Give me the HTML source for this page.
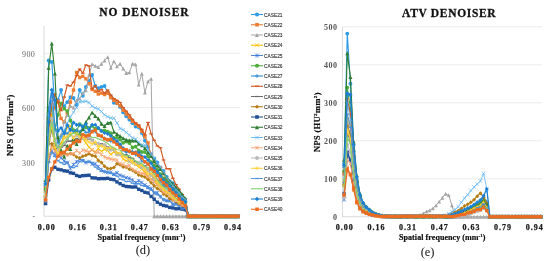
<!DOCTYPE html>
<html><head><meta charset="utf-8"><title>NPS charts</title>
<style>html,body{margin:0;padding:0;background:#fff}body{width:550px;height:261px;position:relative;overflow:hidden}</style>
</head><body>
<svg width="550" height="261" viewBox="0 0 550 261" style="position:absolute;left:0;top:0">
<line x1="44" x2="240" y1="161.92" y2="161.92" stroke="#E6E6E6" stroke-width="0.8"/>
<line x1="44" x2="240" y1="107.59" y2="107.59" stroke="#E6E6E6" stroke-width="0.8"/>
<line x1="44" x2="240" y1="53.27" y2="53.27" stroke="#E6E6E6" stroke-width="0.8"/>
<line x1="44" x2="240" y1="216.25" y2="216.25" stroke="#D0D0D0" stroke-width="0.8"/>
<line x1="44" x2="44" y1="26" y2="216.5" stroke="#D0D0D0" stroke-width="0.8"/>
<line x1="342.5" x2="542" y1="178.75" y2="178.75" stroke="#E6E6E6" stroke-width="0.8"/>
<line x1="342.5" x2="542" y1="140.75" y2="140.75" stroke="#E6E6E6" stroke-width="0.8"/>
<line x1="342.5" x2="542" y1="102.75" y2="102.75" stroke="#E6E6E6" stroke-width="0.8"/>
<line x1="342.5" x2="542" y1="64.75" y2="64.75" stroke="#E6E6E6" stroke-width="0.8"/>
<line x1="342.5" x2="542" y1="26.75" y2="26.75" stroke="#E6E6E6" stroke-width="0.8"/>
<line x1="342.5" x2="542" y1="216.75" y2="216.75" stroke="#D0D0D0" stroke-width="0.8"/>
<line x1="342.5" x2="342.5" y1="27" y2="217" stroke="#D0D0D0" stroke-width="0.8"/>
<g id="LCASE21"><polyline points="45.5,185.5 48.7,60.5 51.8,62.0 54.9,107.6 58.0,100.0 61.1,90.0 64.2,106.5 67.3,102.2 70.4,97.1 73.5,98.0 76.6,104.9 79.7,90.0 82.8,95.8 85.9,87.0 89.0,80.9 92.1,75.0 95.2,86.0 98.3,88.1 101.4,86.9 104.5,86.0 107.7,92.5 110.8,96.8 113.9,102.8 117.0,103.2 120.1,106.9 123.2,112.4 126.3,116.3 129.4,119.6 132.5,123.2 135.6,126.6 138.7,127.2 141.8,133.0 144.9,140.7 148.0,146.8 151.1,154.1 154.2,158.5 157.3,162.4 160.4,167.6 163.5,170.9 166.6,176.9 169.8,181.4 172.9,183.3 176.0,189.0 179.1,194.2 182.2,197.1 185.3,201.3 188.4,216.2 191.5,216.2 194.6,216.2 197.7,216.2 200.8,216.2 203.9,216.2 207.0,216.2 210.1,216.2 213.2,216.2 216.3,216.2 219.4,216.2 222.5,216.2 225.6,216.2 228.7,216.2 231.9,216.2 235.0,216.2 238.1,216.2" fill="none" stroke="#2E9BE6" stroke-width="1.14" stroke-linejoin="round"/>
<g><circle cx="45.55" cy="185.46" r="1.92" fill="#2E9BE6"/><circle cx="48.65" cy="60.51" r="1.92" fill="#2E9BE6"/><circle cx="51.76" cy="61.96" r="1.92" fill="#2E9BE6"/><circle cx="54.86" cy="107.59" r="1.92" fill="#2E9BE6"/><circle cx="57.97" cy="99.99" r="1.92" fill="#2E9BE6"/><circle cx="61.07" cy="90.03" r="1.92" fill="#2E9BE6"/><circle cx="64.18" cy="106.51" r="1.92" fill="#2E9BE6"/><circle cx="67.28" cy="102.16" r="1.92" fill="#2E9BE6"/><circle cx="70.39" cy="97.09" r="1.92" fill="#2E9BE6"/><circle cx="73.5" cy="98" r="1.92" fill="#2E9BE6"/><circle cx="76.6" cy="104.88" r="1.92" fill="#2E9BE6"/><circle cx="79.7" cy="90.03" r="1.92" fill="#2E9BE6"/><circle cx="82.81" cy="95.76" r="1.92" fill="#2E9BE6"/><circle cx="85.91" cy="87.02" r="1.92" fill="#2E9BE6"/><circle cx="89.02" cy="80.89" r="1.92" fill="#2E9BE6"/><circle cx="92.12" cy="75" r="1.92" fill="#2E9BE6"/><circle cx="95.23" cy="86.04" r="1.92" fill="#2E9BE6"/><circle cx="98.33" cy="88.06" r="1.92" fill="#2E9BE6"/><circle cx="101.44" cy="86.95" r="1.92" fill="#2E9BE6"/><circle cx="104.54" cy="85.97" r="1.92" fill="#2E9BE6"/><circle cx="107.65" cy="92.45" r="1.92" fill="#2E9BE6"/><circle cx="110.75" cy="96.76" r="1.92" fill="#2E9BE6"/><circle cx="113.86" cy="102.81" r="1.92" fill="#2E9BE6"/><circle cx="116.97" cy="103.25" r="1.92" fill="#2E9BE6"/><circle cx="120.07" cy="106.9" r="1.92" fill="#2E9BE6"/><circle cx="123.17" cy="112.42" r="1.92" fill="#2E9BE6"/><circle cx="126.28" cy="116.28" r="1.92" fill="#2E9BE6"/><circle cx="129.38" cy="119.63" r="1.92" fill="#2E9BE6"/><circle cx="132.49" cy="123.2" r="1.92" fill="#2E9BE6"/><circle cx="135.59" cy="126.61" r="1.92" fill="#2E9BE6"/><circle cx="138.7" cy="127.23" r="1.92" fill="#2E9BE6"/><circle cx="141.81" cy="132.97" r="1.92" fill="#2E9BE6"/><circle cx="144.91" cy="140.65" r="1.92" fill="#2E9BE6"/><circle cx="148.01" cy="146.76" r="1.92" fill="#2E9BE6"/><circle cx="151.12" cy="154.07" r="1.92" fill="#2E9BE6"/><circle cx="154.22" cy="158.55" r="1.92" fill="#2E9BE6"/><circle cx="157.33" cy="162.38" r="1.92" fill="#2E9BE6"/><circle cx="160.44" cy="167.58" r="1.92" fill="#2E9BE6"/><circle cx="163.54" cy="170.93" r="1.92" fill="#2E9BE6"/><circle cx="166.64" cy="176.94" r="1.92" fill="#2E9BE6"/><circle cx="169.75" cy="181.41" r="1.92" fill="#2E9BE6"/><circle cx="172.85" cy="183.25" r="1.92" fill="#2E9BE6"/><circle cx="175.96" cy="189" r="1.92" fill="#2E9BE6"/><circle cx="179.06" cy="194.18" r="1.92" fill="#2E9BE6"/><circle cx="182.17" cy="197.11" r="1.92" fill="#2E9BE6"/><circle cx="185.27" cy="201.32" r="1.92" fill="#2E9BE6"/><circle cx="188.38" cy="216.25" r="1.92" fill="#2E9BE6"/><circle cx="191.49" cy="216.25" r="1.92" fill="#2E9BE6"/><circle cx="194.59" cy="216.25" r="1.92" fill="#2E9BE6"/><circle cx="197.69" cy="216.25" r="1.92" fill="#2E9BE6"/><circle cx="200.8" cy="216.25" r="1.92" fill="#2E9BE6"/><circle cx="203.9" cy="216.25" r="1.92" fill="#2E9BE6"/><circle cx="207.01" cy="216.25" r="1.92" fill="#2E9BE6"/><circle cx="210.12" cy="216.25" r="1.92" fill="#2E9BE6"/><circle cx="213.22" cy="216.25" r="1.92" fill="#2E9BE6"/><circle cx="216.32" cy="216.25" r="1.92" fill="#2E9BE6"/><circle cx="219.43" cy="216.25" r="1.92" fill="#2E9BE6"/><circle cx="222.53" cy="216.25" r="1.92" fill="#2E9BE6"/><circle cx="225.64" cy="216.25" r="1.92" fill="#2E9BE6"/><circle cx="228.75" cy="216.25" r="1.92" fill="#2E9BE6"/><circle cx="231.85" cy="216.25" r="1.92" fill="#2E9BE6"/><circle cx="234.95" cy="216.25" r="1.92" fill="#2E9BE6"/><circle cx="238.06" cy="216.25" r="1.92" fill="#2E9BE6"/></g></g>
<g id="LCASE22"><polyline points="45.5,190.9 48.7,140.2 51.8,114.8 54.9,107.6 58.0,101.4 61.1,118.5 64.2,122.1 67.3,113.6 70.4,102.2 73.5,90.0 76.6,72.5 79.7,77.5 82.8,76.3 85.9,78.8 89.0,83.7 92.1,89.5 95.2,91.3 98.3,94.0 101.4,93.1 104.5,94.6 107.7,93.1 110.8,97.6 113.9,100.3 117.0,103.1 120.1,105.8 123.2,110.3 126.3,113.9 129.4,117.6 132.5,121.2 135.6,123.9 138.7,126.1 141.8,131.1 144.9,136.6 148.0,142.9 151.1,155.9 154.2,161.9 157.3,165.5 160.4,168.3 163.5,173.7 166.6,179.1 169.8,183.7 172.9,187.3 176.0,191.8 179.1,196.3 182.2,199.0 185.3,201.8 188.4,216.2 191.5,216.2 194.6,216.2 197.7,216.2 200.8,216.2 203.9,216.2 207.0,216.2 210.1,216.2 213.2,216.2 216.3,216.2 219.4,216.2 222.5,216.2 225.6,216.2 228.7,216.2 231.9,216.2 235.0,216.2 238.1,216.2" fill="none" stroke="#ED7D31" stroke-width="1.14" stroke-linejoin="round"/>
<g><rect x="43.85" y="189.2" width="3.4" height="3.4" fill="#ED7D31"/><rect x="46.95" y="138.49" width="3.4" height="3.4" fill="#ED7D31"/><rect x="50.06" y="113.14" width="3.4" height="3.4" fill="#ED7D31"/><rect x="53.16" y="105.89" width="3.4" height="3.4" fill="#ED7D31"/><rect x="56.27" y="99.74" width="3.4" height="3.4" fill="#ED7D31"/><rect x="59.37" y="116.76" width="3.4" height="3.4" fill="#ED7D31"/><rect x="62.48" y="120.38" width="3.4" height="3.4" fill="#ED7D31"/><rect x="65.58" y="111.87" width="3.4" height="3.4" fill="#ED7D31"/><rect x="68.69" y="100.46" width="3.4" height="3.4" fill="#ED7D31"/><rect x="71.8" y="88.33" width="3.4" height="3.4" fill="#ED7D31"/><rect x="74.9" y="70.76" width="3.4" height="3.4" fill="#ED7D31"/><rect x="78" y="75.83" width="3.4" height="3.4" fill="#ED7D31"/><rect x="81.11" y="74.56" width="3.4" height="3.4" fill="#ED7D31"/><rect x="84.21" y="77.1" width="3.4" height="3.4" fill="#ED7D31"/><rect x="87.32" y="81.99" width="3.4" height="3.4" fill="#ED7D31"/><rect x="90.42" y="87.78" width="3.4" height="3.4" fill="#ED7D31"/><rect x="93.53" y="89.6" width="3.4" height="3.4" fill="#ED7D31"/><rect x="96.63" y="92.31" width="3.4" height="3.4" fill="#ED7D31"/><rect x="99.74" y="91.41" width="3.4" height="3.4" fill="#ED7D31"/><rect x="102.84" y="92.85" width="3.4" height="3.4" fill="#ED7D31"/><rect x="105.95" y="91.41" width="3.4" height="3.4" fill="#ED7D31"/><rect x="109.05" y="95.93" width="3.4" height="3.4" fill="#ED7D31"/><rect x="112.16" y="98.65" width="3.4" height="3.4" fill="#ED7D31"/><rect x="115.27" y="101.37" width="3.4" height="3.4" fill="#ED7D31"/><rect x="118.37" y="104.08" width="3.4" height="3.4" fill="#ED7D31"/><rect x="121.47" y="108.61" width="3.4" height="3.4" fill="#ED7D31"/><rect x="124.58" y="112.23" width="3.4" height="3.4" fill="#ED7D31"/><rect x="127.68" y="115.85" width="3.4" height="3.4" fill="#ED7D31"/><rect x="130.79" y="119.48" width="3.4" height="3.4" fill="#ED7D31"/><rect x="133.9" y="122.19" width="3.4" height="3.4" fill="#ED7D31"/><rect x="137" y="124.37" width="3.4" height="3.4" fill="#ED7D31"/><rect x="140.11" y="129.44" width="3.4" height="3.4" fill="#ED7D31"/><rect x="143.21" y="134.87" width="3.4" height="3.4" fill="#ED7D31"/><rect x="146.31" y="141.21" width="3.4" height="3.4" fill="#ED7D31"/><rect x="149.42" y="154.25" width="3.4" height="3.4" fill="#ED7D31"/><rect x="152.53" y="160.22" width="3.4" height="3.4" fill="#ED7D31"/><rect x="155.63" y="163.84" width="3.4" height="3.4" fill="#ED7D31"/><rect x="158.74" y="166.56" width="3.4" height="3.4" fill="#ED7D31"/><rect x="161.84" y="171.99" width="3.4" height="3.4" fill="#ED7D31"/><rect x="164.94" y="177.43" width="3.4" height="3.4" fill="#ED7D31"/><rect x="168.05" y="181.95" width="3.4" height="3.4" fill="#ED7D31"/><rect x="171.16" y="185.57" width="3.4" height="3.4" fill="#ED7D31"/><rect x="174.26" y="190.1" width="3.4" height="3.4" fill="#ED7D31"/><rect x="177.37" y="194.63" width="3.4" height="3.4" fill="#ED7D31"/><rect x="180.47" y="197.35" width="3.4" height="3.4" fill="#ED7D31"/><rect x="183.57" y="200.06" width="3.4" height="3.4" fill="#ED7D31"/><rect x="186.68" y="214.55" width="3.4" height="3.4" fill="#ED7D31"/><rect x="189.79" y="214.55" width="3.4" height="3.4" fill="#ED7D31"/><rect x="192.89" y="214.55" width="3.4" height="3.4" fill="#ED7D31"/><rect x="196" y="214.55" width="3.4" height="3.4" fill="#ED7D31"/><rect x="199.1" y="214.55" width="3.4" height="3.4" fill="#ED7D31"/><rect x="202.2" y="214.55" width="3.4" height="3.4" fill="#ED7D31"/><rect x="205.31" y="214.55" width="3.4" height="3.4" fill="#ED7D31"/><rect x="208.42" y="214.55" width="3.4" height="3.4" fill="#ED7D31"/><rect x="211.52" y="214.55" width="3.4" height="3.4" fill="#ED7D31"/><rect x="214.62" y="214.55" width="3.4" height="3.4" fill="#ED7D31"/><rect x="217.73" y="214.55" width="3.4" height="3.4" fill="#ED7D31"/><rect x="220.83" y="214.55" width="3.4" height="3.4" fill="#ED7D31"/><rect x="223.94" y="214.55" width="3.4" height="3.4" fill="#ED7D31"/><rect x="227.05" y="214.55" width="3.4" height="3.4" fill="#ED7D31"/><rect x="230.15" y="214.55" width="3.4" height="3.4" fill="#ED7D31"/><rect x="233.25" y="214.55" width="3.4" height="3.4" fill="#ED7D31"/><rect x="236.36" y="214.55" width="3.4" height="3.4" fill="#ED7D31"/></g></g>
<g id="LCASE23"><polyline points="45.5,198.1 48.7,143.8 51.8,122.1 54.9,151.1 58.0,147.4 61.1,134.8 64.2,122.1 67.3,114.8 70.4,105.8 73.5,107.6 76.6,100.3 79.7,98.5 82.8,93.1 85.9,90.4 89.0,75.0 92.1,64.1 95.2,65.9 98.3,67.0 101.4,63.8 104.5,60.5 107.7,57.1 110.8,67.9 113.9,61.2 117.0,66.3 120.1,63.8 123.2,68.7 126.3,73.0 129.4,72.5 132.5,63.8 135.6,64.3 138.7,84.6 141.8,73.7 144.9,92.6 148.0,81.3 151.1,78.8 154.2,216.2 157.3,216.2 160.4,216.2 163.5,216.2 166.6,216.2 169.8,216.2 172.9,216.2 176.0,216.2 179.1,216.2 182.2,216.2 185.3,216.2 188.4,216.2 191.5,216.2 194.6,216.2 197.7,216.2 200.8,216.2 203.9,216.2 207.0,216.2 210.1,216.2 213.2,216.2 216.3,216.2 219.4,216.2 222.5,216.2 225.6,216.2 228.7,216.2 231.9,216.2 235.0,216.2 238.1,216.2" fill="none" stroke="#A5A5A5" stroke-width="1.0" stroke-linejoin="round"/>
<g><path d="M45.55 196.24L47.45 200.04L43.65 200.04Z" fill="#A5A5A5"/><path d="M48.65 141.91L50.55 145.71L46.75 145.71Z" fill="#A5A5A5"/><path d="M51.76 120.18L53.66 123.98L49.86 123.98Z" fill="#A5A5A5"/><path d="M54.86 149.16L56.76 152.96L52.96 152.96Z" fill="#A5A5A5"/><path d="M57.97 145.53L59.87 149.33L56.07 149.33Z" fill="#A5A5A5"/><path d="M61.07 132.86L62.97 136.66L59.17 136.66Z" fill="#A5A5A5"/><path d="M64.18 120.18L66.08 123.98L62.28 123.98Z" fill="#A5A5A5"/><path d="M67.28 112.94L69.19 116.74L65.38 116.74Z" fill="#A5A5A5"/><path d="M70.39 103.88L72.29 107.68L68.49 107.68Z" fill="#A5A5A5"/><path d="M73.5 105.69L75.4 109.49L71.59 109.49Z" fill="#A5A5A5"/><path d="M76.6 98.45L78.5 102.25L74.7 102.25Z" fill="#A5A5A5"/><path d="M79.7 96.64L81.61 100.44L77.8 100.44Z" fill="#A5A5A5"/><path d="M82.81 91.21L84.71 95.01L80.91 95.01Z" fill="#A5A5A5"/><path d="M85.91 88.49L87.81 92.29L84.01 92.29Z" fill="#A5A5A5"/><path d="M89.02 73.1L90.92 76.9L87.12 76.9Z" fill="#A5A5A5"/><path d="M92.12 62.23L94.03 66.03L90.22 66.03Z" fill="#A5A5A5"/><path d="M95.23 64.04L97.13 67.84L93.33 67.84Z" fill="#A5A5A5"/><path d="M98.33 65.13L100.23 68.93L96.43 68.93Z" fill="#A5A5A5"/><path d="M101.44 61.87L103.34 65.67L99.54 65.67Z" fill="#A5A5A5"/><path d="M104.54 58.61L106.44 62.41L102.64 62.41Z" fill="#A5A5A5"/><path d="M107.65 55.17L109.55 58.97L105.75 58.97Z" fill="#A5A5A5"/><path d="M110.75 66.03L112.66 69.83L108.85 69.83Z" fill="#A5A5A5"/><path d="M113.86 59.33L115.76 63.13L111.96 63.13Z" fill="#A5A5A5"/><path d="M116.97 64.4L118.87 68.2L115.06 68.2Z" fill="#A5A5A5"/><path d="M120.07 61.87L121.97 65.67L118.17 65.67Z" fill="#A5A5A5"/><path d="M123.17 66.76L125.08 70.56L121.27 70.56Z" fill="#A5A5A5"/><path d="M126.28 71.1L128.18 74.9L124.38 74.9Z" fill="#A5A5A5"/><path d="M129.38 70.56L131.28 74.36L127.48 74.36Z" fill="#A5A5A5"/><path d="M132.49 61.87L134.39 65.67L130.59 65.67Z" fill="#A5A5A5"/><path d="M135.59 62.41L137.5 66.21L133.69 66.21Z" fill="#A5A5A5"/><path d="M138.7 82.69L140.6 86.49L136.8 86.49Z" fill="#A5A5A5"/><path d="M141.81 71.83L143.71 75.63L139.91 75.63Z" fill="#A5A5A5"/><path d="M144.91 90.66L146.81 94.46L143.01 94.46Z" fill="#A5A5A5"/><path d="M148.01 79.44L149.91 83.24L146.11 83.24Z" fill="#A5A5A5"/><path d="M151.12 76.9L153.02 80.7L149.22 80.7Z" fill="#A5A5A5"/><path d="M154.22 214.35L156.12 218.15L152.32 218.15Z" fill="#A5A5A5"/><path d="M157.33 214.35L159.23 218.15L155.43 218.15Z" fill="#A5A5A5"/><path d="M160.44 214.35L162.34 218.15L158.53 218.15Z" fill="#A5A5A5"/><path d="M163.54 214.35L165.44 218.15L161.64 218.15Z" fill="#A5A5A5"/><path d="M166.64 214.35L168.54 218.15L164.74 218.15Z" fill="#A5A5A5"/><path d="M169.75 214.35L171.65 218.15L167.85 218.15Z" fill="#A5A5A5"/><path d="M172.85 214.35L174.75 218.15L170.95 218.15Z" fill="#A5A5A5"/><path d="M175.96 214.35L177.86 218.15L174.06 218.15Z" fill="#A5A5A5"/><path d="M179.06 214.35L180.97 218.15L177.16 218.15Z" fill="#A5A5A5"/><path d="M182.17 214.35L184.07 218.15L180.27 218.15Z" fill="#A5A5A5"/><path d="M185.27 214.35L187.17 218.15L183.37 218.15Z" fill="#A5A5A5"/><path d="M188.38 214.35L190.28 218.15L186.48 218.15Z" fill="#A5A5A5"/><path d="M191.49 214.35L193.39 218.15L189.59 218.15Z" fill="#A5A5A5"/><path d="M194.59 214.35L196.49 218.15L192.69 218.15Z" fill="#A5A5A5"/><path d="M197.69 214.35L199.59 218.15L195.79 218.15Z" fill="#A5A5A5"/><path d="M200.8 214.35L202.7 218.15L198.9 218.15Z" fill="#A5A5A5"/><path d="M203.9 214.35L205.8 218.15L202 218.15Z" fill="#A5A5A5"/><path d="M207.01 214.35L208.91 218.15L205.11 218.15Z" fill="#A5A5A5"/><path d="M210.12 214.35L212.02 218.15L208.22 218.15Z" fill="#A5A5A5"/><path d="M213.22 214.35L215.12 218.15L211.32 218.15Z" fill="#A5A5A5"/><path d="M216.32 214.35L218.22 218.15L214.42 218.15Z" fill="#A5A5A5"/><path d="M219.43 214.35L221.33 218.15L217.53 218.15Z" fill="#A5A5A5"/><path d="M222.53 214.35L224.43 218.15L220.63 218.15Z" fill="#A5A5A5"/><path d="M225.64 214.35L227.54 218.15L223.74 218.15Z" fill="#A5A5A5"/><path d="M228.75 214.35L230.65 218.15L226.84 218.15Z" fill="#A5A5A5"/><path d="M231.85 214.35L233.75 218.15L229.95 218.15Z" fill="#A5A5A5"/><path d="M234.95 214.35L236.85 218.15L233.05 218.15Z" fill="#A5A5A5"/><path d="M238.06 214.35L239.96 218.15L236.16 218.15Z" fill="#A5A5A5"/></g></g>
<g id="LCASE24"><polyline points="45.5,194.5 48.7,129.3 51.8,114.8 54.9,138.4 58.0,151.2 61.1,142.9 64.2,135.9 67.3,127.6 70.4,125.8 73.5,131.4 76.6,133.3 79.7,134.8 82.8,138.6 85.9,142.9 89.0,147.2 92.1,149.9 95.2,151.9 98.3,148.7 101.4,151.4 104.5,149.5 107.7,150.5 110.8,154.5 113.9,151.9 117.0,154.2 120.1,154.7 123.2,159.2 126.3,160.7 129.4,161.9 132.5,160.7 135.6,164.3 138.7,167.1 141.8,169.0 144.9,172.0 148.0,176.1 151.1,179.0 154.2,179.0 157.3,184.6 160.4,184.5 163.5,190.2 166.6,192.8 169.8,194.5 172.9,198.4 176.0,200.1 179.1,199.8 182.2,202.3 185.3,204.4 188.4,216.2 191.5,216.2 194.6,216.2 197.7,216.2 200.8,216.2 203.9,216.2 207.0,216.2 210.1,216.2 213.2,216.2 216.3,216.2 219.4,216.2 222.5,216.2 225.6,216.2 228.7,216.2 231.9,216.2 235.0,216.2 238.1,216.2" fill="none" stroke="#FFC000" stroke-width="1.14" stroke-linejoin="round"/>
<g><path d="M43.63 192.6L47.47 196.44M43.63 196.44L47.47 192.6" stroke="#FFC000" stroke-width="0.7" fill="none"/><path d="M46.73 127.4L50.57 131.24M46.73 131.24L50.57 127.4" stroke="#FFC000" stroke-width="0.7" fill="none"/><path d="M49.84 112.92L53.68 116.76M49.84 116.76L53.68 112.92" stroke="#FFC000" stroke-width="0.7" fill="none"/><path d="M52.94 136.46L56.78 140.3M52.94 140.3L56.78 136.46" stroke="#FFC000" stroke-width="0.7" fill="none"/><path d="M56.05 149.27L59.89 153.11M56.05 153.11L59.89 149.27" stroke="#FFC000" stroke-width="0.7" fill="none"/><path d="M59.15 141.01L62.99 144.85M59.15 144.85L62.99 141.01" stroke="#FFC000" stroke-width="0.7" fill="none"/><path d="M62.26 134.01L66.1 137.85M62.26 137.85L66.1 134.01" stroke="#FFC000" stroke-width="0.7" fill="none"/><path d="M65.36 125.68L69.2 129.52M65.36 129.52L69.2 125.68" stroke="#FFC000" stroke-width="0.7" fill="none"/><path d="M68.47 123.84L72.31 127.68M68.47 127.68L72.31 123.84" stroke="#FFC000" stroke-width="0.7" fill="none"/><path d="M71.58 129.47L75.42 133.31M71.58 133.31L75.42 129.47" stroke="#FFC000" stroke-width="0.7" fill="none"/><path d="M74.68 131.37L78.52 135.21M74.68 135.21L78.52 131.37" stroke="#FFC000" stroke-width="0.7" fill="none"/><path d="M77.78 132.87L81.62 136.71M77.78 136.71L81.62 132.87" stroke="#FFC000" stroke-width="0.7" fill="none"/><path d="M80.89 136.67L84.73 140.51M80.89 140.51L84.73 136.67" stroke="#FFC000" stroke-width="0.7" fill="none"/><path d="M83.99 140.94L87.83 144.78M83.99 144.78L87.83 140.94" stroke="#FFC000" stroke-width="0.7" fill="none"/><path d="M87.1 145.26L90.94 149.1M87.1 149.1L90.94 145.26" stroke="#FFC000" stroke-width="0.7" fill="none"/><path d="M90.2 148L94.05 151.84M90.2 151.84L94.05 148" stroke="#FFC000" stroke-width="0.7" fill="none"/><path d="M93.31 149.94L97.15 153.78M93.31 153.78L97.15 149.94" stroke="#FFC000" stroke-width="0.7" fill="none"/><path d="M96.41 146.75L100.25 150.59M96.41 150.59L100.25 146.75" stroke="#FFC000" stroke-width="0.7" fill="none"/><path d="M99.52 149.49L103.36 153.33M99.52 153.33L103.36 149.49" stroke="#FFC000" stroke-width="0.7" fill="none"/><path d="M102.62 147.59L106.46 151.43M102.62 151.43L106.46 147.59" stroke="#FFC000" stroke-width="0.7" fill="none"/><path d="M105.73 148.57L109.57 152.41M105.73 152.41L109.57 148.57" stroke="#FFC000" stroke-width="0.7" fill="none"/><path d="M108.83 152.6L112.67 156.44M108.83 156.44L112.67 152.6" stroke="#FFC000" stroke-width="0.7" fill="none"/><path d="M111.94 150L115.78 153.84M111.94 153.84L115.78 150" stroke="#FFC000" stroke-width="0.7" fill="none"/><path d="M115.05 152.28L118.89 156.12M115.05 156.12L118.89 152.28" stroke="#FFC000" stroke-width="0.7" fill="none"/><path d="M118.15 152.82L121.99 156.66M118.15 156.66L121.99 152.82" stroke="#FFC000" stroke-width="0.7" fill="none"/><path d="M121.25 157.29L125.09 161.13M121.25 161.13L125.09 157.29" stroke="#FFC000" stroke-width="0.7" fill="none"/><path d="M124.36 158.75L128.2 162.59M124.36 162.59L128.2 158.75" stroke="#FFC000" stroke-width="0.7" fill="none"/><path d="M127.46 160.01L131.3 163.85M127.46 163.85L131.3 160.01" stroke="#FFC000" stroke-width="0.7" fill="none"/><path d="M130.57 158.74L134.41 162.58M130.57 162.58L134.41 158.74" stroke="#FFC000" stroke-width="0.7" fill="none"/><path d="M133.68 162.33L137.51 166.17M133.68 166.17L137.51 162.33" stroke="#FFC000" stroke-width="0.7" fill="none"/><path d="M136.78 165.13L140.62 168.97M136.78 168.97L140.62 165.13" stroke="#FFC000" stroke-width="0.7" fill="none"/><path d="M139.89 167.11L143.72 170.95M139.89 170.95L143.72 167.11" stroke="#FFC000" stroke-width="0.7" fill="none"/><path d="M142.99 170.03L146.83 173.87M142.99 173.87L146.83 170.03" stroke="#FFC000" stroke-width="0.7" fill="none"/><path d="M146.09 174.19L149.93 178.03M146.09 178.03L149.93 174.19" stroke="#FFC000" stroke-width="0.7" fill="none"/><path d="M149.2 177.13L153.04 180.97M149.2 180.97L153.04 177.13" stroke="#FFC000" stroke-width="0.7" fill="none"/><path d="M152.31 177.11L156.14 180.95M152.31 180.95L156.14 177.11" stroke="#FFC000" stroke-width="0.7" fill="none"/><path d="M155.41 182.66L159.25 186.5M155.41 186.5L159.25 182.66" stroke="#FFC000" stroke-width="0.7" fill="none"/><path d="M158.52 182.56L162.35 186.4M158.52 186.4L162.35 182.56" stroke="#FFC000" stroke-width="0.7" fill="none"/><path d="M161.62 188.26L165.46 192.1M161.62 192.1L165.46 188.26" stroke="#FFC000" stroke-width="0.7" fill="none"/><path d="M164.72 190.9L168.56 194.74M164.72 194.74L168.56 190.9" stroke="#FFC000" stroke-width="0.7" fill="none"/><path d="M167.83 192.55L171.67 196.39M167.83 196.39L171.67 192.55" stroke="#FFC000" stroke-width="0.7" fill="none"/><path d="M170.94 196.48L174.77 200.32M170.94 200.32L174.77 196.48" stroke="#FFC000" stroke-width="0.7" fill="none"/><path d="M174.04 198.22L177.88 202.06M174.04 202.06L177.88 198.22" stroke="#FFC000" stroke-width="0.7" fill="none"/><path d="M177.15 197.86L180.98 201.7M177.15 201.7L180.98 197.86" stroke="#FFC000" stroke-width="0.7" fill="none"/><path d="M180.25 200.35L184.09 204.19M180.25 204.19L184.09 200.35" stroke="#FFC000" stroke-width="0.7" fill="none"/><path d="M183.35 202.47L187.19 206.31M183.35 206.31L187.19 202.47" stroke="#FFC000" stroke-width="0.7" fill="none"/><path d="M186.46 214.33L190.3 218.17M186.46 218.17L190.3 214.33" stroke="#FFC000" stroke-width="0.7" fill="none"/><path d="M189.57 214.33L193.41 218.17M189.57 218.17L193.41 214.33" stroke="#FFC000" stroke-width="0.7" fill="none"/><path d="M192.67 214.33L196.51 218.17M192.67 218.17L196.51 214.33" stroke="#FFC000" stroke-width="0.7" fill="none"/><path d="M195.78 214.33L199.61 218.17M195.78 218.17L199.61 214.33" stroke="#FFC000" stroke-width="0.7" fill="none"/><path d="M198.88 214.33L202.72 218.17M198.88 218.17L202.72 214.33" stroke="#FFC000" stroke-width="0.7" fill="none"/><path d="M201.98 214.33L205.82 218.17M201.98 218.17L205.82 214.33" stroke="#FFC000" stroke-width="0.7" fill="none"/><path d="M205.09 214.33L208.93 218.17M205.09 218.17L208.93 214.33" stroke="#FFC000" stroke-width="0.7" fill="none"/><path d="M208.2 214.33L212.03 218.17M208.2 218.17L212.03 214.33" stroke="#FFC000" stroke-width="0.7" fill="none"/><path d="M211.3 214.33L215.14 218.17M211.3 218.17L215.14 214.33" stroke="#FFC000" stroke-width="0.7" fill="none"/><path d="M214.41 214.33L218.24 218.17M214.41 218.17L218.24 214.33" stroke="#FFC000" stroke-width="0.7" fill="none"/><path d="M217.51 214.33L221.35 218.17M217.51 218.17L221.35 214.33" stroke="#FFC000" stroke-width="0.7" fill="none"/><path d="M220.61 214.33L224.45 218.17M220.61 218.17L224.45 214.33" stroke="#FFC000" stroke-width="0.7" fill="none"/><path d="M223.72 214.33L227.56 218.17M223.72 218.17L227.56 214.33" stroke="#FFC000" stroke-width="0.7" fill="none"/><path d="M226.83 214.33L230.66 218.17M226.83 218.17L230.66 214.33" stroke="#FFC000" stroke-width="0.7" fill="none"/><path d="M229.93 214.33L233.77 218.17M229.93 218.17L233.77 214.33" stroke="#FFC000" stroke-width="0.7" fill="none"/><path d="M233.03 214.33L236.87 218.17M233.03 218.17L236.87 214.33" stroke="#FFC000" stroke-width="0.7" fill="none"/><path d="M236.14 214.33L239.98 218.17M236.14 218.17L239.98 214.33" stroke="#FFC000" stroke-width="0.7" fill="none"/></g></g>
<g id="LCASE25"><polyline points="45.5,202.7 48.7,156.5 51.8,151.1 54.9,154.7 58.0,155.1 61.1,157.8 64.2,161.1 67.3,162.6 70.4,168.7 73.5,164.6 76.6,161.9 79.7,158.9 82.8,160.8 85.9,162.6 89.0,161.6 92.1,164.1 95.2,164.0 98.3,166.7 101.4,169.8 104.5,171.6 107.7,172.3 110.8,172.4 113.9,174.2 117.0,172.9 120.1,175.3 123.2,176.4 126.3,177.8 129.4,178.5 132.5,180.1 135.6,182.7 138.7,180.8 141.8,182.6 144.9,185.1 148.0,187.0 151.1,188.5 154.2,192.9 157.3,192.8 160.4,196.8 163.5,199.7 166.6,200.6 169.8,200.6 172.9,204.0 176.0,203.6 179.1,204.1 182.2,207.2 185.3,208.7 188.4,216.2 191.5,216.2 194.6,216.2 197.7,216.2 200.8,216.2 203.9,216.2 207.0,216.2 210.1,216.2 213.2,216.2 216.3,216.2 219.4,216.2 222.5,216.2 225.6,216.2 228.7,216.2 231.9,216.2 235.0,216.2 238.1,216.2" fill="none" stroke="#3C78D8" stroke-width="0.92" stroke-linejoin="round"/>
<g><path d="M43.63 200.75L47.47 204.59M43.63 204.59L47.47 200.75M45.55 200.75L45.55 204.59" stroke="#3C78D8" stroke-width="0.7" fill="none"/><path d="M46.73 154.57L50.57 158.41M46.73 158.41L50.57 154.57M48.65 154.57L48.65 158.41" stroke="#3C78D8" stroke-width="0.7" fill="none"/><path d="M49.84 149.14L53.68 152.98M49.84 152.98L53.68 149.14M51.76 149.14L51.76 152.98" stroke="#3C78D8" stroke-width="0.7" fill="none"/><path d="M52.94 152.76L56.78 156.6M52.94 156.6L56.78 152.76M54.86 152.76L54.86 156.6" stroke="#3C78D8" stroke-width="0.7" fill="none"/><path d="M56.05 153.15L59.89 156.99M56.05 156.99L59.89 153.15M57.97 153.15L57.97 156.99" stroke="#3C78D8" stroke-width="0.7" fill="none"/><path d="M59.15 155.92L62.99 159.76M59.15 159.76L62.99 155.92M61.07 155.92L61.07 159.76" stroke="#3C78D8" stroke-width="0.7" fill="none"/><path d="M62.26 159.15L66.1 162.99M62.26 162.99L66.1 159.15M64.18 159.15L64.18 162.99" stroke="#3C78D8" stroke-width="0.7" fill="none"/><path d="M65.36 160.68L69.2 164.52M65.36 164.52L69.2 160.68M67.28 160.68L67.28 164.52" stroke="#3C78D8" stroke-width="0.7" fill="none"/><path d="M68.47 166.74L72.31 170.58M68.47 170.58L72.31 166.74M70.39 166.74L70.39 170.58" stroke="#3C78D8" stroke-width="0.7" fill="none"/><path d="M71.58 162.63L75.42 166.47M71.58 166.47L75.42 162.63M73.5 162.63L73.5 166.47" stroke="#3C78D8" stroke-width="0.7" fill="none"/><path d="M74.68 159.99L78.52 163.83M74.68 163.83L78.52 159.99M76.6 159.99L76.6 163.83" stroke="#3C78D8" stroke-width="0.7" fill="none"/><path d="M77.78 156.98L81.62 160.82M77.78 160.82L81.62 156.98M79.7 156.98L79.7 160.82" stroke="#3C78D8" stroke-width="0.7" fill="none"/><path d="M80.89 158.9L84.73 162.74M80.89 162.74L84.73 158.9M82.81 158.9L82.81 162.74" stroke="#3C78D8" stroke-width="0.7" fill="none"/><path d="M83.99 160.63L87.83 164.47M83.99 164.47L87.83 160.63M85.91 160.63L85.91 164.47" stroke="#3C78D8" stroke-width="0.7" fill="none"/><path d="M87.1 159.7L90.94 163.54M87.1 163.54L90.94 159.7M89.02 159.7L89.02 163.54" stroke="#3C78D8" stroke-width="0.7" fill="none"/><path d="M90.2 162.2L94.05 166.04M90.2 166.04L94.05 162.2M92.12 162.2L92.12 166.04" stroke="#3C78D8" stroke-width="0.7" fill="none"/><path d="M93.31 162.06L97.15 165.9M93.31 165.9L97.15 162.06M95.23 162.06L95.23 165.9" stroke="#3C78D8" stroke-width="0.7" fill="none"/><path d="M96.41 164.73L100.25 168.57M96.41 168.57L100.25 164.73M98.33 164.73L98.33 168.57" stroke="#3C78D8" stroke-width="0.7" fill="none"/><path d="M99.52 167.86L103.36 171.7M99.52 171.7L103.36 167.86M101.44 167.86L101.44 171.7" stroke="#3C78D8" stroke-width="0.7" fill="none"/><path d="M102.62 169.67L106.46 173.51M102.62 173.51L106.46 169.67M104.54 169.67L104.54 173.51" stroke="#3C78D8" stroke-width="0.7" fill="none"/><path d="M105.73 170.39L109.57 174.23M105.73 174.23L109.57 170.39M107.65 170.39L107.65 174.23" stroke="#3C78D8" stroke-width="0.7" fill="none"/><path d="M108.83 170.47L112.67 174.31M108.83 174.31L112.67 170.47M110.75 170.47L110.75 174.31" stroke="#3C78D8" stroke-width="0.7" fill="none"/><path d="M111.94 172.3L115.78 176.14M111.94 176.14L115.78 172.3M113.86 172.3L113.86 176.14" stroke="#3C78D8" stroke-width="0.7" fill="none"/><path d="M115.05 171.01L118.89 174.85M115.05 174.85L118.89 171.01M116.97 171.01L116.97 174.85" stroke="#3C78D8" stroke-width="0.7" fill="none"/><path d="M118.15 173.37L121.99 177.21M118.15 177.21L121.99 173.37M120.07 173.37L120.07 177.21" stroke="#3C78D8" stroke-width="0.7" fill="none"/><path d="M121.25 174.48L125.09 178.32M121.25 178.32L125.09 174.48M123.17 174.48L123.17 178.32" stroke="#3C78D8" stroke-width="0.7" fill="none"/><path d="M124.36 175.84L128.2 179.68M124.36 179.68L128.2 175.84M126.28 175.84L126.28 179.68" stroke="#3C78D8" stroke-width="0.7" fill="none"/><path d="M127.46 176.55L131.3 180.39M127.46 180.39L131.3 176.55M129.38 176.55L129.38 180.39" stroke="#3C78D8" stroke-width="0.7" fill="none"/><path d="M130.57 178.15L134.41 181.99M130.57 181.99L134.41 178.15M132.49 178.15L132.49 181.99" stroke="#3C78D8" stroke-width="0.7" fill="none"/><path d="M133.68 180.82L137.51 184.66M133.68 184.66L137.51 180.82M135.59 180.82L135.59 184.66" stroke="#3C78D8" stroke-width="0.7" fill="none"/><path d="M136.78 178.84L140.62 182.68M136.78 182.68L140.62 178.84M138.7 178.84L138.7 182.68" stroke="#3C78D8" stroke-width="0.7" fill="none"/><path d="M139.89 180.65L143.72 184.49M139.89 184.49L143.72 180.65M141.81 180.65L141.81 184.49" stroke="#3C78D8" stroke-width="0.7" fill="none"/><path d="M142.99 183.17L146.83 187.01M142.99 187.01L146.83 183.17M144.91 183.17L144.91 187.01" stroke="#3C78D8" stroke-width="0.7" fill="none"/><path d="M146.09 185.05L149.93 188.89M146.09 188.89L149.93 185.05M148.01 185.05L148.01 188.89" stroke="#3C78D8" stroke-width="0.7" fill="none"/><path d="M149.2 186.59L153.04 190.43M149.2 190.43L153.04 186.59M151.12 186.59L151.12 190.43" stroke="#3C78D8" stroke-width="0.7" fill="none"/><path d="M152.31 191L156.14 194.84M152.31 194.84L156.14 191M154.22 191L154.22 194.84" stroke="#3C78D8" stroke-width="0.7" fill="none"/><path d="M155.41 190.84L159.25 194.68M155.41 194.68L159.25 190.84M157.33 190.84L157.33 194.68" stroke="#3C78D8" stroke-width="0.7" fill="none"/><path d="M158.52 194.85L162.35 198.69M158.52 198.69L162.35 194.85M160.44 194.85L160.44 198.69" stroke="#3C78D8" stroke-width="0.7" fill="none"/><path d="M161.62 197.76L165.46 201.6M161.62 201.6L165.46 197.76M163.54 197.76L163.54 201.6" stroke="#3C78D8" stroke-width="0.7" fill="none"/><path d="M164.72 198.7L168.56 202.54M164.72 202.54L168.56 198.7M166.64 198.7L166.64 202.54" stroke="#3C78D8" stroke-width="0.7" fill="none"/><path d="M167.83 198.65L171.67 202.49M167.83 202.49L171.67 198.65M169.75 198.65L169.75 202.49" stroke="#3C78D8" stroke-width="0.7" fill="none"/><path d="M170.94 202.09L174.77 205.93M170.94 205.93L174.77 202.09M172.85 202.09L172.85 205.93" stroke="#3C78D8" stroke-width="0.7" fill="none"/><path d="M174.04 201.69L177.88 205.53M174.04 205.53L177.88 201.69M175.96 201.69L175.96 205.53" stroke="#3C78D8" stroke-width="0.7" fill="none"/><path d="M177.15 202.19L180.98 206.03M177.15 206.03L180.98 202.19M179.06 202.19L179.06 206.03" stroke="#3C78D8" stroke-width="0.7" fill="none"/><path d="M180.25 205.3L184.09 209.14M180.25 209.14L184.09 205.3M182.17 205.3L182.17 209.14" stroke="#3C78D8" stroke-width="0.7" fill="none"/><path d="M183.35 206.79L187.19 210.63M183.35 210.63L187.19 206.79M185.27 206.79L185.27 210.63" stroke="#3C78D8" stroke-width="0.7" fill="none"/><path d="M186.46 214.33L190.3 218.17M186.46 218.17L190.3 214.33M188.38 214.33L188.38 218.17" stroke="#3C78D8" stroke-width="0.7" fill="none"/><path d="M189.57 214.33L193.41 218.17M189.57 218.17L193.41 214.33M191.49 214.33L191.49 218.17" stroke="#3C78D8" stroke-width="0.7" fill="none"/><path d="M192.67 214.33L196.51 218.17M192.67 218.17L196.51 214.33M194.59 214.33L194.59 218.17" stroke="#3C78D8" stroke-width="0.7" fill="none"/><path d="M195.78 214.33L199.61 218.17M195.78 218.17L199.61 214.33M197.69 214.33L197.69 218.17" stroke="#3C78D8" stroke-width="0.7" fill="none"/><path d="M198.88 214.33L202.72 218.17M198.88 218.17L202.72 214.33M200.8 214.33L200.8 218.17" stroke="#3C78D8" stroke-width="0.7" fill="none"/><path d="M201.98 214.33L205.82 218.17M201.98 218.17L205.82 214.33M203.9 214.33L203.9 218.17" stroke="#3C78D8" stroke-width="0.7" fill="none"/><path d="M205.09 214.33L208.93 218.17M205.09 218.17L208.93 214.33M207.01 214.33L207.01 218.17" stroke="#3C78D8" stroke-width="0.7" fill="none"/><path d="M208.2 214.33L212.03 218.17M208.2 218.17L212.03 214.33M210.12 214.33L210.12 218.17" stroke="#3C78D8" stroke-width="0.7" fill="none"/><path d="M211.3 214.33L215.14 218.17M211.3 218.17L215.14 214.33M213.22 214.33L213.22 218.17" stroke="#3C78D8" stroke-width="0.7" fill="none"/><path d="M214.41 214.33L218.24 218.17M214.41 218.17L218.24 214.33M216.32 214.33L216.32 218.17" stroke="#3C78D8" stroke-width="0.7" fill="none"/><path d="M217.51 214.33L221.35 218.17M217.51 218.17L221.35 214.33M219.43 214.33L219.43 218.17" stroke="#3C78D8" stroke-width="0.7" fill="none"/><path d="M220.61 214.33L224.45 218.17M220.61 218.17L224.45 214.33M222.53 214.33L222.53 218.17" stroke="#3C78D8" stroke-width="0.7" fill="none"/><path d="M223.72 214.33L227.56 218.17M223.72 218.17L227.56 214.33M225.64 214.33L225.64 218.17" stroke="#3C78D8" stroke-width="0.7" fill="none"/><path d="M226.83 214.33L230.66 218.17M226.83 218.17L230.66 214.33M228.75 214.33L228.75 218.17" stroke="#3C78D8" stroke-width="0.7" fill="none"/><path d="M229.93 214.33L233.77 218.17M229.93 218.17L233.77 214.33M231.85 214.33L231.85 218.17" stroke="#3C78D8" stroke-width="0.7" fill="none"/><path d="M233.03 214.33L236.87 218.17M233.03 218.17L236.87 214.33M234.95 214.33L234.95 218.17" stroke="#3C78D8" stroke-width="0.7" fill="none"/><path d="M236.14 214.33L239.98 218.17M236.14 218.17L239.98 214.33M238.06 214.33L238.06 218.17" stroke="#3C78D8" stroke-width="0.7" fill="none"/></g></g>
<g id="LCASE26"><polyline points="45.5,189.1 48.7,122.1 51.8,107.6 54.9,129.3 58.0,114.9 61.1,103.5 64.2,108.7 67.3,111.1 70.4,120.5 73.5,130.2 76.6,130.9 79.7,124.1 82.8,126.3 85.9,127.4 89.0,128.0 92.1,125.9 95.2,128.7 98.3,128.5 101.4,130.9 104.5,130.3 107.7,131.6 110.8,133.1 113.9,137.8 117.0,137.6 120.1,139.6 123.2,142.8 126.3,141.5 129.4,143.0 132.5,147.5 135.6,146.7 138.7,150.5 141.8,152.0 144.9,152.0 148.0,156.2 151.1,162.2 154.2,165.8 157.3,170.0 160.4,174.3 163.5,178.4 166.6,181.6 169.8,183.8 172.9,189.5 176.0,190.7 179.1,194.7 182.2,199.9 185.3,202.4 188.4,216.2 191.5,216.2 194.6,216.2 197.7,216.2 200.8,216.2 203.9,216.2 207.0,216.2 210.1,216.2 213.2,216.2 216.3,216.2 219.4,216.2 222.5,216.2 225.6,216.2 228.7,216.2 231.9,216.2 235.0,216.2 238.1,216.2" fill="none" stroke="#4CAF3C" stroke-width="1.14" stroke-linejoin="round"/>
<g><circle cx="45.55" cy="189.09" r="1.92" fill="#4CAF3C"/><circle cx="48.65" cy="122.08" r="1.92" fill="#4CAF3C"/><circle cx="51.76" cy="107.59" r="1.92" fill="#4CAF3C"/><circle cx="54.86" cy="129.32" r="1.92" fill="#4CAF3C"/><circle cx="57.97" cy="114.92" r="1.92" fill="#4CAF3C"/><circle cx="61.07" cy="103.46" r="1.92" fill="#4CAF3C"/><circle cx="64.18" cy="108.68" r="1.92" fill="#4CAF3C"/><circle cx="67.28" cy="111.12" r="1.92" fill="#4CAF3C"/><circle cx="70.39" cy="120.48" r="1.92" fill="#4CAF3C"/><circle cx="73.5" cy="130.2" r="1.92" fill="#4CAF3C"/><circle cx="76.6" cy="130.92" r="1.92" fill="#4CAF3C"/><circle cx="79.7" cy="124.1" r="1.92" fill="#4CAF3C"/><circle cx="82.81" cy="126.28" r="1.92" fill="#4CAF3C"/><circle cx="85.91" cy="127.38" r="1.92" fill="#4CAF3C"/><circle cx="89.02" cy="127.98" r="1.92" fill="#4CAF3C"/><circle cx="92.12" cy="125.91" r="1.92" fill="#4CAF3C"/><circle cx="95.23" cy="128.7" r="1.92" fill="#4CAF3C"/><circle cx="98.33" cy="128.45" r="1.92" fill="#4CAF3C"/><circle cx="101.44" cy="130.87" r="1.92" fill="#4CAF3C"/><circle cx="104.54" cy="130.34" r="1.92" fill="#4CAF3C"/><circle cx="107.65" cy="131.56" r="1.92" fill="#4CAF3C"/><circle cx="110.75" cy="133.14" r="1.92" fill="#4CAF3C"/><circle cx="113.86" cy="137.82" r="1.92" fill="#4CAF3C"/><circle cx="116.97" cy="137.6" r="1.92" fill="#4CAF3C"/><circle cx="120.07" cy="139.61" r="1.92" fill="#4CAF3C"/><circle cx="123.17" cy="142.84" r="1.92" fill="#4CAF3C"/><circle cx="126.28" cy="141.52" r="1.92" fill="#4CAF3C"/><circle cx="129.38" cy="143.02" r="1.92" fill="#4CAF3C"/><circle cx="132.49" cy="147.54" r="1.92" fill="#4CAF3C"/><circle cx="135.59" cy="146.7" r="1.92" fill="#4CAF3C"/><circle cx="138.7" cy="150.52" r="1.92" fill="#4CAF3C"/><circle cx="141.81" cy="152.01" r="1.92" fill="#4CAF3C"/><circle cx="144.91" cy="152" r="1.92" fill="#4CAF3C"/><circle cx="148.01" cy="156.19" r="1.92" fill="#4CAF3C"/><circle cx="151.12" cy="162.24" r="1.92" fill="#4CAF3C"/><circle cx="154.22" cy="165.79" r="1.92" fill="#4CAF3C"/><circle cx="157.33" cy="170.01" r="1.92" fill="#4CAF3C"/><circle cx="160.44" cy="174.28" r="1.92" fill="#4CAF3C"/><circle cx="163.54" cy="178.42" r="1.92" fill="#4CAF3C"/><circle cx="166.64" cy="181.59" r="1.92" fill="#4CAF3C"/><circle cx="169.75" cy="183.75" r="1.92" fill="#4CAF3C"/><circle cx="172.85" cy="189.47" r="1.92" fill="#4CAF3C"/><circle cx="175.96" cy="190.7" r="1.92" fill="#4CAF3C"/><circle cx="179.06" cy="194.73" r="1.92" fill="#4CAF3C"/><circle cx="182.17" cy="199.89" r="1.92" fill="#4CAF3C"/><circle cx="185.27" cy="202.37" r="1.92" fill="#4CAF3C"/><circle cx="188.38" cy="216.25" r="1.92" fill="#4CAF3C"/><circle cx="191.49" cy="216.25" r="1.92" fill="#4CAF3C"/><circle cx="194.59" cy="216.25" r="1.92" fill="#4CAF3C"/><circle cx="197.69" cy="216.25" r="1.92" fill="#4CAF3C"/><circle cx="200.8" cy="216.25" r="1.92" fill="#4CAF3C"/><circle cx="203.9" cy="216.25" r="1.92" fill="#4CAF3C"/><circle cx="207.01" cy="216.25" r="1.92" fill="#4CAF3C"/><circle cx="210.12" cy="216.25" r="1.92" fill="#4CAF3C"/><circle cx="213.22" cy="216.25" r="1.92" fill="#4CAF3C"/><circle cx="216.32" cy="216.25" r="1.92" fill="#4CAF3C"/><circle cx="219.43" cy="216.25" r="1.92" fill="#4CAF3C"/><circle cx="222.53" cy="216.25" r="1.92" fill="#4CAF3C"/><circle cx="225.64" cy="216.25" r="1.92" fill="#4CAF3C"/><circle cx="228.75" cy="216.25" r="1.92" fill="#4CAF3C"/><circle cx="231.85" cy="216.25" r="1.92" fill="#4CAF3C"/><circle cx="234.95" cy="216.25" r="1.92" fill="#4CAF3C"/><circle cx="238.06" cy="216.25" r="1.92" fill="#4CAF3C"/></g></g>
<g id="LCASE27"><polyline points="45.5,181.8 48.7,107.6 51.8,89.5 54.9,125.7 58.0,142.9 61.1,136.9 64.2,131.4 67.3,133.8 70.4,129.8 73.5,131.7 76.6,130.0 79.7,131.9 82.8,127.6 85.9,132.5 89.0,132.0 92.1,130.7 95.2,131.6 98.3,135.3 101.4,136.5 104.5,138.4 107.7,139.6 110.8,141.3 113.9,141.3 117.0,143.5 120.1,145.2 123.2,150.1 126.3,151.8 129.4,150.8 132.5,151.4 135.6,154.8 138.7,156.2 141.8,161.0 144.9,162.3 148.0,163.8 151.1,167.6 154.2,171.1 157.3,174.3 160.4,180.5 163.5,184.5 166.6,187.5 169.8,189.4 172.9,191.9 176.0,194.0 179.1,197.5 182.2,200.5 185.3,202.6 188.4,216.2 191.5,216.2 194.6,216.2 197.7,216.2 200.8,216.2 203.9,216.2 207.0,216.2 210.1,216.2 213.2,216.2 216.3,216.2 219.4,216.2 222.5,216.2 225.6,216.2 228.7,216.2 231.9,216.2 235.0,216.2 238.1,216.2" fill="none" stroke="#2F8BD0" stroke-width="1.14" stroke-linejoin="round"/>
<g><path d="M43.63 181.84L47.47 181.84M45.55 179.92L45.55 183.76" stroke="#2F8BD0" stroke-width="0.8" fill="none"/><path d="M46.73 107.59L50.57 107.59M48.65 105.67L48.65 109.51" stroke="#2F8BD0" stroke-width="0.8" fill="none"/><path d="M49.84 89.48L53.68 89.48M51.76 87.56L51.76 91.4" stroke="#2F8BD0" stroke-width="0.8" fill="none"/><path d="M52.94 125.7L56.78 125.7M54.86 123.78L54.86 127.62" stroke="#2F8BD0" stroke-width="0.8" fill="none"/><path d="M56.05 142.91L59.89 142.91M57.97 140.99L57.97 144.83" stroke="#2F8BD0" stroke-width="0.8" fill="none"/><path d="M59.15 136.88L62.99 136.88M61.07 134.96L61.07 138.8" stroke="#2F8BD0" stroke-width="0.8" fill="none"/><path d="M62.26 131.45L66.1 131.45M64.18 129.53L64.18 133.37" stroke="#2F8BD0" stroke-width="0.8" fill="none"/><path d="M65.36 133.76L69.2 133.76M67.28 131.84L67.28 135.68" stroke="#2F8BD0" stroke-width="0.8" fill="none"/><path d="M68.47 129.77L72.31 129.77M70.39 127.85L70.39 131.69" stroke="#2F8BD0" stroke-width="0.8" fill="none"/><path d="M71.58 131.72L75.42 131.72M73.5 129.8L73.5 133.64" stroke="#2F8BD0" stroke-width="0.8" fill="none"/><path d="M74.68 130.01L78.52 130.01M76.6 128.09L76.6 131.93" stroke="#2F8BD0" stroke-width="0.8" fill="none"/><path d="M77.78 131.94L81.62 131.94M79.7 130.02L79.7 133.86" stroke="#2F8BD0" stroke-width="0.8" fill="none"/><path d="M80.89 127.63L84.73 127.63M82.81 125.71L82.81 129.55" stroke="#2F8BD0" stroke-width="0.8" fill="none"/><path d="M83.99 132.49L87.83 132.49M85.91 130.57L85.91 134.41" stroke="#2F8BD0" stroke-width="0.8" fill="none"/><path d="M87.1 132.03L90.94 132.03M89.02 130.11L89.02 133.95" stroke="#2F8BD0" stroke-width="0.8" fill="none"/><path d="M90.2 130.67L94.05 130.67M92.12 128.75L92.12 132.59" stroke="#2F8BD0" stroke-width="0.8" fill="none"/><path d="M93.31 131.63L97.15 131.63M95.23 129.71L95.23 133.55" stroke="#2F8BD0" stroke-width="0.8" fill="none"/><path d="M96.41 135.33L100.25 135.33M98.33 133.41L98.33 137.25" stroke="#2F8BD0" stroke-width="0.8" fill="none"/><path d="M99.52 136.49L103.36 136.49M101.44 134.57L101.44 138.41" stroke="#2F8BD0" stroke-width="0.8" fill="none"/><path d="M102.62 138.39L106.46 138.39M104.54 136.47L104.54 140.31" stroke="#2F8BD0" stroke-width="0.8" fill="none"/><path d="M105.73 139.65L109.57 139.65M107.65 137.73L107.65 141.57" stroke="#2F8BD0" stroke-width="0.8" fill="none"/><path d="M108.83 141.29L112.67 141.29M110.75 139.37L110.75 143.21" stroke="#2F8BD0" stroke-width="0.8" fill="none"/><path d="M111.94 141.26L115.78 141.26M113.86 139.34L113.86 143.18" stroke="#2F8BD0" stroke-width="0.8" fill="none"/><path d="M115.05 143.46L118.89 143.46M116.97 141.54L116.97 145.38" stroke="#2F8BD0" stroke-width="0.8" fill="none"/><path d="M118.15 145.18L121.99 145.18M120.07 143.26L120.07 147.1" stroke="#2F8BD0" stroke-width="0.8" fill="none"/><path d="M121.25 150.07L125.09 150.07M123.17 148.15L123.17 151.99" stroke="#2F8BD0" stroke-width="0.8" fill="none"/><path d="M124.36 151.84L128.2 151.84M126.28 149.92L126.28 153.76" stroke="#2F8BD0" stroke-width="0.8" fill="none"/><path d="M127.46 150.75L131.3 150.75M129.38 148.83L129.38 152.67" stroke="#2F8BD0" stroke-width="0.8" fill="none"/><path d="M130.57 151.43L134.41 151.43M132.49 149.51L132.49 153.35" stroke="#2F8BD0" stroke-width="0.8" fill="none"/><path d="M133.68 154.77L137.51 154.77M135.59 152.85L135.59 156.69" stroke="#2F8BD0" stroke-width="0.8" fill="none"/><path d="M136.78 156.17L140.62 156.17M138.7 154.25L138.7 158.09" stroke="#2F8BD0" stroke-width="0.8" fill="none"/><path d="M139.89 161.02L143.72 161.02M141.81 159.1L141.81 162.94" stroke="#2F8BD0" stroke-width="0.8" fill="none"/><path d="M142.99 162.31L146.83 162.31M144.91 160.39L144.91 164.23" stroke="#2F8BD0" stroke-width="0.8" fill="none"/><path d="M146.09 163.82L149.93 163.82M148.01 161.9L148.01 165.74" stroke="#2F8BD0" stroke-width="0.8" fill="none"/><path d="M149.2 167.62L153.04 167.62M151.12 165.7L151.12 169.54" stroke="#2F8BD0" stroke-width="0.8" fill="none"/><path d="M152.31 171.14L156.14 171.14M154.22 169.22L154.22 173.06" stroke="#2F8BD0" stroke-width="0.8" fill="none"/><path d="M155.41 174.34L159.25 174.34M157.33 172.42L157.33 176.26" stroke="#2F8BD0" stroke-width="0.8" fill="none"/><path d="M158.52 180.49L162.35 180.49M160.44 178.57L160.44 182.41" stroke="#2F8BD0" stroke-width="0.8" fill="none"/><path d="M161.62 184.53L165.46 184.53M163.54 182.61L163.54 186.45" stroke="#2F8BD0" stroke-width="0.8" fill="none"/><path d="M164.72 187.53L168.56 187.53M166.64 185.61L166.64 189.45" stroke="#2F8BD0" stroke-width="0.8" fill="none"/><path d="M167.83 189.37L171.67 189.37M169.75 187.45L169.75 191.29" stroke="#2F8BD0" stroke-width="0.8" fill="none"/><path d="M170.94 191.87L174.77 191.87M172.85 189.95L172.85 193.79" stroke="#2F8BD0" stroke-width="0.8" fill="none"/><path d="M174.04 194.01L177.88 194.01M175.96 192.09L175.96 195.93" stroke="#2F8BD0" stroke-width="0.8" fill="none"/><path d="M177.15 197.52L180.98 197.52M179.06 195.6L179.06 199.44" stroke="#2F8BD0" stroke-width="0.8" fill="none"/><path d="M180.25 200.5L184.09 200.5M182.17 198.58L182.17 202.42" stroke="#2F8BD0" stroke-width="0.8" fill="none"/><path d="M183.35 202.61L187.19 202.61M185.27 200.69L185.27 204.53" stroke="#2F8BD0" stroke-width="0.8" fill="none"/><path d="M186.46 216.25L190.3 216.25M188.38 214.33L188.38 218.17" stroke="#2F8BD0" stroke-width="0.8" fill="none"/><path d="M189.57 216.25L193.41 216.25M191.49 214.33L191.49 218.17" stroke="#2F8BD0" stroke-width="0.8" fill="none"/><path d="M192.67 216.25L196.51 216.25M194.59 214.33L194.59 218.17" stroke="#2F8BD0" stroke-width="0.8" fill="none"/><path d="M195.78 216.25L199.61 216.25M197.69 214.33L197.69 218.17" stroke="#2F8BD0" stroke-width="0.8" fill="none"/><path d="M198.88 216.25L202.72 216.25M200.8 214.33L200.8 218.17" stroke="#2F8BD0" stroke-width="0.8" fill="none"/><path d="M201.98 216.25L205.82 216.25M203.9 214.33L203.9 218.17" stroke="#2F8BD0" stroke-width="0.8" fill="none"/><path d="M205.09 216.25L208.93 216.25M207.01 214.33L207.01 218.17" stroke="#2F8BD0" stroke-width="0.8" fill="none"/><path d="M208.2 216.25L212.03 216.25M210.12 214.33L210.12 218.17" stroke="#2F8BD0" stroke-width="0.8" fill="none"/><path d="M211.3 216.25L215.14 216.25M213.22 214.33L213.22 218.17" stroke="#2F8BD0" stroke-width="0.8" fill="none"/><path d="M214.41 216.25L218.24 216.25M216.32 214.33L216.32 218.17" stroke="#2F8BD0" stroke-width="0.8" fill="none"/><path d="M217.51 216.25L221.35 216.25M219.43 214.33L219.43 218.17" stroke="#2F8BD0" stroke-width="0.8" fill="none"/><path d="M220.61 216.25L224.45 216.25M222.53 214.33L222.53 218.17" stroke="#2F8BD0" stroke-width="0.8" fill="none"/><path d="M223.72 216.25L227.56 216.25M225.64 214.33L225.64 218.17" stroke="#2F8BD0" stroke-width="0.8" fill="none"/><path d="M226.83 216.25L230.66 216.25M228.75 214.33L228.75 218.17" stroke="#2F8BD0" stroke-width="0.8" fill="none"/><path d="M229.93 216.25L233.77 216.25M231.85 214.33L231.85 218.17" stroke="#2F8BD0" stroke-width="0.8" fill="none"/><path d="M233.03 216.25L236.87 216.25M234.95 214.33L234.95 218.17" stroke="#2F8BD0" stroke-width="0.8" fill="none"/><path d="M236.14 216.25L239.98 216.25M238.06 214.33L238.06 218.17" stroke="#2F8BD0" stroke-width="0.8" fill="none"/></g></g>
<g id="LCASE28"><polyline points="45.5,187.3 48.7,129.3 51.8,104.0 54.9,94.0 58.0,102.2 61.1,110.7 64.2,97.1 67.3,85.0 70.4,86.0 73.5,82.2 76.6,75.7 79.7,69.0 82.8,73.2 85.9,65.0 89.0,65.9 92.1,88.8 95.2,85.9 98.3,91.3 101.4,89.5 104.5,93.1 107.7,90.0 110.8,94.9 113.9,98.5 117.0,100.3 120.1,102.5 123.2,107.6 126.3,111.2 129.4,114.8 132.5,119.4 135.6,123.0 138.7,125.0 141.8,129.3 144.9,134.9 148.0,122.4 151.1,133.9 154.2,140.2 157.3,146.0 160.4,147.8 163.5,159.9 166.6,168.8 169.8,168.8 172.9,178.2 176.0,184.6 179.1,189.1 182.2,194.5 185.3,198.7 188.4,216.2 191.5,216.2 194.6,216.2 197.7,216.2 200.8,216.2 203.9,216.2 207.0,216.2 210.1,216.2 213.2,216.2 216.3,216.2 219.4,216.2 222.5,216.2 225.6,216.2 228.7,216.2 231.9,216.2 235.0,216.2 238.1,216.2" fill="none" stroke="#D2561E" stroke-width="1.14" stroke-linejoin="round"/>
<g><path d="M43.75 187.27L47.35 187.27" stroke="#D2561E" stroke-width="1.2" fill="none"/><path d="M46.85 129.32L50.45 129.32" stroke="#D2561E" stroke-width="1.2" fill="none"/><path d="M49.96 103.97L53.56 103.97" stroke="#D2561E" stroke-width="1.2" fill="none"/><path d="M53.06 94.01L56.66 94.01" stroke="#D2561E" stroke-width="1.2" fill="none"/><path d="M56.17 102.16L59.77 102.16" stroke="#D2561E" stroke-width="1.2" fill="none"/><path d="M59.27 110.67L62.87 110.67" stroke="#D2561E" stroke-width="1.2" fill="none"/><path d="M62.38 97.09L65.98 97.09" stroke="#D2561E" stroke-width="1.2" fill="none"/><path d="M65.48 84.96L69.08 84.96" stroke="#D2561E" stroke-width="1.2" fill="none"/><path d="M68.59 86.04L72.19 86.04" stroke="#D2561E" stroke-width="1.2" fill="none"/><path d="M71.7 82.24L75.3 82.24" stroke="#D2561E" stroke-width="1.2" fill="none"/><path d="M74.8 75.72L78.4 75.72" stroke="#D2561E" stroke-width="1.2" fill="none"/><path d="M77.91 69.02L81.5 69.02" stroke="#D2561E" stroke-width="1.2" fill="none"/><path d="M81.01 73.19L84.61 73.19" stroke="#D2561E" stroke-width="1.2" fill="none"/><path d="M84.11 65.04L87.71 65.04" stroke="#D2561E" stroke-width="1.2" fill="none"/><path d="M87.22 65.94L90.82 65.94" stroke="#D2561E" stroke-width="1.2" fill="none"/><path d="M90.33 88.76L93.92 88.76" stroke="#D2561E" stroke-width="1.2" fill="none"/><path d="M93.43 85.86L97.03 85.86" stroke="#D2561E" stroke-width="1.2" fill="none"/><path d="M96.53 91.3L100.13 91.3" stroke="#D2561E" stroke-width="1.2" fill="none"/><path d="M99.64 89.48L103.24 89.48" stroke="#D2561E" stroke-width="1.2" fill="none"/><path d="M102.74 93.11L106.34 93.11" stroke="#D2561E" stroke-width="1.2" fill="none"/><path d="M105.85 90.03L109.45 90.03" stroke="#D2561E" stroke-width="1.2" fill="none"/><path d="M108.95 94.92L112.55 94.92" stroke="#D2561E" stroke-width="1.2" fill="none"/><path d="M112.06 98.54L115.66 98.54" stroke="#D2561E" stroke-width="1.2" fill="none"/><path d="M115.17 100.35L118.77 100.35" stroke="#D2561E" stroke-width="1.2" fill="none"/><path d="M118.27 102.52L121.87 102.52" stroke="#D2561E" stroke-width="1.2" fill="none"/><path d="M121.38 107.59L124.97 107.59" stroke="#D2561E" stroke-width="1.2" fill="none"/><path d="M124.48 111.22L128.08 111.22" stroke="#D2561E" stroke-width="1.2" fill="none"/><path d="M127.58 114.84L131.19 114.84" stroke="#D2561E" stroke-width="1.2" fill="none"/><path d="M130.69 119.36L134.29 119.36" stroke="#D2561E" stroke-width="1.2" fill="none"/><path d="M133.79 122.99L137.4 122.99" stroke="#D2561E" stroke-width="1.2" fill="none"/><path d="M136.9 124.98L140.5 124.98" stroke="#D2561E" stroke-width="1.2" fill="none"/><path d="M140 129.32L143.61 129.32" stroke="#D2561E" stroke-width="1.2" fill="none"/><path d="M143.11 134.94L146.71 134.94" stroke="#D2561E" stroke-width="1.2" fill="none"/><path d="M146.21 122.44L149.81 122.44" stroke="#D2561E" stroke-width="1.2" fill="none"/><path d="M149.32 133.85L152.92 133.85" stroke="#D2561E" stroke-width="1.2" fill="none"/><path d="M152.42 140.19L156.03 140.19" stroke="#D2561E" stroke-width="1.2" fill="none"/><path d="M155.53 145.99L159.13 145.99" stroke="#D2561E" stroke-width="1.2" fill="none"/><path d="M158.63 147.8L162.24 147.8" stroke="#D2561E" stroke-width="1.2" fill="none"/><path d="M161.74 159.93L165.34 159.93" stroke="#D2561E" stroke-width="1.2" fill="none"/><path d="M164.84 168.8L168.44 168.8" stroke="#D2561E" stroke-width="1.2" fill="none"/><path d="M167.95 168.8L171.55 168.8" stroke="#D2561E" stroke-width="1.2" fill="none"/><path d="M171.05 178.22L174.66 178.22" stroke="#D2561E" stroke-width="1.2" fill="none"/><path d="M174.16 184.56L177.76 184.56" stroke="#D2561E" stroke-width="1.2" fill="none"/><path d="M177.26 189.09L180.87 189.09" stroke="#D2561E" stroke-width="1.2" fill="none"/><path d="M180.37 194.52L183.97 194.52" stroke="#D2561E" stroke-width="1.2" fill="none"/><path d="M183.47 198.68L187.07 198.68" stroke="#D2561E" stroke-width="1.2" fill="none"/><path d="M186.58 216.25L190.18 216.25" stroke="#D2561E" stroke-width="1.2" fill="none"/><path d="M189.69 216.25L193.29 216.25" stroke="#D2561E" stroke-width="1.2" fill="none"/><path d="M192.79 216.25L196.39 216.25" stroke="#D2561E" stroke-width="1.2" fill="none"/><path d="M195.89 216.25L199.5 216.25" stroke="#D2561E" stroke-width="1.2" fill="none"/><path d="M199 216.25L202.6 216.25" stroke="#D2561E" stroke-width="1.2" fill="none"/><path d="M202.1 216.25L205.7 216.25" stroke="#D2561E" stroke-width="1.2" fill="none"/><path d="M205.21 216.25L208.81 216.25" stroke="#D2561E" stroke-width="1.2" fill="none"/><path d="M208.31 216.25L211.92 216.25" stroke="#D2561E" stroke-width="1.2" fill="none"/><path d="M211.42 216.25L215.02 216.25" stroke="#D2561E" stroke-width="1.2" fill="none"/><path d="M214.52 216.25L218.12 216.25" stroke="#D2561E" stroke-width="1.2" fill="none"/><path d="M217.63 216.25L221.23 216.25" stroke="#D2561E" stroke-width="1.2" fill="none"/><path d="M220.73 216.25L224.33 216.25" stroke="#D2561E" stroke-width="1.2" fill="none"/><path d="M223.84 216.25L227.44 216.25" stroke="#D2561E" stroke-width="1.2" fill="none"/><path d="M226.94 216.25L230.55 216.25" stroke="#D2561E" stroke-width="1.2" fill="none"/><path d="M230.05 216.25L233.65 216.25" stroke="#D2561E" stroke-width="1.2" fill="none"/><path d="M233.15 216.25L236.75 216.25" stroke="#D2561E" stroke-width="1.2" fill="none"/><path d="M236.26 216.25L239.86 216.25" stroke="#D2561E" stroke-width="1.2" fill="none"/></g></g>
<g id="LCASE29"><polyline points="45.5,196.3 48.7,143.8 51.8,129.3 54.9,143.8 58.0,151.2 61.1,147.2 64.2,145.5 67.3,141.0 70.4,141.2 73.5,139.6 76.6,138.8 79.7,139.1 82.8,137.9 85.9,139.3 89.0,138.8 92.1,139.5 95.2,143.4 98.3,144.5 101.4,143.7 104.5,144.9 107.7,146.9 110.8,148.9 113.9,148.9 117.0,152.8 120.1,153.6 123.2,154.8 126.3,154.8 129.4,157.6 132.5,158.4 135.6,161.4 138.7,163.8 141.8,166.0 144.9,165.7 148.0,169.8 151.1,174.4 154.2,178.8 157.3,180.4 160.4,182.7 163.5,186.7 166.6,190.1 169.8,191.6 172.9,193.4 176.0,198.8 179.1,201.9 182.2,203.3 185.3,205.1 188.4,216.2 191.5,216.2 194.6,216.2 197.7,216.2 200.8,216.2 203.9,216.2 207.0,216.2 210.1,216.2 213.2,216.2 216.3,216.2 219.4,216.2 222.5,216.2 225.6,216.2 228.7,216.2 231.9,216.2 235.0,216.2 238.1,216.2" fill="none" stroke="#6B6B6B" stroke-width="1.03" stroke-linejoin="round"/>
<g><path d="M43.75 196.33L47.35 196.33" stroke="#6B6B6B" stroke-width="1.2" fill="none"/><path d="M46.85 143.81L50.45 143.81" stroke="#6B6B6B" stroke-width="1.2" fill="none"/><path d="M49.96 129.32L53.56 129.32" stroke="#6B6B6B" stroke-width="1.2" fill="none"/><path d="M53.06 143.81L56.66 143.81" stroke="#6B6B6B" stroke-width="1.2" fill="none"/><path d="M56.17 151.21L59.77 151.21" stroke="#6B6B6B" stroke-width="1.2" fill="none"/><path d="M59.27 147.25L62.87 147.25" stroke="#6B6B6B" stroke-width="1.2" fill="none"/><path d="M62.38 145.48L65.98 145.48" stroke="#6B6B6B" stroke-width="1.2" fill="none"/><path d="M65.48 140.98L69.08 140.98" stroke="#6B6B6B" stroke-width="1.2" fill="none"/><path d="M68.59 141.16L72.19 141.16" stroke="#6B6B6B" stroke-width="1.2" fill="none"/><path d="M71.7 139.58L75.3 139.58" stroke="#6B6B6B" stroke-width="1.2" fill="none"/><path d="M74.8 138.76L78.4 138.76" stroke="#6B6B6B" stroke-width="1.2" fill="none"/><path d="M77.91 139.09L81.5 139.09" stroke="#6B6B6B" stroke-width="1.2" fill="none"/><path d="M81.01 137.92L84.61 137.92" stroke="#6B6B6B" stroke-width="1.2" fill="none"/><path d="M84.11 139.28L87.71 139.28" stroke="#6B6B6B" stroke-width="1.2" fill="none"/><path d="M87.22 138.79L90.82 138.79" stroke="#6B6B6B" stroke-width="1.2" fill="none"/><path d="M90.33 139.47L93.92 139.47" stroke="#6B6B6B" stroke-width="1.2" fill="none"/><path d="M93.43 143.41L97.03 143.41" stroke="#6B6B6B" stroke-width="1.2" fill="none"/><path d="M96.53 144.46L100.13 144.46" stroke="#6B6B6B" stroke-width="1.2" fill="none"/><path d="M99.64 143.72L103.24 143.72" stroke="#6B6B6B" stroke-width="1.2" fill="none"/><path d="M102.74 144.87L106.34 144.87" stroke="#6B6B6B" stroke-width="1.2" fill="none"/><path d="M105.85 146.93L109.45 146.93" stroke="#6B6B6B" stroke-width="1.2" fill="none"/><path d="M108.95 148.89L112.55 148.89" stroke="#6B6B6B" stroke-width="1.2" fill="none"/><path d="M112.06 148.88L115.66 148.88" stroke="#6B6B6B" stroke-width="1.2" fill="none"/><path d="M115.17 152.83L118.77 152.83" stroke="#6B6B6B" stroke-width="1.2" fill="none"/><path d="M118.27 153.59L121.87 153.59" stroke="#6B6B6B" stroke-width="1.2" fill="none"/><path d="M121.38 154.82L124.97 154.82" stroke="#6B6B6B" stroke-width="1.2" fill="none"/><path d="M124.48 154.83L128.08 154.83" stroke="#6B6B6B" stroke-width="1.2" fill="none"/><path d="M127.58 157.6L131.19 157.6" stroke="#6B6B6B" stroke-width="1.2" fill="none"/><path d="M130.69 158.36L134.29 158.36" stroke="#6B6B6B" stroke-width="1.2" fill="none"/><path d="M133.79 161.38L137.4 161.38" stroke="#6B6B6B" stroke-width="1.2" fill="none"/><path d="M136.9 163.79L140.5 163.79" stroke="#6B6B6B" stroke-width="1.2" fill="none"/><path d="M140 166.01L143.61 166.01" stroke="#6B6B6B" stroke-width="1.2" fill="none"/><path d="M143.11 165.69L146.71 165.69" stroke="#6B6B6B" stroke-width="1.2" fill="none"/><path d="M146.21 169.78L149.81 169.78" stroke="#6B6B6B" stroke-width="1.2" fill="none"/><path d="M149.32 174.39L152.92 174.39" stroke="#6B6B6B" stroke-width="1.2" fill="none"/><path d="M152.42 178.78L156.03 178.78" stroke="#6B6B6B" stroke-width="1.2" fill="none"/><path d="M155.53 180.4L159.13 180.4" stroke="#6B6B6B" stroke-width="1.2" fill="none"/><path d="M158.63 182.75L162.24 182.75" stroke="#6B6B6B" stroke-width="1.2" fill="none"/><path d="M161.74 186.66L165.34 186.66" stroke="#6B6B6B" stroke-width="1.2" fill="none"/><path d="M164.84 190.15L168.44 190.15" stroke="#6B6B6B" stroke-width="1.2" fill="none"/><path d="M167.95 191.56L171.55 191.56" stroke="#6B6B6B" stroke-width="1.2" fill="none"/><path d="M171.05 193.43L174.66 193.43" stroke="#6B6B6B" stroke-width="1.2" fill="none"/><path d="M174.16 198.77L177.76 198.77" stroke="#6B6B6B" stroke-width="1.2" fill="none"/><path d="M177.26 201.91L180.87 201.91" stroke="#6B6B6B" stroke-width="1.2" fill="none"/><path d="M180.37 203.25L183.97 203.25" stroke="#6B6B6B" stroke-width="1.2" fill="none"/><path d="M183.47 205.13L187.07 205.13" stroke="#6B6B6B" stroke-width="1.2" fill="none"/><path d="M186.58 216.25L190.18 216.25" stroke="#6B6B6B" stroke-width="1.2" fill="none"/><path d="M189.69 216.25L193.29 216.25" stroke="#6B6B6B" stroke-width="1.2" fill="none"/><path d="M192.79 216.25L196.39 216.25" stroke="#6B6B6B" stroke-width="1.2" fill="none"/><path d="M195.89 216.25L199.5 216.25" stroke="#6B6B6B" stroke-width="1.2" fill="none"/><path d="M199 216.25L202.6 216.25" stroke="#6B6B6B" stroke-width="1.2" fill="none"/><path d="M202.1 216.25L205.7 216.25" stroke="#6B6B6B" stroke-width="1.2" fill="none"/><path d="M205.21 216.25L208.81 216.25" stroke="#6B6B6B" stroke-width="1.2" fill="none"/><path d="M208.31 216.25L211.92 216.25" stroke="#6B6B6B" stroke-width="1.2" fill="none"/><path d="M211.42 216.25L215.02 216.25" stroke="#6B6B6B" stroke-width="1.2" fill="none"/><path d="M214.52 216.25L218.12 216.25" stroke="#6B6B6B" stroke-width="1.2" fill="none"/><path d="M217.63 216.25L221.23 216.25" stroke="#6B6B6B" stroke-width="1.2" fill="none"/><path d="M220.73 216.25L224.33 216.25" stroke="#6B6B6B" stroke-width="1.2" fill="none"/><path d="M223.84 216.25L227.44 216.25" stroke="#6B6B6B" stroke-width="1.2" fill="none"/><path d="M226.94 216.25L230.55 216.25" stroke="#6B6B6B" stroke-width="1.2" fill="none"/><path d="M230.05 216.25L233.65 216.25" stroke="#6B6B6B" stroke-width="1.2" fill="none"/><path d="M233.15 216.25L236.75 216.25" stroke="#6B6B6B" stroke-width="1.2" fill="none"/><path d="M236.26 216.25L239.86 216.25" stroke="#6B6B6B" stroke-width="1.2" fill="none"/></g></g>
<g id="LCASE30"><polyline points="45.5,199.0 48.7,161.9 51.8,143.8 54.9,149.2 58.0,152.9 61.1,154.4 64.2,152.5 67.3,154.5 70.4,153.6 73.5,154.4 76.6,157.0 79.7,157.9 82.8,156.1 85.9,155.3 89.0,153.7 92.1,155.4 95.2,156.2 98.3,160.4 101.4,162.6 104.5,166.2 107.7,168.5 110.8,168.6 113.9,167.5 117.0,163.8 120.1,164.7 123.2,167.0 126.3,167.1 129.4,169.2 132.5,170.3 135.6,172.2 138.7,174.9 141.8,176.1 144.9,177.0 148.0,179.4 151.1,182.8 154.2,185.8 157.3,188.6 160.4,190.3 163.5,194.0 166.6,195.8 169.8,198.7 172.9,200.1 176.0,201.5 179.1,204.5 182.2,205.3 185.3,207.2 188.4,216.2 191.5,216.2 194.6,216.2 197.7,216.2 200.8,216.2 203.9,216.2 207.0,216.2 210.1,216.2 213.2,216.2 216.3,216.2 219.4,216.2 222.5,216.2 225.6,216.2 228.7,216.2 231.9,216.2 235.0,216.2 238.1,216.2" fill="none" stroke="#B47C12" stroke-width="1.14" stroke-linejoin="round"/>
<g><path d="M45.55 197.05L47.55 199.05L45.55 201.05L43.55 199.05Z" fill="#B47C12"/><path d="M48.65 159.92L50.65 161.92L48.65 163.92L46.65 161.92Z" fill="#B47C12"/><path d="M51.76 141.81L53.76 143.81L51.76 145.81L49.76 143.81Z" fill="#B47C12"/><path d="M54.86 147.25L56.86 149.25L54.86 151.25L52.86 149.25Z" fill="#B47C12"/><path d="M57.97 150.9L59.97 152.9L57.97 154.9L55.97 152.9Z" fill="#B47C12"/><path d="M61.07 152.41L63.07 154.41L61.07 156.41L59.07 154.41Z" fill="#B47C12"/><path d="M64.18 150.48L66.18 152.48L64.18 154.48L62.18 152.48Z" fill="#B47C12"/><path d="M67.28 152.51L69.28 154.51L67.28 156.51L65.28 154.51Z" fill="#B47C12"/><path d="M70.39 151.57L72.39 153.57L70.39 155.57L68.39 153.57Z" fill="#B47C12"/><path d="M73.5 152.38L75.5 154.38L73.5 156.38L71.5 154.38Z" fill="#B47C12"/><path d="M76.6 155L78.6 157L76.6 159L74.6 157Z" fill="#B47C12"/><path d="M79.7 155.93L81.7 157.93L79.7 159.93L77.7 157.93Z" fill="#B47C12"/><path d="M82.81 154.14L84.81 156.14L82.81 158.14L80.81 156.14Z" fill="#B47C12"/><path d="M85.91 153.32L87.91 155.32L85.91 157.32L83.91 155.32Z" fill="#B47C12"/><path d="M89.02 151.67L91.02 153.67L89.02 155.67L87.02 153.67Z" fill="#B47C12"/><path d="M92.12 153.38L94.12 155.38L92.12 157.38L90.12 155.38Z" fill="#B47C12"/><path d="M95.23 154.22L97.23 156.22L95.23 158.22L93.23 156.22Z" fill="#B47C12"/><path d="M98.33 158.45L100.33 160.45L98.33 162.45L96.33 160.45Z" fill="#B47C12"/><path d="M101.44 160.58L103.44 162.58L101.44 164.58L99.44 162.58Z" fill="#B47C12"/><path d="M104.54 164.17L106.54 166.17L104.54 168.17L102.54 166.17Z" fill="#B47C12"/><path d="M107.65 166.55L109.65 168.55L107.65 170.55L105.65 168.55Z" fill="#B47C12"/><path d="M110.75 166.56L112.75 168.56L110.75 170.56L108.75 168.56Z" fill="#B47C12"/><path d="M113.86 165.51L115.86 167.51L113.86 169.51L111.86 167.51Z" fill="#B47C12"/><path d="M116.97 161.78L118.97 163.78L116.97 165.78L114.97 163.78Z" fill="#B47C12"/><path d="M120.07 162.69L122.07 164.69L120.07 166.69L118.07 164.69Z" fill="#B47C12"/><path d="M123.17 165L125.17 167L123.17 169L121.17 167Z" fill="#B47C12"/><path d="M126.28 165.15L128.28 167.15L126.28 169.15L124.28 167.15Z" fill="#B47C12"/><path d="M129.38 167.24L131.38 169.24L129.38 171.24L127.38 169.24Z" fill="#B47C12"/><path d="M132.49 168.28L134.49 170.28L132.49 172.28L130.49 170.28Z" fill="#B47C12"/><path d="M135.59 170.16L137.59 172.16L135.59 174.16L133.59 172.16Z" fill="#B47C12"/><path d="M138.7 172.94L140.7 174.94L138.7 176.94L136.7 174.94Z" fill="#B47C12"/><path d="M141.81 174.11L143.81 176.11L141.81 178.11L139.81 176.11Z" fill="#B47C12"/><path d="M144.91 175.03L146.91 177.03L144.91 179.03L142.91 177.03Z" fill="#B47C12"/><path d="M148.01 177.44L150.01 179.44L148.01 181.44L146.01 179.44Z" fill="#B47C12"/><path d="M151.12 180.82L153.12 182.82L151.12 184.82L149.12 182.82Z" fill="#B47C12"/><path d="M154.22 183.8L156.22 185.8L154.22 187.8L152.22 185.8Z" fill="#B47C12"/><path d="M157.33 186.6L159.33 188.6L157.33 190.6L155.33 188.6Z" fill="#B47C12"/><path d="M160.44 188.25L162.44 190.25L160.44 192.25L158.44 190.25Z" fill="#B47C12"/><path d="M163.54 192.03L165.54 194.03L163.54 196.03L161.54 194.03Z" fill="#B47C12"/><path d="M166.64 193.76L168.64 195.76L166.64 197.76L164.64 195.76Z" fill="#B47C12"/><path d="M169.75 196.66L171.75 198.66L169.75 200.66L167.75 198.66Z" fill="#B47C12"/><path d="M172.85 198.1L174.85 200.1L172.85 202.1L170.85 200.1Z" fill="#B47C12"/><path d="M175.96 199.47L177.96 201.47L175.96 203.47L173.96 201.47Z" fill="#B47C12"/><path d="M179.06 202.47L181.06 204.47L179.06 206.47L177.06 204.47Z" fill="#B47C12"/><path d="M182.17 203.28L184.17 205.28L182.17 207.28L180.17 205.28Z" fill="#B47C12"/><path d="M185.27 205.18L187.27 207.18L185.27 209.18L183.27 207.18Z" fill="#B47C12"/><path d="M188.38 214.25L190.38 216.25L188.38 218.25L186.38 216.25Z" fill="#B47C12"/><path d="M191.49 214.25L193.49 216.25L191.49 218.25L189.49 216.25Z" fill="#B47C12"/><path d="M194.59 214.25L196.59 216.25L194.59 218.25L192.59 216.25Z" fill="#B47C12"/><path d="M197.69 214.25L199.69 216.25L197.69 218.25L195.69 216.25Z" fill="#B47C12"/><path d="M200.8 214.25L202.8 216.25L200.8 218.25L198.8 216.25Z" fill="#B47C12"/><path d="M203.9 214.25L205.9 216.25L203.9 218.25L201.9 216.25Z" fill="#B47C12"/><path d="M207.01 214.25L209.01 216.25L207.01 218.25L205.01 216.25Z" fill="#B47C12"/><path d="M210.12 214.25L212.12 216.25L210.12 218.25L208.12 216.25Z" fill="#B47C12"/><path d="M213.22 214.25L215.22 216.25L213.22 218.25L211.22 216.25Z" fill="#B47C12"/><path d="M216.32 214.25L218.32 216.25L216.32 218.25L214.32 216.25Z" fill="#B47C12"/><path d="M219.43 214.25L221.43 216.25L219.43 218.25L217.43 216.25Z" fill="#B47C12"/><path d="M222.53 214.25L224.53 216.25L222.53 218.25L220.53 216.25Z" fill="#B47C12"/><path d="M225.64 214.25L227.64 216.25L225.64 218.25L223.64 216.25Z" fill="#B47C12"/><path d="M228.75 214.25L230.75 216.25L228.75 218.25L226.75 216.25Z" fill="#B47C12"/><path d="M231.85 214.25L233.85 216.25L231.85 218.25L229.85 216.25Z" fill="#B47C12"/><path d="M234.95 214.25L236.95 216.25L234.95 218.25L232.95 216.25Z" fill="#B47C12"/><path d="M238.06 214.25L240.06 216.25L238.06 218.25L236.06 216.25Z" fill="#B47C12"/></g></g>
<g id="LCASE31"><polyline points="45.5,203.6 48.7,180.0 51.8,169.2 54.9,167.4 58.0,169.3 61.1,169.9 64.2,170.8 67.3,171.2 70.4,172.9 73.5,173.4 76.6,175.5 79.7,176.4 82.8,175.7 85.9,175.5 89.0,175.2 92.1,177.8 95.2,178.0 98.3,178.7 101.4,178.6 104.5,178.6 107.7,178.3 110.8,179.2 113.9,179.7 117.0,181.9 120.1,183.7 123.2,185.5 126.3,186.5 129.4,186.7 132.5,187.1 135.6,186.9 138.7,189.3 141.8,190.5 144.9,192.3 148.0,192.9 151.1,196.4 154.2,199.2 157.3,202.2 160.4,204.2 163.5,205.5 166.6,206.0 169.8,207.5 172.9,207.9 176.0,208.7 179.1,208.6 182.2,209.1 185.3,209.7 188.4,216.2 191.5,216.2 194.6,216.2 197.7,216.2 200.8,216.2 203.9,216.2 207.0,216.2 210.1,216.2 213.2,216.2 216.3,216.2 219.4,216.2 222.5,216.2 225.6,216.2 228.7,216.2 231.9,216.2 235.0,216.2 238.1,216.2" fill="none" stroke="#1F4E96" stroke-width="1.37" stroke-linejoin="round"/>
<g><rect x="43.85" y="201.87" width="3.4" height="3.4" fill="#1F4E96"/><rect x="46.95" y="178.33" width="3.4" height="3.4" fill="#1F4E96"/><rect x="50.06" y="167.47" width="3.4" height="3.4" fill="#1F4E96"/><rect x="53.16" y="165.65" width="3.4" height="3.4" fill="#1F4E96"/><rect x="56.27" y="167.59" width="3.4" height="3.4" fill="#1F4E96"/><rect x="59.37" y="168.15" width="3.4" height="3.4" fill="#1F4E96"/><rect x="62.48" y="169.12" width="3.4" height="3.4" fill="#1F4E96"/><rect x="65.58" y="169.49" width="3.4" height="3.4" fill="#1F4E96"/><rect x="68.69" y="171.17" width="3.4" height="3.4" fill="#1F4E96"/><rect x="71.8" y="171.68" width="3.4" height="3.4" fill="#1F4E96"/><rect x="74.9" y="173.8" width="3.4" height="3.4" fill="#1F4E96"/><rect x="78" y="174.7" width="3.4" height="3.4" fill="#1F4E96"/><rect x="81.11" y="173.97" width="3.4" height="3.4" fill="#1F4E96"/><rect x="84.21" y="173.78" width="3.4" height="3.4" fill="#1F4E96"/><rect x="87.32" y="173.53" width="3.4" height="3.4" fill="#1F4E96"/><rect x="90.42" y="176.14" width="3.4" height="3.4" fill="#1F4E96"/><rect x="93.53" y="176.27" width="3.4" height="3.4" fill="#1F4E96"/><rect x="96.63" y="177.01" width="3.4" height="3.4" fill="#1F4E96"/><rect x="99.74" y="176.86" width="3.4" height="3.4" fill="#1F4E96"/><rect x="102.84" y="176.91" width="3.4" height="3.4" fill="#1F4E96"/><rect x="105.95" y="176.59" width="3.4" height="3.4" fill="#1F4E96"/><rect x="109.05" y="177.49" width="3.4" height="3.4" fill="#1F4E96"/><rect x="112.16" y="177.98" width="3.4" height="3.4" fill="#1F4E96"/><rect x="115.27" y="180.22" width="3.4" height="3.4" fill="#1F4E96"/><rect x="118.37" y="181.96" width="3.4" height="3.4" fill="#1F4E96"/><rect x="121.47" y="183.76" width="3.4" height="3.4" fill="#1F4E96"/><rect x="124.58" y="184.79" width="3.4" height="3.4" fill="#1F4E96"/><rect x="127.68" y="185.02" width="3.4" height="3.4" fill="#1F4E96"/><rect x="130.79" y="185.37" width="3.4" height="3.4" fill="#1F4E96"/><rect x="133.9" y="185.23" width="3.4" height="3.4" fill="#1F4E96"/><rect x="137" y="187.56" width="3.4" height="3.4" fill="#1F4E96"/><rect x="140.11" y="188.84" width="3.4" height="3.4" fill="#1F4E96"/><rect x="143.21" y="190.6" width="3.4" height="3.4" fill="#1F4E96"/><rect x="146.31" y="191.22" width="3.4" height="3.4" fill="#1F4E96"/><rect x="149.42" y="194.73" width="3.4" height="3.4" fill="#1F4E96"/><rect x="152.53" y="197.51" width="3.4" height="3.4" fill="#1F4E96"/><rect x="155.63" y="200.55" width="3.4" height="3.4" fill="#1F4E96"/><rect x="158.74" y="202.46" width="3.4" height="3.4" fill="#1F4E96"/><rect x="161.84" y="203.79" width="3.4" height="3.4" fill="#1F4E96"/><rect x="164.94" y="204.33" width="3.4" height="3.4" fill="#1F4E96"/><rect x="168.05" y="205.76" width="3.4" height="3.4" fill="#1F4E96"/><rect x="171.16" y="206.22" width="3.4" height="3.4" fill="#1F4E96"/><rect x="174.26" y="207.03" width="3.4" height="3.4" fill="#1F4E96"/><rect x="177.37" y="206.94" width="3.4" height="3.4" fill="#1F4E96"/><rect x="180.47" y="207.45" width="3.4" height="3.4" fill="#1F4E96"/><rect x="183.57" y="208.03" width="3.4" height="3.4" fill="#1F4E96"/><rect x="186.68" y="214.55" width="3.4" height="3.4" fill="#1F4E96"/><rect x="189.79" y="214.55" width="3.4" height="3.4" fill="#1F4E96"/><rect x="192.89" y="214.55" width="3.4" height="3.4" fill="#1F4E96"/><rect x="196" y="214.55" width="3.4" height="3.4" fill="#1F4E96"/><rect x="199.1" y="214.55" width="3.4" height="3.4" fill="#1F4E96"/><rect x="202.2" y="214.55" width="3.4" height="3.4" fill="#1F4E96"/><rect x="205.31" y="214.55" width="3.4" height="3.4" fill="#1F4E96"/><rect x="208.42" y="214.55" width="3.4" height="3.4" fill="#1F4E96"/><rect x="211.52" y="214.55" width="3.4" height="3.4" fill="#1F4E96"/><rect x="214.62" y="214.55" width="3.4" height="3.4" fill="#1F4E96"/><rect x="217.73" y="214.55" width="3.4" height="3.4" fill="#1F4E96"/><rect x="220.83" y="214.55" width="3.4" height="3.4" fill="#1F4E96"/><rect x="223.94" y="214.55" width="3.4" height="3.4" fill="#1F4E96"/><rect x="227.05" y="214.55" width="3.4" height="3.4" fill="#1F4E96"/><rect x="230.15" y="214.55" width="3.4" height="3.4" fill="#1F4E96"/><rect x="233.25" y="214.55" width="3.4" height="3.4" fill="#1F4E96"/><rect x="236.36" y="214.55" width="3.4" height="3.4" fill="#1F4E96"/></g></g>
<g id="LCASE32"><polyline points="45.5,180.0 48.7,67.8 51.8,43.5 54.9,73.5 58.0,137.4 61.1,150.2 64.2,156.8 67.3,145.7 70.4,149.1 73.5,139.3 76.6,144.0 79.7,133.9 82.8,129.3 85.9,122.0 89.0,117.5 92.1,112.5 95.2,115.9 98.3,118.6 101.4,123.7 104.5,126.1 107.7,122.9 110.8,122.4 113.9,131.8 117.0,133.9 120.1,136.1 123.2,138.3 126.3,139.7 129.4,140.2 132.5,140.4 135.6,140.5 138.7,143.8 141.8,145.1 144.9,148.0 148.0,152.4 151.1,155.9 154.2,161.0 157.3,165.4 160.4,169.1 163.5,172.8 166.6,177.4 169.8,180.7 172.9,184.1 176.0,187.2 179.1,190.5 182.2,194.6 185.3,198.6 188.4,216.2 191.5,216.2 194.6,216.2 197.7,216.2 200.8,216.2 203.9,216.2 207.0,216.2 210.1,216.2 213.2,216.2 216.3,216.2 219.4,216.2 222.5,216.2 225.6,216.2 228.7,216.2 231.9,216.2 235.0,216.2 238.1,216.2" fill="none" stroke="#2E7D32" stroke-width="1.14" stroke-linejoin="round"/>
<g><path d="M45.55 178.03L47.55 182.03L43.55 182.03Z" fill="#2E7D32"/><path d="M48.65 65.75L50.65 69.75L46.65 69.75Z" fill="#2E7D32"/><path d="M51.76 41.49L53.76 45.49L49.76 45.49Z" fill="#2E7D32"/><path d="M54.86 71.55L56.86 75.55L52.86 75.55Z" fill="#2E7D32"/><path d="M57.97 135.37L59.97 139.37L55.97 139.37Z" fill="#2E7D32"/><path d="M61.07 148.17L63.07 152.17L59.07 152.17Z" fill="#2E7D32"/><path d="M64.18 154.81L66.18 158.81L62.18 158.81Z" fill="#2E7D32"/><path d="M67.28 143.71L69.28 147.71L65.28 147.71Z" fill="#2E7D32"/><path d="M70.39 147.06L72.39 151.06L68.39 151.06Z" fill="#2E7D32"/><path d="M73.5 137.31L75.5 141.31L71.5 141.31Z" fill="#2E7D32"/><path d="M76.6 141.98L78.6 145.98L74.6 145.98Z" fill="#2E7D32"/><path d="M79.7 131.85L81.7 135.85L77.7 135.85Z" fill="#2E7D32"/><path d="M82.81 127.32L84.81 131.32L80.81 131.32Z" fill="#2E7D32"/><path d="M85.91 120.01L87.91 124.01L83.91 124.01Z" fill="#2E7D32"/><path d="M89.02 115.5L91.02 119.5L87.02 119.5Z" fill="#2E7D32"/><path d="M92.12 110.48L94.12 114.48L90.12 114.48Z" fill="#2E7D32"/><path d="M95.23 113.88L97.23 117.88L93.23 117.88Z" fill="#2E7D32"/><path d="M98.33 116.59L100.33 120.59L96.33 120.59Z" fill="#2E7D32"/><path d="M101.44 121.68L103.44 125.68L99.44 125.68Z" fill="#2E7D32"/><path d="M104.54 124.06L106.54 128.06L102.54 128.06Z" fill="#2E7D32"/><path d="M107.65 120.88L109.65 124.88L105.65 124.88Z" fill="#2E7D32"/><path d="M110.75 120.44L112.75 124.44L108.75 124.44Z" fill="#2E7D32"/><path d="M113.86 129.85L115.86 133.85L111.86 133.85Z" fill="#2E7D32"/><path d="M116.97 131.91L118.97 135.91L114.97 135.91Z" fill="#2E7D32"/><path d="M120.07 134.08L122.07 138.08L118.07 138.08Z" fill="#2E7D32"/><path d="M123.17 136.26L125.17 140.26L121.17 140.26Z" fill="#2E7D32"/><path d="M126.28 137.66L128.28 141.66L124.28 141.66Z" fill="#2E7D32"/><path d="M129.38 138.15L131.38 142.15L127.38 142.15Z" fill="#2E7D32"/><path d="M132.49 138.43L134.49 142.43L130.49 142.43Z" fill="#2E7D32"/><path d="M135.59 138.48L137.59 142.48L133.59 142.48Z" fill="#2E7D32"/><path d="M138.7 141.76L140.7 145.76L136.7 145.76Z" fill="#2E7D32"/><path d="M141.81 143.13L143.81 147.13L139.81 147.13Z" fill="#2E7D32"/><path d="M144.91 145.98L146.91 149.98L142.91 149.98Z" fill="#2E7D32"/><path d="M148.01 150.45L150.01 154.45L146.01 154.45Z" fill="#2E7D32"/><path d="M151.12 153.9L153.12 157.9L149.12 157.9Z" fill="#2E7D32"/><path d="M154.22 159L156.22 163L152.22 163Z" fill="#2E7D32"/><path d="M157.33 163.41L159.33 167.41L155.33 167.41Z" fill="#2E7D32"/><path d="M160.44 167.05L162.44 171.05L158.44 171.05Z" fill="#2E7D32"/><path d="M163.54 170.8L165.54 174.8L161.54 174.8Z" fill="#2E7D32"/><path d="M166.64 175.44L168.64 179.44L164.64 179.44Z" fill="#2E7D32"/><path d="M169.75 178.69L171.75 182.69L167.75 182.69Z" fill="#2E7D32"/><path d="M172.85 182.09L174.85 186.09L170.85 186.09Z" fill="#2E7D32"/><path d="M175.96 185.25L177.96 189.25L173.96 189.25Z" fill="#2E7D32"/><path d="M179.06 188.48L181.06 192.48L177.06 192.48Z" fill="#2E7D32"/><path d="M182.17 192.62L184.17 196.62L180.17 196.62Z" fill="#2E7D32"/><path d="M185.27 196.61L187.27 200.61L183.27 200.61Z" fill="#2E7D32"/><path d="M188.38 214.25L190.38 218.25L186.38 218.25Z" fill="#2E7D32"/><path d="M191.49 214.25L193.49 218.25L189.49 218.25Z" fill="#2E7D32"/><path d="M194.59 214.25L196.59 218.25L192.59 218.25Z" fill="#2E7D32"/><path d="M197.69 214.25L199.69 218.25L195.69 218.25Z" fill="#2E7D32"/><path d="M200.8 214.25L202.8 218.25L198.8 218.25Z" fill="#2E7D32"/><path d="M203.9 214.25L205.9 218.25L201.9 218.25Z" fill="#2E7D32"/><path d="M207.01 214.25L209.01 218.25L205.01 218.25Z" fill="#2E7D32"/><path d="M210.12 214.25L212.12 218.25L208.12 218.25Z" fill="#2E7D32"/><path d="M213.22 214.25L215.22 218.25L211.22 218.25Z" fill="#2E7D32"/><path d="M216.32 214.25L218.32 218.25L214.32 218.25Z" fill="#2E7D32"/><path d="M219.43 214.25L221.43 218.25L217.43 218.25Z" fill="#2E7D32"/><path d="M222.53 214.25L224.53 218.25L220.53 218.25Z" fill="#2E7D32"/><path d="M225.64 214.25L227.64 218.25L223.64 218.25Z" fill="#2E7D32"/><path d="M228.75 214.25L230.75 218.25L226.75 218.25Z" fill="#2E7D32"/><path d="M231.85 214.25L233.85 218.25L229.85 218.25Z" fill="#2E7D32"/><path d="M234.95 214.25L236.95 218.25L232.95 218.25Z" fill="#2E7D32"/><path d="M238.06 214.25L240.06 218.25L236.06 218.25Z" fill="#2E7D32"/></g></g>
<g id="LCASE33"><polyline points="45.5,192.7 48.7,114.8 51.8,100.3 54.9,140.2 58.0,148.6 61.1,137.9 64.2,129.9 67.3,123.1 70.4,116.8 73.5,112.2 76.6,107.6 79.7,101.7 82.8,101.6 85.9,101.3 89.0,102.6 92.1,106.1 95.2,107.9 98.3,109.0 101.4,111.5 104.5,114.9 107.7,116.8 110.8,118.0 113.9,118.2 117.0,123.0 120.1,128.5 123.2,129.7 126.3,132.5 129.4,135.2 132.5,137.9 135.6,139.1 138.7,142.2 141.8,145.2 144.9,145.2 148.0,150.2 151.1,154.6 154.2,157.9 157.3,163.9 160.4,167.2 163.5,171.8 166.6,177.7 169.8,181.7 172.9,185.6 176.0,189.8 179.1,192.5 182.2,197.0 185.3,199.3 188.4,216.2 191.5,216.2 194.6,216.2 197.7,216.2 200.8,216.2 203.9,216.2 207.0,216.2 210.1,216.2 213.2,216.2 216.3,216.2 219.4,216.2 222.5,216.2 225.6,216.2 228.7,216.2 231.9,216.2 235.0,216.2 238.1,216.2" fill="none" stroke="#5FB4F2" stroke-width="0.8" stroke-linejoin="round"/>
<g><path d="M43.75 190.91L47.35 194.51M43.75 194.51L47.35 190.91" stroke="#5FB4F2" stroke-width="0.7" fill="none"/><path d="M46.85 113.04L50.45 116.64M46.85 116.64L50.45 113.04" stroke="#5FB4F2" stroke-width="0.7" fill="none"/><path d="M49.96 98.55L53.56 102.15M49.96 102.15L53.56 98.55" stroke="#5FB4F2" stroke-width="0.7" fill="none"/><path d="M53.06 138.39L56.66 141.99M53.06 141.99L56.66 138.39" stroke="#5FB4F2" stroke-width="0.7" fill="none"/><path d="M56.17 146.84L59.77 150.44M56.17 150.44L59.77 146.84" stroke="#5FB4F2" stroke-width="0.7" fill="none"/><path d="M59.27 136.11L62.87 139.71M59.27 139.71L62.87 136.11" stroke="#5FB4F2" stroke-width="0.7" fill="none"/><path d="M62.38 128.15L65.98 131.75M62.38 131.75L65.98 128.15" stroke="#5FB4F2" stroke-width="0.7" fill="none"/><path d="M65.48 121.27L69.08 124.87M65.48 124.87L69.08 121.27" stroke="#5FB4F2" stroke-width="0.7" fill="none"/><path d="M68.59 115.03L72.19 118.63M68.59 118.63L72.19 115.03" stroke="#5FB4F2" stroke-width="0.7" fill="none"/><path d="M71.7 110.38L75.3 113.98M71.7 113.98L75.3 110.38" stroke="#5FB4F2" stroke-width="0.7" fill="none"/><path d="M74.8 105.82L78.4 109.42M74.8 109.42L78.4 105.82" stroke="#5FB4F2" stroke-width="0.7" fill="none"/><path d="M77.91 99.89L81.5 103.49M77.91 103.49L81.5 99.89" stroke="#5FB4F2" stroke-width="0.7" fill="none"/><path d="M81.01 99.76L84.61 103.36M81.01 103.36L84.61 99.76" stroke="#5FB4F2" stroke-width="0.7" fill="none"/><path d="M84.11 99.49L87.71 103.09M84.11 103.09L87.71 99.49" stroke="#5FB4F2" stroke-width="0.7" fill="none"/><path d="M87.22 100.81L90.82 104.41M87.22 104.41L90.82 100.81" stroke="#5FB4F2" stroke-width="0.7" fill="none"/><path d="M90.33 104.28L93.92 107.88M90.33 107.88L93.92 104.28" stroke="#5FB4F2" stroke-width="0.7" fill="none"/><path d="M93.43 106.08L97.03 109.68M93.43 109.68L97.03 106.08" stroke="#5FB4F2" stroke-width="0.7" fill="none"/><path d="M96.53 107.22L100.13 110.82M96.53 110.82L100.13 107.22" stroke="#5FB4F2" stroke-width="0.7" fill="none"/><path d="M99.64 109.67L103.24 113.27M99.64 113.27L103.24 109.67" stroke="#5FB4F2" stroke-width="0.7" fill="none"/><path d="M102.74 113.09L106.34 116.69M102.74 116.69L106.34 113.09" stroke="#5FB4F2" stroke-width="0.7" fill="none"/><path d="M105.85 115.02L109.45 118.62M105.85 118.62L109.45 115.02" stroke="#5FB4F2" stroke-width="0.7" fill="none"/><path d="M108.95 116.22L112.55 119.82M108.95 119.82L112.55 116.22" stroke="#5FB4F2" stroke-width="0.7" fill="none"/><path d="M112.06 116.39L115.66 119.99M112.06 119.99L115.66 116.39" stroke="#5FB4F2" stroke-width="0.7" fill="none"/><path d="M115.17 121.2L118.77 124.8M115.17 124.8L118.77 121.2" stroke="#5FB4F2" stroke-width="0.7" fill="none"/><path d="M118.27 126.74L121.87 130.34M118.27 130.34L121.87 126.74" stroke="#5FB4F2" stroke-width="0.7" fill="none"/><path d="M121.38 127.94L124.97 131.54M121.38 131.54L124.97 127.94" stroke="#5FB4F2" stroke-width="0.7" fill="none"/><path d="M124.48 130.66L128.08 134.26M124.48 134.26L128.08 130.66" stroke="#5FB4F2" stroke-width="0.7" fill="none"/><path d="M127.58 133.41L131.19 137.01M127.58 137.01L131.19 133.41" stroke="#5FB4F2" stroke-width="0.7" fill="none"/><path d="M130.69 136.11L134.29 139.71M130.69 139.71L134.29 136.11" stroke="#5FB4F2" stroke-width="0.7" fill="none"/><path d="M133.79 137.34L137.4 140.94M133.79 140.94L137.4 137.34" stroke="#5FB4F2" stroke-width="0.7" fill="none"/><path d="M136.9 140.37L140.5 143.97M136.9 143.97L140.5 140.37" stroke="#5FB4F2" stroke-width="0.7" fill="none"/><path d="M140 143.42L143.61 147.02M140 147.02L143.61 143.42" stroke="#5FB4F2" stroke-width="0.7" fill="none"/><path d="M143.11 143.36L146.71 146.96M143.11 146.96L146.71 143.36" stroke="#5FB4F2" stroke-width="0.7" fill="none"/><path d="M146.21 148.37L149.81 151.97M146.21 151.97L149.81 148.37" stroke="#5FB4F2" stroke-width="0.7" fill="none"/><path d="M149.32 152.8L152.92 156.4M149.32 156.4L152.92 152.8" stroke="#5FB4F2" stroke-width="0.7" fill="none"/><path d="M152.42 156.15L156.03 159.75M152.42 159.75L156.03 156.15" stroke="#5FB4F2" stroke-width="0.7" fill="none"/><path d="M155.53 162.12L159.13 165.72M155.53 165.72L159.13 162.12" stroke="#5FB4F2" stroke-width="0.7" fill="none"/><path d="M158.63 165.38L162.24 168.98M158.63 168.98L162.24 165.38" stroke="#5FB4F2" stroke-width="0.7" fill="none"/><path d="M161.74 170.04L165.34 173.64M161.74 173.64L165.34 170.04" stroke="#5FB4F2" stroke-width="0.7" fill="none"/><path d="M164.84 175.9L168.44 179.5M164.84 179.5L168.44 175.9" stroke="#5FB4F2" stroke-width="0.7" fill="none"/><path d="M167.95 179.86L171.55 183.46M167.95 183.46L171.55 179.86" stroke="#5FB4F2" stroke-width="0.7" fill="none"/><path d="M171.05 183.81L174.66 187.41M171.05 187.41L174.66 183.81" stroke="#5FB4F2" stroke-width="0.7" fill="none"/><path d="M174.16 188.04L177.76 191.64M174.16 191.64L177.76 188.04" stroke="#5FB4F2" stroke-width="0.7" fill="none"/><path d="M177.26 190.66L180.87 194.26M177.26 194.26L180.87 190.66" stroke="#5FB4F2" stroke-width="0.7" fill="none"/><path d="M180.37 195.23L183.97 198.83M180.37 198.83L183.97 195.23" stroke="#5FB4F2" stroke-width="0.7" fill="none"/><path d="M183.47 197.48L187.07 201.08M183.47 201.08L187.07 197.48" stroke="#5FB4F2" stroke-width="0.7" fill="none"/><path d="M186.58 214.45L190.18 218.05M186.58 218.05L190.18 214.45" stroke="#5FB4F2" stroke-width="0.7" fill="none"/><path d="M189.69 214.45L193.29 218.05M189.69 218.05L193.29 214.45" stroke="#5FB4F2" stroke-width="0.7" fill="none"/><path d="M192.79 214.45L196.39 218.05M192.79 218.05L196.39 214.45" stroke="#5FB4F2" stroke-width="0.7" fill="none"/><path d="M195.89 214.45L199.5 218.05M195.89 218.05L199.5 214.45" stroke="#5FB4F2" stroke-width="0.7" fill="none"/><path d="M199 214.45L202.6 218.05M199 218.05L202.6 214.45" stroke="#5FB4F2" stroke-width="0.7" fill="none"/><path d="M202.1 214.45L205.7 218.05M202.1 218.05L205.7 214.45" stroke="#5FB4F2" stroke-width="0.7" fill="none"/><path d="M205.21 214.45L208.81 218.05M205.21 218.05L208.81 214.45" stroke="#5FB4F2" stroke-width="0.7" fill="none"/><path d="M208.31 214.45L211.92 218.05M208.31 218.05L211.92 214.45" stroke="#5FB4F2" stroke-width="0.7" fill="none"/><path d="M211.42 214.45L215.02 218.05M211.42 218.05L215.02 214.45" stroke="#5FB4F2" stroke-width="0.7" fill="none"/><path d="M214.52 214.45L218.12 218.05M214.52 218.05L218.12 214.45" stroke="#5FB4F2" stroke-width="0.7" fill="none"/><path d="M217.63 214.45L221.23 218.05M217.63 218.05L221.23 214.45" stroke="#5FB4F2" stroke-width="0.7" fill="none"/><path d="M220.73 214.45L224.33 218.05M220.73 218.05L224.33 214.45" stroke="#5FB4F2" stroke-width="0.7" fill="none"/><path d="M223.84 214.45L227.44 218.05M223.84 218.05L227.44 214.45" stroke="#5FB4F2" stroke-width="0.7" fill="none"/><path d="M226.94 214.45L230.55 218.05M226.94 218.05L230.55 214.45" stroke="#5FB4F2" stroke-width="0.7" fill="none"/><path d="M230.05 214.45L233.65 218.05M230.05 218.05L233.65 214.45" stroke="#5FB4F2" stroke-width="0.7" fill="none"/><path d="M233.15 214.45L236.75 218.05M233.15 218.05L236.75 214.45" stroke="#5FB4F2" stroke-width="0.7" fill="none"/><path d="M236.26 214.45L239.86 218.05M236.26 218.05L239.86 214.45" stroke="#5FB4F2" stroke-width="0.7" fill="none"/></g></g>
<g id="LCASE34"><polyline points="45.5,200.9 48.7,158.3 51.8,147.4 54.9,151.1 58.0,154.1 61.1,154.6 64.2,153.8 67.3,154.9 70.4,153.8 73.5,153.7 76.6,150.6 79.7,153.1 82.8,150.1 85.9,150.9 89.0,151.9 92.1,149.9 95.2,152.6 98.3,152.0 101.4,154.7 104.5,156.9 107.7,158.2 110.8,159.0 113.9,159.6 117.0,160.2 120.1,163.9 123.2,164.5 126.3,166.4 129.4,165.5 132.5,169.3 135.6,170.9 138.7,172.3 141.8,173.3 144.9,173.8 148.0,176.6 151.1,179.7 154.2,181.8 157.3,184.9 160.4,189.3 163.5,192.4 166.6,192.6 169.8,195.6 172.9,199.9 176.0,200.4 179.1,203.3 182.2,205.4 185.3,207.3 188.4,216.2 191.5,216.2 194.6,216.2 197.7,216.2 200.8,216.2 203.9,216.2 207.0,216.2 210.1,216.2 213.2,216.2 216.3,216.2 219.4,216.2 222.5,216.2 225.6,216.2 228.7,216.2 231.9,216.2 235.0,216.2 238.1,216.2" fill="none" stroke="#F5A26F" stroke-width="0.92" stroke-linejoin="round"/>
<g><path d="M43.75 199.06L47.35 202.66M43.75 202.66L47.35 199.06M45.55 199.06L45.55 202.66" stroke="#F5A26F" stroke-width="0.7" fill="none"/><path d="M46.85 156.5L50.45 160.1M46.85 160.1L50.45 156.5M48.65 156.5L48.65 160.1" stroke="#F5A26F" stroke-width="0.7" fill="none"/><path d="M49.96 145.63L53.56 149.23M49.96 149.23L53.56 145.63M51.76 145.63L51.76 149.23" stroke="#F5A26F" stroke-width="0.7" fill="none"/><path d="M53.06 149.26L56.66 152.86M53.06 152.86L56.66 149.26M54.86 149.26L54.86 152.86" stroke="#F5A26F" stroke-width="0.7" fill="none"/><path d="M56.17 152.35L59.77 155.95M56.17 155.95L59.77 152.35M57.97 152.35L57.97 155.95" stroke="#F5A26F" stroke-width="0.7" fill="none"/><path d="M59.27 152.85L62.87 156.45M59.27 156.45L62.87 152.85M61.07 152.85L61.07 156.45" stroke="#F5A26F" stroke-width="0.7" fill="none"/><path d="M62.38 152.02L65.98 155.62M62.38 155.62L65.98 152.02M64.18 152.02L64.18 155.62" stroke="#F5A26F" stroke-width="0.7" fill="none"/><path d="M65.48 153.09L69.08 156.69M65.48 156.69L69.08 153.09M67.28 153.09L67.28 156.69" stroke="#F5A26F" stroke-width="0.7" fill="none"/><path d="M68.59 151.96L72.19 155.56M68.59 155.56L72.19 151.96M70.39 151.96L70.39 155.56" stroke="#F5A26F" stroke-width="0.7" fill="none"/><path d="M71.7 151.92L75.3 155.52M71.7 155.52L75.3 151.92M73.5 151.92L73.5 155.52" stroke="#F5A26F" stroke-width="0.7" fill="none"/><path d="M74.8 148.8L78.4 152.4M74.8 152.4L78.4 148.8M76.6 148.8L76.6 152.4" stroke="#F5A26F" stroke-width="0.7" fill="none"/><path d="M77.91 151.25L81.5 154.85M77.91 154.85L81.5 151.25M79.7 151.25L79.7 154.85" stroke="#F5A26F" stroke-width="0.7" fill="none"/><path d="M81.01 148.33L84.61 151.93M81.01 151.93L84.61 148.33M82.81 148.33L82.81 151.93" stroke="#F5A26F" stroke-width="0.7" fill="none"/><path d="M84.11 149.13L87.71 152.73M84.11 152.73L87.71 149.13M85.91 149.13L85.91 152.73" stroke="#F5A26F" stroke-width="0.7" fill="none"/><path d="M87.22 150.06L90.82 153.66M87.22 153.66L90.82 150.06M89.02 150.06L89.02 153.66" stroke="#F5A26F" stroke-width="0.7" fill="none"/><path d="M90.33 148.14L93.92 151.74M90.33 151.74L93.92 148.14M92.12 148.14L92.12 151.74" stroke="#F5A26F" stroke-width="0.7" fill="none"/><path d="M93.43 150.76L97.03 154.36M93.43 154.36L97.03 150.76M95.23 150.76L95.23 154.36" stroke="#F5A26F" stroke-width="0.7" fill="none"/><path d="M96.53 150.21L100.13 153.81M96.53 153.81L100.13 150.21M98.33 150.21L98.33 153.81" stroke="#F5A26F" stroke-width="0.7" fill="none"/><path d="M99.64 152.89L103.24 156.49M99.64 156.49L103.24 152.89M101.44 152.89L101.44 156.49" stroke="#F5A26F" stroke-width="0.7" fill="none"/><path d="M102.74 155.14L106.34 158.74M102.74 158.74L106.34 155.14M104.54 155.14L104.54 158.74" stroke="#F5A26F" stroke-width="0.7" fill="none"/><path d="M105.85 156.4L109.45 160M105.85 160L109.45 156.4M107.65 156.4L107.65 160" stroke="#F5A26F" stroke-width="0.7" fill="none"/><path d="M108.95 157.19L112.55 160.79M108.95 160.79L112.55 157.19M110.75 157.19L110.75 160.79" stroke="#F5A26F" stroke-width="0.7" fill="none"/><path d="M112.06 157.83L115.66 161.43M112.06 161.43L115.66 157.83M113.86 157.83L113.86 161.43" stroke="#F5A26F" stroke-width="0.7" fill="none"/><path d="M115.17 158.37L118.77 161.97M115.17 161.97L118.77 158.37M116.97 158.37L116.97 161.97" stroke="#F5A26F" stroke-width="0.7" fill="none"/><path d="M118.27 162.05L121.87 165.65M118.27 165.65L121.87 162.05M120.07 162.05L120.07 165.65" stroke="#F5A26F" stroke-width="0.7" fill="none"/><path d="M121.38 162.69L124.97 166.29M121.38 166.29L124.97 162.69M123.17 162.69L123.17 166.29" stroke="#F5A26F" stroke-width="0.7" fill="none"/><path d="M124.48 164.58L128.08 168.18M124.48 168.18L128.08 164.58M126.28 164.58L126.28 168.18" stroke="#F5A26F" stroke-width="0.7" fill="none"/><path d="M127.58 163.73L131.19 167.33M127.58 167.33L131.19 163.73M129.38 163.73L129.38 167.33" stroke="#F5A26F" stroke-width="0.7" fill="none"/><path d="M130.69 167.5L134.29 171.1M130.69 171.1L134.29 167.5M132.49 167.5L132.49 171.1" stroke="#F5A26F" stroke-width="0.7" fill="none"/><path d="M133.79 169.12L137.4 172.72M133.79 172.72L137.4 169.12M135.59 169.12L135.59 172.72" stroke="#F5A26F" stroke-width="0.7" fill="none"/><path d="M136.9 170.45L140.5 174.05M136.9 174.05L140.5 170.45M138.7 170.45L138.7 174.05" stroke="#F5A26F" stroke-width="0.7" fill="none"/><path d="M140 171.48L143.61 175.08M140 175.08L143.61 171.48M141.81 171.48L141.81 175.08" stroke="#F5A26F" stroke-width="0.7" fill="none"/><path d="M143.11 172.01L146.71 175.61M143.11 175.61L146.71 172.01M144.91 172.01L144.91 175.61" stroke="#F5A26F" stroke-width="0.7" fill="none"/><path d="M146.21 174.77L149.81 178.37M146.21 178.37L149.81 174.77M148.01 174.77L148.01 178.37" stroke="#F5A26F" stroke-width="0.7" fill="none"/><path d="M149.32 177.92L152.92 181.52M149.32 181.52L152.92 177.92M151.12 177.92L151.12 181.52" stroke="#F5A26F" stroke-width="0.7" fill="none"/><path d="M152.42 180.05L156.03 183.65M152.42 183.65L156.03 180.05M154.22 180.05L154.22 183.65" stroke="#F5A26F" stroke-width="0.7" fill="none"/><path d="M155.53 183.14L159.13 186.74M155.53 186.74L159.13 183.14M157.33 183.14L157.33 186.74" stroke="#F5A26F" stroke-width="0.7" fill="none"/><path d="M158.63 187.51L162.24 191.11M158.63 191.11L162.24 187.51M160.44 187.51L160.44 191.11" stroke="#F5A26F" stroke-width="0.7" fill="none"/><path d="M161.74 190.55L165.34 194.15M161.74 194.15L165.34 190.55M163.54 190.55L163.54 194.15" stroke="#F5A26F" stroke-width="0.7" fill="none"/><path d="M164.84 190.82L168.44 194.42M164.84 194.42L168.44 190.82M166.64 190.82L166.64 194.42" stroke="#F5A26F" stroke-width="0.7" fill="none"/><path d="M167.95 193.82L171.55 197.42M167.95 197.42L171.55 193.82M169.75 193.82L169.75 197.42" stroke="#F5A26F" stroke-width="0.7" fill="none"/><path d="M171.05 198.15L174.66 201.75M171.05 201.75L174.66 198.15M172.85 198.15L172.85 201.75" stroke="#F5A26F" stroke-width="0.7" fill="none"/><path d="M174.16 198.58L177.76 202.18M174.16 202.18L177.76 198.58M175.96 198.58L175.96 202.18" stroke="#F5A26F" stroke-width="0.7" fill="none"/><path d="M177.26 201.49L180.87 205.09M177.26 205.09L180.87 201.49M179.06 201.49L179.06 205.09" stroke="#F5A26F" stroke-width="0.7" fill="none"/><path d="M180.37 203.59L183.97 207.19M180.37 207.19L183.97 203.59M182.17 203.59L182.17 207.19" stroke="#F5A26F" stroke-width="0.7" fill="none"/><path d="M183.47 205.52L187.07 209.12M183.47 209.12L187.07 205.52M185.27 205.52L185.27 209.12" stroke="#F5A26F" stroke-width="0.7" fill="none"/><path d="M186.58 214.45L190.18 218.05M186.58 218.05L190.18 214.45M188.38 214.45L188.38 218.05" stroke="#F5A26F" stroke-width="0.7" fill="none"/><path d="M189.69 214.45L193.29 218.05M189.69 218.05L193.29 214.45M191.49 214.45L191.49 218.05" stroke="#F5A26F" stroke-width="0.7" fill="none"/><path d="M192.79 214.45L196.39 218.05M192.79 218.05L196.39 214.45M194.59 214.45L194.59 218.05" stroke="#F5A26F" stroke-width="0.7" fill="none"/><path d="M195.89 214.45L199.5 218.05M195.89 218.05L199.5 214.45M197.69 214.45L197.69 218.05" stroke="#F5A26F" stroke-width="0.7" fill="none"/><path d="M199 214.45L202.6 218.05M199 218.05L202.6 214.45M200.8 214.45L200.8 218.05" stroke="#F5A26F" stroke-width="0.7" fill="none"/><path d="M202.1 214.45L205.7 218.05M202.1 218.05L205.7 214.45M203.9 214.45L203.9 218.05" stroke="#F5A26F" stroke-width="0.7" fill="none"/><path d="M205.21 214.45L208.81 218.05M205.21 218.05L208.81 214.45M207.01 214.45L207.01 218.05" stroke="#F5A26F" stroke-width="0.7" fill="none"/><path d="M208.31 214.45L211.92 218.05M208.31 218.05L211.92 214.45M210.12 214.45L210.12 218.05" stroke="#F5A26F" stroke-width="0.7" fill="none"/><path d="M211.42 214.45L215.02 218.05M211.42 218.05L215.02 214.45M213.22 214.45L213.22 218.05" stroke="#F5A26F" stroke-width="0.7" fill="none"/><path d="M214.52 214.45L218.12 218.05M214.52 218.05L218.12 214.45M216.32 214.45L216.32 218.05" stroke="#F5A26F" stroke-width="0.7" fill="none"/><path d="M217.63 214.45L221.23 218.05M217.63 218.05L221.23 214.45M219.43 214.45L219.43 218.05" stroke="#F5A26F" stroke-width="0.7" fill="none"/><path d="M220.73 214.45L224.33 218.05M220.73 218.05L224.33 214.45M222.53 214.45L222.53 218.05" stroke="#F5A26F" stroke-width="0.7" fill="none"/><path d="M223.84 214.45L227.44 218.05M223.84 218.05L227.44 214.45M225.64 214.45L225.64 218.05" stroke="#F5A26F" stroke-width="0.7" fill="none"/><path d="M226.94 214.45L230.55 218.05M226.94 218.05L230.55 214.45M228.75 214.45L228.75 218.05" stroke="#F5A26F" stroke-width="0.7" fill="none"/><path d="M230.05 214.45L233.65 218.05M230.05 218.05L233.65 214.45M231.85 214.45L231.85 218.05" stroke="#F5A26F" stroke-width="0.7" fill="none"/><path d="M233.15 214.45L236.75 218.05M233.15 218.05L236.75 214.45M234.95 214.45L234.95 218.05" stroke="#F5A26F" stroke-width="0.7" fill="none"/><path d="M236.26 214.45L239.86 218.05M236.26 218.05L239.86 214.45M238.06 214.45L238.06 218.05" stroke="#F5A26F" stroke-width="0.7" fill="none"/></g></g>
<g id="LCASE35"><polyline points="45.5,197.2 48.7,134.8 51.8,118.5 54.9,140.2 58.0,150.4 61.1,145.6 64.2,142.8 67.3,138.9 70.4,134.9 73.5,137.0 76.6,135.8 79.7,137.6 82.8,138.5 85.9,138.1 89.0,137.6 92.1,140.4 95.2,143.6 98.3,143.5 101.4,145.2 104.5,144.7 107.7,148.9 110.8,149.9 113.9,149.6 117.0,154.4 120.1,154.6 123.2,155.0 126.3,157.0 129.4,161.1 132.5,162.7 135.6,164.1 138.7,162.6 141.8,167.3 144.9,167.9 148.0,170.4 151.1,175.5 154.2,179.0 157.3,179.8 160.4,184.0 163.5,188.1 166.6,189.4 169.8,193.7 172.9,196.6 176.0,200.3 179.1,199.9 182.2,201.7 185.3,204.9 188.4,216.2 191.5,216.2 194.6,216.2 197.7,216.2 200.8,216.2 203.9,216.2 207.0,216.2 210.1,216.2 213.2,216.2 216.3,216.2 219.4,216.2 222.5,216.2 225.6,216.2 228.7,216.2 231.9,216.2 235.0,216.2 238.1,216.2" fill="none" stroke="#B9B9B9" stroke-width="1.03" stroke-linejoin="round"/>
<g><circle cx="45.55" cy="197.24" r="1.8" fill="#B9B9B9"/><circle cx="48.65" cy="134.76" r="1.8" fill="#B9B9B9"/><circle cx="51.76" cy="118.46" r="1.8" fill="#B9B9B9"/><circle cx="54.86" cy="140.19" r="1.8" fill="#B9B9B9"/><circle cx="57.97" cy="150.44" r="1.8" fill="#B9B9B9"/><circle cx="61.07" cy="145.61" r="1.8" fill="#B9B9B9"/><circle cx="64.18" cy="142.8" r="1.8" fill="#B9B9B9"/><circle cx="67.28" cy="138.92" r="1.8" fill="#B9B9B9"/><circle cx="70.39" cy="134.92" r="1.8" fill="#B9B9B9"/><circle cx="73.5" cy="137.03" r="1.8" fill="#B9B9B9"/><circle cx="76.6" cy="135.79" r="1.8" fill="#B9B9B9"/><circle cx="79.7" cy="137.63" r="1.8" fill="#B9B9B9"/><circle cx="82.81" cy="138.54" r="1.8" fill="#B9B9B9"/><circle cx="85.91" cy="138.12" r="1.8" fill="#B9B9B9"/><circle cx="89.02" cy="137.58" r="1.8" fill="#B9B9B9"/><circle cx="92.12" cy="140.44" r="1.8" fill="#B9B9B9"/><circle cx="95.23" cy="143.63" r="1.8" fill="#B9B9B9"/><circle cx="98.33" cy="143.46" r="1.8" fill="#B9B9B9"/><circle cx="101.44" cy="145.18" r="1.8" fill="#B9B9B9"/><circle cx="104.54" cy="144.74" r="1.8" fill="#B9B9B9"/><circle cx="107.65" cy="148.91" r="1.8" fill="#B9B9B9"/><circle cx="110.75" cy="149.92" r="1.8" fill="#B9B9B9"/><circle cx="113.86" cy="149.62" r="1.8" fill="#B9B9B9"/><circle cx="116.97" cy="154.39" r="1.8" fill="#B9B9B9"/><circle cx="120.07" cy="154.64" r="1.8" fill="#B9B9B9"/><circle cx="123.17" cy="155" r="1.8" fill="#B9B9B9"/><circle cx="126.28" cy="156.97" r="1.8" fill="#B9B9B9"/><circle cx="129.38" cy="161.14" r="1.8" fill="#B9B9B9"/><circle cx="132.49" cy="162.7" r="1.8" fill="#B9B9B9"/><circle cx="135.59" cy="164.14" r="1.8" fill="#B9B9B9"/><circle cx="138.7" cy="162.57" r="1.8" fill="#B9B9B9"/><circle cx="141.81" cy="167.33" r="1.8" fill="#B9B9B9"/><circle cx="144.91" cy="167.91" r="1.8" fill="#B9B9B9"/><circle cx="148.01" cy="170.44" r="1.8" fill="#B9B9B9"/><circle cx="151.12" cy="175.54" r="1.8" fill="#B9B9B9"/><circle cx="154.22" cy="179.04" r="1.8" fill="#B9B9B9"/><circle cx="157.33" cy="179.82" r="1.8" fill="#B9B9B9"/><circle cx="160.44" cy="183.95" r="1.8" fill="#B9B9B9"/><circle cx="163.54" cy="188.14" r="1.8" fill="#B9B9B9"/><circle cx="166.64" cy="189.39" r="1.8" fill="#B9B9B9"/><circle cx="169.75" cy="193.73" r="1.8" fill="#B9B9B9"/><circle cx="172.85" cy="196.6" r="1.8" fill="#B9B9B9"/><circle cx="175.96" cy="200.3" r="1.8" fill="#B9B9B9"/><circle cx="179.06" cy="199.93" r="1.8" fill="#B9B9B9"/><circle cx="182.17" cy="201.7" r="1.8" fill="#B9B9B9"/><circle cx="185.27" cy="204.9" r="1.8" fill="#B9B9B9"/><circle cx="188.38" cy="216.25" r="1.8" fill="#B9B9B9"/><circle cx="191.49" cy="216.25" r="1.8" fill="#B9B9B9"/><circle cx="194.59" cy="216.25" r="1.8" fill="#B9B9B9"/><circle cx="197.69" cy="216.25" r="1.8" fill="#B9B9B9"/><circle cx="200.8" cy="216.25" r="1.8" fill="#B9B9B9"/><circle cx="203.9" cy="216.25" r="1.8" fill="#B9B9B9"/><circle cx="207.01" cy="216.25" r="1.8" fill="#B9B9B9"/><circle cx="210.12" cy="216.25" r="1.8" fill="#B9B9B9"/><circle cx="213.22" cy="216.25" r="1.8" fill="#B9B9B9"/><circle cx="216.32" cy="216.25" r="1.8" fill="#B9B9B9"/><circle cx="219.43" cy="216.25" r="1.8" fill="#B9B9B9"/><circle cx="222.53" cy="216.25" r="1.8" fill="#B9B9B9"/><circle cx="225.64" cy="216.25" r="1.8" fill="#B9B9B9"/><circle cx="228.75" cy="216.25" r="1.8" fill="#B9B9B9"/><circle cx="231.85" cy="216.25" r="1.8" fill="#B9B9B9"/><circle cx="234.95" cy="216.25" r="1.8" fill="#B9B9B9"/><circle cx="238.06" cy="216.25" r="1.8" fill="#B9B9B9"/></g></g>
<g id="LCASE36"><polyline points="45.5,195.4 48.7,140.2 51.8,125.7 54.9,147.4 58.0,154.1 61.1,145.6 64.2,138.3 67.3,136.4 70.4,132.9 73.5,138.5 76.6,133.7 79.7,136.8 82.8,137.3 85.9,139.6 89.0,142.0 92.1,144.0 95.2,142.0 98.3,146.3 101.4,145.7 104.5,147.2 107.7,148.3 110.8,147.8 113.9,148.1 117.0,153.0 120.1,153.1 123.2,156.4 126.3,157.1 129.4,159.7 132.5,162.5 135.6,164.3 138.7,165.9 141.8,165.1 144.9,169.2 148.0,173.6 151.1,173.7 154.2,176.5 157.3,182.1 160.4,186.3 163.5,189.0 166.6,192.1 169.8,193.8 172.9,197.6 176.0,199.6 179.1,201.9 182.2,202.9 185.3,203.7 188.4,216.2 191.5,216.2 194.6,216.2 197.7,216.2 200.8,216.2 203.9,216.2 207.0,216.2 210.1,216.2 213.2,216.2 216.3,216.2 219.4,216.2 222.5,216.2 225.6,216.2 228.7,216.2 231.9,216.2 235.0,216.2 238.1,216.2" fill="none" stroke="#FFD033" stroke-width="1.14" stroke-linejoin="round"/>
<g><path d="M43.75 195.42L47.35 195.42M45.55 193.62L45.55 197.22" stroke="#FFD033" stroke-width="0.8" fill="none"/><path d="M46.85 140.19L50.45 140.19M48.65 138.39L48.65 141.99" stroke="#FFD033" stroke-width="0.8" fill="none"/><path d="M49.96 125.7L53.56 125.7M51.76 123.9L51.76 127.5" stroke="#FFD033" stroke-width="0.8" fill="none"/><path d="M53.06 147.43L56.66 147.43M54.86 145.63L54.86 149.23" stroke="#FFD033" stroke-width="0.8" fill="none"/><path d="M56.17 154.11L59.77 154.11M57.97 152.31L57.97 155.91" stroke="#FFD033" stroke-width="0.8" fill="none"/><path d="M59.27 145.64L62.87 145.64M61.07 143.84L61.07 147.44" stroke="#FFD033" stroke-width="0.8" fill="none"/><path d="M62.38 138.28L65.98 138.28M64.18 136.48L64.18 140.08" stroke="#FFD033" stroke-width="0.8" fill="none"/><path d="M65.48 136.35L69.08 136.35M67.28 134.55L67.28 138.15" stroke="#FFD033" stroke-width="0.8" fill="none"/><path d="M68.59 132.9L72.19 132.9M70.39 131.1L70.39 134.7" stroke="#FFD033" stroke-width="0.8" fill="none"/><path d="M71.7 138.53L75.3 138.53M73.5 136.73L73.5 140.33" stroke="#FFD033" stroke-width="0.8" fill="none"/><path d="M74.8 133.75L78.4 133.75M76.6 131.95L76.6 135.55" stroke="#FFD033" stroke-width="0.8" fill="none"/><path d="M77.91 136.78L81.5 136.78M79.7 134.98L79.7 138.58" stroke="#FFD033" stroke-width="0.8" fill="none"/><path d="M81.01 137.28L84.61 137.28M82.81 135.48L82.81 139.08" stroke="#FFD033" stroke-width="0.8" fill="none"/><path d="M84.11 139.56L87.71 139.56M85.91 137.76L85.91 141.36" stroke="#FFD033" stroke-width="0.8" fill="none"/><path d="M87.22 142.03L90.82 142.03M89.02 140.23L89.02 143.83" stroke="#FFD033" stroke-width="0.8" fill="none"/><path d="M90.33 143.96L93.92 143.96M92.12 142.16L92.12 145.76" stroke="#FFD033" stroke-width="0.8" fill="none"/><path d="M93.43 141.96L97.03 141.96M95.23 140.16L95.23 143.76" stroke="#FFD033" stroke-width="0.8" fill="none"/><path d="M96.53 146.34L100.13 146.34M98.33 144.54L98.33 148.14" stroke="#FFD033" stroke-width="0.8" fill="none"/><path d="M99.64 145.74L103.24 145.74M101.44 143.94L101.44 147.54" stroke="#FFD033" stroke-width="0.8" fill="none"/><path d="M102.74 147.21L106.34 147.21M104.54 145.41L104.54 149.01" stroke="#FFD033" stroke-width="0.8" fill="none"/><path d="M105.85 148.31L109.45 148.31M107.65 146.51L107.65 150.11" stroke="#FFD033" stroke-width="0.8" fill="none"/><path d="M108.95 147.75L112.55 147.75M110.75 145.95L110.75 149.55" stroke="#FFD033" stroke-width="0.8" fill="none"/><path d="M112.06 148.08L115.66 148.08M113.86 146.28L113.86 149.88" stroke="#FFD033" stroke-width="0.8" fill="none"/><path d="M115.17 153L118.77 153M116.97 151.2L116.97 154.8" stroke="#FFD033" stroke-width="0.8" fill="none"/><path d="M118.27 153.09L121.87 153.09M120.07 151.29L120.07 154.89" stroke="#FFD033" stroke-width="0.8" fill="none"/><path d="M121.38 156.45L124.97 156.45M123.17 154.65L123.17 158.25" stroke="#FFD033" stroke-width="0.8" fill="none"/><path d="M124.48 157.15L128.08 157.15M126.28 155.35L126.28 158.95" stroke="#FFD033" stroke-width="0.8" fill="none"/><path d="M127.58 159.66L131.19 159.66M129.38 157.86L129.38 161.46" stroke="#FFD033" stroke-width="0.8" fill="none"/><path d="M130.69 162.46L134.29 162.46M132.49 160.66L132.49 164.26" stroke="#FFD033" stroke-width="0.8" fill="none"/><path d="M133.79 164.3L137.4 164.3M135.59 162.5L135.59 166.1" stroke="#FFD033" stroke-width="0.8" fill="none"/><path d="M136.9 165.91L140.5 165.91M138.7 164.11L138.7 167.71" stroke="#FFD033" stroke-width="0.8" fill="none"/><path d="M140 165.14L143.61 165.14M141.81 163.34L141.81 166.94" stroke="#FFD033" stroke-width="0.8" fill="none"/><path d="M143.11 169.18L146.71 169.18M144.91 167.38L144.91 170.98" stroke="#FFD033" stroke-width="0.8" fill="none"/><path d="M146.21 173.55L149.81 173.55M148.01 171.75L148.01 175.35" stroke="#FFD033" stroke-width="0.8" fill="none"/><path d="M149.32 173.74L152.92 173.74M151.12 171.94L151.12 175.54" stroke="#FFD033" stroke-width="0.8" fill="none"/><path d="M152.42 176.52L156.03 176.52M154.22 174.72L154.22 178.32" stroke="#FFD033" stroke-width="0.8" fill="none"/><path d="M155.53 182.06L159.13 182.06M157.33 180.26L157.33 183.86" stroke="#FFD033" stroke-width="0.8" fill="none"/><path d="M158.63 186.31L162.24 186.31M160.44 184.51L160.44 188.11" stroke="#FFD033" stroke-width="0.8" fill="none"/><path d="M161.74 188.97L165.34 188.97M163.54 187.17L163.54 190.77" stroke="#FFD033" stroke-width="0.8" fill="none"/><path d="M164.84 192.13L168.44 192.13M166.64 190.33L166.64 193.93" stroke="#FFD033" stroke-width="0.8" fill="none"/><path d="M167.95 193.76L171.55 193.76M169.75 191.96L169.75 195.56" stroke="#FFD033" stroke-width="0.8" fill="none"/><path d="M171.05 197.56L174.66 197.56M172.85 195.76L172.85 199.36" stroke="#FFD033" stroke-width="0.8" fill="none"/><path d="M174.16 199.64L177.76 199.64M175.96 197.84L175.96 201.44" stroke="#FFD033" stroke-width="0.8" fill="none"/><path d="M177.26 201.91L180.87 201.91M179.06 200.11L179.06 203.71" stroke="#FFD033" stroke-width="0.8" fill="none"/><path d="M180.37 202.91L183.97 202.91M182.17 201.11L182.17 204.71" stroke="#FFD033" stroke-width="0.8" fill="none"/><path d="M183.47 203.7L187.07 203.7M185.27 201.9L185.27 205.5" stroke="#FFD033" stroke-width="0.8" fill="none"/><path d="M186.58 216.25L190.18 216.25M188.38 214.45L188.38 218.05" stroke="#FFD033" stroke-width="0.8" fill="none"/><path d="M189.69 216.25L193.29 216.25M191.49 214.45L191.49 218.05" stroke="#FFD033" stroke-width="0.8" fill="none"/><path d="M192.79 216.25L196.39 216.25M194.59 214.45L194.59 218.05" stroke="#FFD033" stroke-width="0.8" fill="none"/><path d="M195.89 216.25L199.5 216.25M197.69 214.45L197.69 218.05" stroke="#FFD033" stroke-width="0.8" fill="none"/><path d="M199 216.25L202.6 216.25M200.8 214.45L200.8 218.05" stroke="#FFD033" stroke-width="0.8" fill="none"/><path d="M202.1 216.25L205.7 216.25M203.9 214.45L203.9 218.05" stroke="#FFD033" stroke-width="0.8" fill="none"/><path d="M205.21 216.25L208.81 216.25M207.01 214.45L207.01 218.05" stroke="#FFD033" stroke-width="0.8" fill="none"/><path d="M208.31 216.25L211.92 216.25M210.12 214.45L210.12 218.05" stroke="#FFD033" stroke-width="0.8" fill="none"/><path d="M211.42 216.25L215.02 216.25M213.22 214.45L213.22 218.05" stroke="#FFD033" stroke-width="0.8" fill="none"/><path d="M214.52 216.25L218.12 216.25M216.32 214.45L216.32 218.05" stroke="#FFD033" stroke-width="0.8" fill="none"/><path d="M217.63 216.25L221.23 216.25M219.43 214.45L219.43 218.05" stroke="#FFD033" stroke-width="0.8" fill="none"/><path d="M220.73 216.25L224.33 216.25M222.53 214.45L222.53 218.05" stroke="#FFD033" stroke-width="0.8" fill="none"/><path d="M223.84 216.25L227.44 216.25M225.64 214.45L225.64 218.05" stroke="#FFD033" stroke-width="0.8" fill="none"/><path d="M226.94 216.25L230.55 216.25M228.75 214.45L228.75 218.05" stroke="#FFD033" stroke-width="0.8" fill="none"/><path d="M230.05 216.25L233.65 216.25M231.85 214.45L231.85 218.05" stroke="#FFD033" stroke-width="0.8" fill="none"/><path d="M233.15 216.25L236.75 216.25M234.95 214.45L234.95 218.05" stroke="#FFD033" stroke-width="0.8" fill="none"/><path d="M236.26 216.25L239.86 216.25M238.06 214.45L238.06 218.05" stroke="#FFD033" stroke-width="0.8" fill="none"/></g></g>
<g id="LCASE37"><polyline points="45.5,201.8 48.7,161.9 51.8,152.9 54.9,156.5 58.0,160.7 61.1,162.7 64.2,164.3 67.3,162.6 70.4,166.5 73.5,167.7 76.6,166.2 79.7,161.5 82.8,159.6 85.9,161.8 89.0,161.8 92.1,162.4 95.2,167.0 98.3,169.2 101.4,171.5 104.5,171.6 107.7,172.5 110.8,173.3 113.9,175.1 117.0,176.0 120.1,179.3 123.2,179.8 126.3,181.6 129.4,181.4 132.5,183.2 135.6,183.9 138.7,183.7 141.8,185.5 144.9,186.1 148.0,188.5 151.1,190.2 154.2,192.7 157.3,194.8 160.4,196.1 163.5,199.4 166.6,201.4 169.8,201.3 172.9,205.0 176.0,204.7 179.1,206.1 182.2,209.1 185.3,208.0 188.4,216.2 191.5,216.2 194.6,216.2 197.7,216.2 200.8,216.2 203.9,216.2 207.0,216.2 210.1,216.2 213.2,216.2 216.3,216.2 219.4,216.2 222.5,216.2 225.6,216.2 228.7,216.2 231.9,216.2 235.0,216.2 238.1,216.2" fill="none" stroke="#4A8FDD" stroke-width="0.92" stroke-linejoin="round"/>
<g><path d="M43.87 201.76L47.23 201.76" stroke="#4A8FDD" stroke-width="1.2" fill="none"/><path d="M46.97 161.92L50.33 161.92" stroke="#4A8FDD" stroke-width="1.2" fill="none"/><path d="M50.08 152.87L53.44 152.87" stroke="#4A8FDD" stroke-width="1.2" fill="none"/><path d="M53.18 156.49L56.54 156.49" stroke="#4A8FDD" stroke-width="1.2" fill="none"/><path d="M56.29 160.74L59.65 160.74" stroke="#4A8FDD" stroke-width="1.2" fill="none"/><path d="M59.39 162.67L62.75 162.67" stroke="#4A8FDD" stroke-width="1.2" fill="none"/><path d="M62.5 164.33L65.86 164.33" stroke="#4A8FDD" stroke-width="1.2" fill="none"/><path d="M65.6 162.58L68.97 162.58" stroke="#4A8FDD" stroke-width="1.2" fill="none"/><path d="M68.71 166.54L72.07 166.54" stroke="#4A8FDD" stroke-width="1.2" fill="none"/><path d="M71.81 167.69L75.18 167.69" stroke="#4A8FDD" stroke-width="1.2" fill="none"/><path d="M74.92 166.23L78.28 166.23" stroke="#4A8FDD" stroke-width="1.2" fill="none"/><path d="M78.02 161.49L81.39 161.49" stroke="#4A8FDD" stroke-width="1.2" fill="none"/><path d="M81.13 159.65L84.49 159.65" stroke="#4A8FDD" stroke-width="1.2" fill="none"/><path d="M84.23 161.79L87.59 161.79" stroke="#4A8FDD" stroke-width="1.2" fill="none"/><path d="M87.34 161.76L90.7 161.76" stroke="#4A8FDD" stroke-width="1.2" fill="none"/><path d="M90.44 162.38L93.81 162.38" stroke="#4A8FDD" stroke-width="1.2" fill="none"/><path d="M93.55 167L96.91 167" stroke="#4A8FDD" stroke-width="1.2" fill="none"/><path d="M96.65 169.22L100.02 169.22" stroke="#4A8FDD" stroke-width="1.2" fill="none"/><path d="M99.76 171.52L103.12 171.52" stroke="#4A8FDD" stroke-width="1.2" fill="none"/><path d="M102.86 171.59L106.22 171.59" stroke="#4A8FDD" stroke-width="1.2" fill="none"/><path d="M105.97 172.5L109.33 172.5" stroke="#4A8FDD" stroke-width="1.2" fill="none"/><path d="M109.07 173.32L112.44 173.32" stroke="#4A8FDD" stroke-width="1.2" fill="none"/><path d="M112.18 175.1L115.54 175.1" stroke="#4A8FDD" stroke-width="1.2" fill="none"/><path d="M115.28 176.03L118.65 176.03" stroke="#4A8FDD" stroke-width="1.2" fill="none"/><path d="M118.39 179.29L121.75 179.29" stroke="#4A8FDD" stroke-width="1.2" fill="none"/><path d="M121.49 179.81L124.86 179.81" stroke="#4A8FDD" stroke-width="1.2" fill="none"/><path d="M124.6 181.58L127.96 181.58" stroke="#4A8FDD" stroke-width="1.2" fill="none"/><path d="M127.7 181.41L131.06 181.41" stroke="#4A8FDD" stroke-width="1.2" fill="none"/><path d="M130.81 183.17L134.17 183.17" stroke="#4A8FDD" stroke-width="1.2" fill="none"/><path d="M133.91 183.86L137.28 183.86" stroke="#4A8FDD" stroke-width="1.2" fill="none"/><path d="M137.02 183.68L140.38 183.68" stroke="#4A8FDD" stroke-width="1.2" fill="none"/><path d="M140.12 185.51L143.49 185.51" stroke="#4A8FDD" stroke-width="1.2" fill="none"/><path d="M143.23 186.12L146.59 186.12" stroke="#4A8FDD" stroke-width="1.2" fill="none"/><path d="M146.33 188.55L149.69 188.55" stroke="#4A8FDD" stroke-width="1.2" fill="none"/><path d="M149.44 190.17L152.8 190.17" stroke="#4A8FDD" stroke-width="1.2" fill="none"/><path d="M152.54 192.7L155.91 192.7" stroke="#4A8FDD" stroke-width="1.2" fill="none"/><path d="M155.65 194.8L159.01 194.8" stroke="#4A8FDD" stroke-width="1.2" fill="none"/><path d="M158.75 196.14L162.12 196.14" stroke="#4A8FDD" stroke-width="1.2" fill="none"/><path d="M161.86 199.37L165.22 199.37" stroke="#4A8FDD" stroke-width="1.2" fill="none"/><path d="M164.96 201.36L168.32 201.36" stroke="#4A8FDD" stroke-width="1.2" fill="none"/><path d="M168.07 201.26L171.43 201.26" stroke="#4A8FDD" stroke-width="1.2" fill="none"/><path d="M171.17 205.04L174.53 205.04" stroke="#4A8FDD" stroke-width="1.2" fill="none"/><path d="M174.28 204.73L177.64 204.73" stroke="#4A8FDD" stroke-width="1.2" fill="none"/><path d="M177.38 206.15L180.75 206.15" stroke="#4A8FDD" stroke-width="1.2" fill="none"/><path d="M180.49 209.06L183.85 209.06" stroke="#4A8FDD" stroke-width="1.2" fill="none"/><path d="M183.59 208.03L186.95 208.03" stroke="#4A8FDD" stroke-width="1.2" fill="none"/><path d="M186.7 216.25L190.06 216.25" stroke="#4A8FDD" stroke-width="1.2" fill="none"/><path d="M189.81 216.25L193.17 216.25" stroke="#4A8FDD" stroke-width="1.2" fill="none"/><path d="M192.91 216.25L196.27 216.25" stroke="#4A8FDD" stroke-width="1.2" fill="none"/><path d="M196.01 216.25L199.38 216.25" stroke="#4A8FDD" stroke-width="1.2" fill="none"/><path d="M199.12 216.25L202.48 216.25" stroke="#4A8FDD" stroke-width="1.2" fill="none"/><path d="M202.22 216.25L205.58 216.25" stroke="#4A8FDD" stroke-width="1.2" fill="none"/><path d="M205.33 216.25L208.69 216.25" stroke="#4A8FDD" stroke-width="1.2" fill="none"/><path d="M208.44 216.25L211.8 216.25" stroke="#4A8FDD" stroke-width="1.2" fill="none"/><path d="M211.54 216.25L214.9 216.25" stroke="#4A8FDD" stroke-width="1.2" fill="none"/><path d="M214.64 216.25L218 216.25" stroke="#4A8FDD" stroke-width="1.2" fill="none"/><path d="M217.75 216.25L221.11 216.25" stroke="#4A8FDD" stroke-width="1.2" fill="none"/><path d="M220.85 216.25L224.21 216.25" stroke="#4A8FDD" stroke-width="1.2" fill="none"/><path d="M223.96 216.25L227.32 216.25" stroke="#4A8FDD" stroke-width="1.2" fill="none"/><path d="M227.06 216.25L230.43 216.25" stroke="#4A8FDD" stroke-width="1.2" fill="none"/><path d="M230.17 216.25L233.53 216.25" stroke="#4A8FDD" stroke-width="1.2" fill="none"/><path d="M233.27 216.25L236.63 216.25" stroke="#4A8FDD" stroke-width="1.2" fill="none"/><path d="M236.38 216.25L239.74 216.25" stroke="#4A8FDD" stroke-width="1.2" fill="none"/></g></g>
<g id="LCASE38"><polyline points="45.5,193.6 48.7,136.6 51.8,122.1 54.9,142.0 58.0,147.6 61.1,146.4 64.2,142.1 67.3,139.4 70.4,134.9 73.5,133.1 76.6,134.3 79.7,133.8 82.8,134.1 85.9,134.8 89.0,134.1 92.1,137.7 95.2,137.3 98.3,138.9 101.4,139.9 104.5,141.5 107.7,143.4 110.8,146.2 113.9,148.1 117.0,149.7 120.1,150.0 123.2,154.4 126.3,155.8 129.4,155.4 132.5,158.9 135.6,161.2 138.7,163.1 141.8,163.5 144.9,166.5 148.0,167.4 151.1,171.0 154.2,174.0 157.3,180.0 160.4,183.8 163.5,186.9 166.6,188.4 169.8,190.5 172.9,194.3 176.0,198.0 179.1,199.9 182.2,201.7 185.3,203.8 188.4,216.2 191.5,216.2 194.6,216.2 197.7,216.2 200.8,216.2 203.9,216.2 207.0,216.2 210.1,216.2 213.2,216.2 216.3,216.2 219.4,216.2 222.5,216.2 225.6,216.2 228.7,216.2 231.9,216.2 235.0,216.2 238.1,216.2" fill="none" stroke="#7FCF6E" stroke-width="1.14" stroke-linejoin="round"/></g>
<g id="LCASE39"><polyline points="45.5,183.7 48.7,122.1 51.8,90.0 54.9,100.3 58.0,131.1 61.1,127.9 64.2,133.7 67.3,125.1 70.4,130.0 73.5,122.5 76.6,124.9 79.7,124.9 82.8,126.5 85.9,124.0 89.0,129.8 92.1,124.7 95.2,124.8 98.3,127.9 101.4,131.0 104.5,133.0 107.7,133.8 110.8,135.9 113.9,139.2 117.0,141.0 120.1,144.2 123.2,148.3 126.3,151.5 129.4,151.7 132.5,152.7 135.6,152.3 138.7,152.4 141.8,156.2 144.9,157.0 148.0,160.1 151.1,163.3 154.2,168.2 157.3,171.8 160.4,175.8 163.5,180.0 166.6,183.6 169.8,186.0 172.9,188.8 176.0,192.6 179.1,196.8 182.2,199.5 185.3,201.8 188.4,216.2 191.5,216.2 194.6,216.2 197.7,216.2 200.8,216.2 203.9,216.2 207.0,216.2 210.1,216.2 213.2,216.2 216.3,216.2 219.4,216.2 222.5,216.2 225.6,216.2 228.7,216.2 231.9,216.2 235.0,216.2 238.1,216.2" fill="none" stroke="#1C80D4" stroke-width="1.26" stroke-linejoin="round"/>
<g><path d="M45.55 181.6L47.6 183.65L45.55 185.7L43.5 183.65Z" fill="#1C80D4"/><path d="M48.65 120.03L50.7 122.08L48.65 124.13L46.6 122.08Z" fill="#1C80D4"/><path d="M51.76 87.98L53.81 90.03L51.76 92.08L49.71 90.03Z" fill="#1C80D4"/><path d="M54.86 98.3L56.91 100.35L54.86 102.4L52.81 100.35Z" fill="#1C80D4"/><path d="M57.97 129L60.02 131.05L57.97 133.1L55.92 131.05Z" fill="#1C80D4"/><path d="M61.07 125.89L63.12 127.94L61.07 129.99L59.02 127.94Z" fill="#1C80D4"/><path d="M64.18 131.66L66.23 133.71L64.18 135.76L62.13 133.71Z" fill="#1C80D4"/><path d="M67.28 123.08L69.33 125.13L67.28 127.18L65.23 125.13Z" fill="#1C80D4"/><path d="M70.39 127.97L72.44 130.02L70.39 132.07L68.34 130.02Z" fill="#1C80D4"/><path d="M73.5 120.42L75.55 122.47L73.5 124.52L71.45 122.47Z" fill="#1C80D4"/><path d="M76.6 122.81L78.65 124.86L76.6 126.91L74.55 124.86Z" fill="#1C80D4"/><path d="M79.7 122.87L81.75 124.92L79.7 126.97L77.66 124.92Z" fill="#1C80D4"/><path d="M82.81 124.46L84.86 126.51L82.81 128.56L80.76 126.51Z" fill="#1C80D4"/><path d="M85.91 121.94L87.96 123.99L85.91 126.04L83.86 123.99Z" fill="#1C80D4"/><path d="M89.02 127.77L91.07 129.82L89.02 131.87L86.97 129.82Z" fill="#1C80D4"/><path d="M92.12 122.64L94.17 124.69L92.12 126.74L90.08 124.69Z" fill="#1C80D4"/><path d="M95.23 122.75L97.28 124.8L95.23 126.85L93.18 124.8Z" fill="#1C80D4"/><path d="M98.33 125.87L100.38 127.92L98.33 129.97L96.28 127.92Z" fill="#1C80D4"/><path d="M101.44 128.97L103.49 131.02L101.44 133.07L99.39 131.02Z" fill="#1C80D4"/><path d="M104.54 130.92L106.59 132.97L104.54 135.02L102.49 132.97Z" fill="#1C80D4"/><path d="M107.65 131.79L109.7 133.84L107.65 135.89L105.6 133.84Z" fill="#1C80D4"/><path d="M110.75 133.82L112.8 135.87L110.75 137.92L108.7 135.87Z" fill="#1C80D4"/><path d="M113.86 137.12L115.91 139.17L113.86 141.22L111.81 139.17Z" fill="#1C80D4"/><path d="M116.97 138.99L119.02 141.04L116.97 143.09L114.92 141.04Z" fill="#1C80D4"/><path d="M120.07 142.18L122.12 144.23L120.07 146.28L118.02 144.23Z" fill="#1C80D4"/><path d="M123.17 146.3L125.22 148.35L123.17 150.4L121.12 148.35Z" fill="#1C80D4"/><path d="M126.28 149.47L128.33 151.52L126.28 153.57L124.23 151.52Z" fill="#1C80D4"/><path d="M129.38 149.65L131.44 151.7L129.38 153.75L127.33 151.7Z" fill="#1C80D4"/><path d="M132.49 150.61L134.54 152.66L132.49 154.71L130.44 152.66Z" fill="#1C80D4"/><path d="M135.59 150.26L137.65 152.31L135.59 154.36L133.54 152.31Z" fill="#1C80D4"/><path d="M138.7 150.4L140.75 152.45L138.7 154.5L136.65 152.45Z" fill="#1C80D4"/><path d="M141.81 154.14L143.86 156.19L141.81 158.24L139.75 156.19Z" fill="#1C80D4"/><path d="M144.91 154.98L146.96 157.03L144.91 159.08L142.86 157.03Z" fill="#1C80D4"/><path d="M148.01 158.01L150.06 160.06L148.01 162.11L145.96 160.06Z" fill="#1C80D4"/><path d="M151.12 161.27L153.17 163.32L151.12 165.37L149.07 163.32Z" fill="#1C80D4"/><path d="M154.22 166.15L156.28 168.2L154.22 170.25L152.17 168.2Z" fill="#1C80D4"/><path d="M157.33 169.74L159.38 171.79L157.33 173.84L155.28 171.79Z" fill="#1C80D4"/><path d="M160.44 173.79L162.49 175.84L160.44 177.89L158.38 175.84Z" fill="#1C80D4"/><path d="M163.54 177.95L165.59 180L163.54 182.05L161.49 180Z" fill="#1C80D4"/><path d="M166.64 181.55L168.69 183.6L166.64 185.65L164.59 183.6Z" fill="#1C80D4"/><path d="M169.75 183.96L171.8 186.01L169.75 188.06L167.7 186.01Z" fill="#1C80D4"/><path d="M172.85 186.78L174.91 188.83L172.85 190.88L170.8 188.83Z" fill="#1C80D4"/><path d="M175.96 190.58L178.01 192.63L175.96 194.68L173.91 192.63Z" fill="#1C80D4"/><path d="M179.06 194.79L181.12 196.84L179.06 198.89L177.01 196.84Z" fill="#1C80D4"/><path d="M182.17 197.46L184.22 199.51L182.17 201.56L180.12 199.51Z" fill="#1C80D4"/><path d="M185.27 199.75L187.32 201.8L185.27 203.85L183.22 201.8Z" fill="#1C80D4"/><path d="M188.38 214.2L190.43 216.25L188.38 218.3L186.33 216.25Z" fill="#1C80D4"/><path d="M191.49 214.2L193.54 216.25L191.49 218.3L189.44 216.25Z" fill="#1C80D4"/><path d="M194.59 214.2L196.64 216.25L194.59 218.3L192.54 216.25Z" fill="#1C80D4"/><path d="M197.69 214.2L199.75 216.25L197.69 218.3L195.64 216.25Z" fill="#1C80D4"/><path d="M200.8 214.2L202.85 216.25L200.8 218.3L198.75 216.25Z" fill="#1C80D4"/><path d="M203.9 214.2L205.95 216.25L203.9 218.3L201.85 216.25Z" fill="#1C80D4"/><path d="M207.01 214.2L209.06 216.25L207.01 218.3L204.96 216.25Z" fill="#1C80D4"/><path d="M210.12 214.2L212.17 216.25L210.12 218.3L208.06 216.25Z" fill="#1C80D4"/><path d="M213.22 214.2L215.27 216.25L213.22 218.3L211.17 216.25Z" fill="#1C80D4"/><path d="M216.32 214.2L218.38 216.25L216.32 218.3L214.27 216.25Z" fill="#1C80D4"/><path d="M219.43 214.2L221.48 216.25L219.43 218.3L217.38 216.25Z" fill="#1C80D4"/><path d="M222.53 214.2L224.58 216.25L222.53 218.3L220.48 216.25Z" fill="#1C80D4"/><path d="M225.64 214.2L227.69 216.25L225.64 218.3L223.59 216.25Z" fill="#1C80D4"/><path d="M228.75 214.2L230.8 216.25L228.75 218.3L226.69 216.25Z" fill="#1C80D4"/><path d="M231.85 214.2L233.9 216.25L231.85 218.3L229.8 216.25Z" fill="#1C80D4"/><path d="M234.95 214.2L237 216.25L234.95 218.3L232.9 216.25Z" fill="#1C80D4"/><path d="M238.06 214.2L240.11 216.25L238.06 218.3L236.01 216.25Z" fill="#1C80D4"/></g></g>
<g id="LCASE40"><polyline points="45.5,200.0 48.7,177.3 51.8,168.8 54.9,161.9 58.0,156.3 61.1,152.8 64.2,152.2 67.3,149.1 70.4,146.0 73.5,143.0 76.6,140.9 79.7,141.5 82.8,134.7 85.9,136.1 89.0,135.2 92.1,131.8 95.2,130.2 98.3,135.3 101.4,136.0 104.5,138.8 107.7,139.9 110.8,139.3 113.9,141.9 117.0,144.4 120.1,147.3 123.2,149.5 126.3,149.8 129.4,151.2 132.5,153.3 135.6,153.0 138.7,155.3 141.8,157.8 144.9,161.8 148.0,164.0 151.1,169.0 154.2,171.2 157.3,175.6 160.4,179.4 163.5,182.7 166.6,185.1 169.8,189.5 172.9,192.9 176.0,195.4 179.1,199.1 182.2,202.5 185.3,205.6 188.4,216.2 191.5,216.2 194.6,216.2 197.7,216.2 200.8,216.2 203.9,216.2 207.0,216.2 210.1,216.2 213.2,216.2 216.3,216.2 219.4,216.2 222.5,216.2 225.6,216.2 228.7,216.2 231.9,216.2 235.0,216.2 238.1,216.2" fill="none" stroke="#ED6B1E" stroke-width="1.32" stroke-linejoin="round"/>
<g><rect x="43.9" y="198.3" width="3.3" height="3.3" fill="#ED6B1E"/><rect x="47" y="175.66" width="3.3" height="3.3" fill="#ED6B1E"/><rect x="50.11" y="167.15" width="3.3" height="3.3" fill="#ED6B1E"/><rect x="53.21" y="160.27" width="3.3" height="3.3" fill="#ED6B1E"/><rect x="56.32" y="154.61" width="3.3" height="3.3" fill="#ED6B1E"/><rect x="59.42" y="151.19" width="3.3" height="3.3" fill="#ED6B1E"/><rect x="62.53" y="150.56" width="3.3" height="3.3" fill="#ED6B1E"/><rect x="65.63" y="147.44" width="3.3" height="3.3" fill="#ED6B1E"/><rect x="68.74" y="144.36" width="3.3" height="3.3" fill="#ED6B1E"/><rect x="71.84" y="141.31" width="3.3" height="3.3" fill="#ED6B1E"/><rect x="74.95" y="139.26" width="3.3" height="3.3" fill="#ED6B1E"/><rect x="78.05" y="139.87" width="3.3" height="3.3" fill="#ED6B1E"/><rect x="81.16" y="133.04" width="3.3" height="3.3" fill="#ED6B1E"/><rect x="84.26" y="134.41" width="3.3" height="3.3" fill="#ED6B1E"/><rect x="87.37" y="133.52" width="3.3" height="3.3" fill="#ED6B1E"/><rect x="90.47" y="130.16" width="3.3" height="3.3" fill="#ED6B1E"/><rect x="93.58" y="128.54" width="3.3" height="3.3" fill="#ED6B1E"/><rect x="96.68" y="133.63" width="3.3" height="3.3" fill="#ED6B1E"/><rect x="99.79" y="134.34" width="3.3" height="3.3" fill="#ED6B1E"/><rect x="102.89" y="137.17" width="3.3" height="3.3" fill="#ED6B1E"/><rect x="106" y="138.27" width="3.3" height="3.3" fill="#ED6B1E"/><rect x="109.1" y="137.6" width="3.3" height="3.3" fill="#ED6B1E"/><rect x="112.21" y="140.22" width="3.3" height="3.3" fill="#ED6B1E"/><rect x="115.31" y="142.71" width="3.3" height="3.3" fill="#ED6B1E"/><rect x="118.42" y="145.62" width="3.3" height="3.3" fill="#ED6B1E"/><rect x="121.52" y="147.85" width="3.3" height="3.3" fill="#ED6B1E"/><rect x="124.63" y="148.16" width="3.3" height="3.3" fill="#ED6B1E"/><rect x="127.73" y="149.54" width="3.3" height="3.3" fill="#ED6B1E"/><rect x="130.84" y="151.63" width="3.3" height="3.3" fill="#ED6B1E"/><rect x="133.94" y="151.33" width="3.3" height="3.3" fill="#ED6B1E"/><rect x="137.05" y="153.69" width="3.3" height="3.3" fill="#ED6B1E"/><rect x="140.16" y="156.1" width="3.3" height="3.3" fill="#ED6B1E"/><rect x="143.26" y="160.12" width="3.3" height="3.3" fill="#ED6B1E"/><rect x="146.36" y="162.34" width="3.3" height="3.3" fill="#ED6B1E"/><rect x="149.47" y="167.39" width="3.3" height="3.3" fill="#ED6B1E"/><rect x="152.57" y="169.58" width="3.3" height="3.3" fill="#ED6B1E"/><rect x="155.68" y="173.94" width="3.3" height="3.3" fill="#ED6B1E"/><rect x="158.78" y="177.77" width="3.3" height="3.3" fill="#ED6B1E"/><rect x="161.89" y="181" width="3.3" height="3.3" fill="#ED6B1E"/><rect x="164.99" y="183.49" width="3.3" height="3.3" fill="#ED6B1E"/><rect x="168.1" y="187.86" width="3.3" height="3.3" fill="#ED6B1E"/><rect x="171.2" y="191.28" width="3.3" height="3.3" fill="#ED6B1E"/><rect x="174.31" y="193.73" width="3.3" height="3.3" fill="#ED6B1E"/><rect x="177.41" y="197.42" width="3.3" height="3.3" fill="#ED6B1E"/><rect x="180.52" y="200.82" width="3.3" height="3.3" fill="#ED6B1E"/><rect x="183.62" y="203.99" width="3.3" height="3.3" fill="#ED6B1E"/><rect x="186.73" y="214.6" width="3.3" height="3.3" fill="#ED6B1E"/><rect x="189.84" y="214.6" width="3.3" height="3.3" fill="#ED6B1E"/><rect x="192.94" y="214.6" width="3.3" height="3.3" fill="#ED6B1E"/><rect x="196.04" y="214.6" width="3.3" height="3.3" fill="#ED6B1E"/><rect x="199.15" y="214.6" width="3.3" height="3.3" fill="#ED6B1E"/><rect x="202.25" y="214.6" width="3.3" height="3.3" fill="#ED6B1E"/><rect x="205.36" y="214.6" width="3.3" height="3.3" fill="#ED6B1E"/><rect x="208.47" y="214.6" width="3.3" height="3.3" fill="#ED6B1E"/><rect x="211.57" y="214.6" width="3.3" height="3.3" fill="#ED6B1E"/><rect x="214.67" y="214.6" width="3.3" height="3.3" fill="#ED6B1E"/><rect x="217.78" y="214.6" width="3.3" height="3.3" fill="#ED6B1E"/><rect x="220.88" y="214.6" width="3.3" height="3.3" fill="#ED6B1E"/><rect x="223.99" y="214.6" width="3.3" height="3.3" fill="#ED6B1E"/><rect x="227.09" y="214.6" width="3.3" height="3.3" fill="#ED6B1E"/><rect x="230.2" y="214.6" width="3.3" height="3.3" fill="#ED6B1E"/><rect x="233.3" y="214.6" width="3.3" height="3.3" fill="#ED6B1E"/><rect x="236.41" y="214.6" width="3.3" height="3.3" fill="#ED6B1E"/></g></g>
<g id="RCASE21"><polyline points="344.1,163.6 347.3,33.6 350.4,83.8 353.6,151.6 356.8,180.4 360.0,196.8 363.1,205.0 366.3,207.5 369.5,210.9 372.6,212.9 375.8,214.5 379.0,215.2 382.1,216.0 385.3,216.3 388.5,216.5 391.7,216.5 394.8,216.2 398.0,216.3 401.2,216.4 404.3,216.4 407.5,216.2 410.7,216.4 413.8,216.5 417.0,216.2 420.2,216.3 423.4,216.2 426.5,216.5 429.7,216.4 432.9,216.2 436.0,216.2 439.2,216.2 442.4,216.6 445.5,216.5 448.7,216.5 451.9,216.5 455.1,216.2 458.2,215.6 461.4,214.4 464.6,213.5 467.7,211.6 470.9,210.4 474.1,208.9 477.2,206.2 480.4,203.7 483.6,203.1 486.8,205.2 489.9,216.8 493.1,216.8 496.3,216.8 499.4,216.8 502.6,216.8 505.8,216.8 508.9,216.8 512.1,216.8 515.3,216.8 518.5,216.8 521.6,216.8 524.8,216.8 528.0,216.8 531.1,216.8 534.3,216.8 537.5,216.8 540.6,216.8" fill="none" stroke="#2E9BE6" stroke-width="1.14" stroke-linejoin="round"/>
<g><circle cx="344.1" cy="163.55" r="1.92" fill="#2E9BE6"/><circle cx="347.27" cy="33.59" r="1.92" fill="#2E9BE6"/><circle cx="350.44" cy="83.75" r="1.92" fill="#2E9BE6"/><circle cx="353.61" cy="151.58" r="1.92" fill="#2E9BE6"/><circle cx="356.78" cy="180.43" r="1.92" fill="#2E9BE6"/><circle cx="359.95" cy="196.83" r="1.92" fill="#2E9BE6"/><circle cx="363.12" cy="204.96" r="1.92" fill="#2E9BE6"/><circle cx="366.29" cy="207.51" r="1.92" fill="#2E9BE6"/><circle cx="369.46" cy="210.85" r="1.92" fill="#2E9BE6"/><circle cx="372.63" cy="212.89" r="1.92" fill="#2E9BE6"/><circle cx="375.8" cy="214.48" r="1.92" fill="#2E9BE6"/><circle cx="378.97" cy="215.16" r="1.92" fill="#2E9BE6"/><circle cx="382.14" cy="215.99" r="1.92" fill="#2E9BE6"/><circle cx="385.31" cy="216.3" r="1.92" fill="#2E9BE6"/><circle cx="388.48" cy="216.48" r="1.92" fill="#2E9BE6"/><circle cx="391.65" cy="216.52" r="1.92" fill="#2E9BE6"/><circle cx="394.82" cy="216.21" r="1.92" fill="#2E9BE6"/><circle cx="397.99" cy="216.34" r="1.92" fill="#2E9BE6"/><circle cx="401.16" cy="216.44" r="1.92" fill="#2E9BE6"/><circle cx="404.33" cy="216.41" r="1.92" fill="#2E9BE6"/><circle cx="407.5" cy="216.16" r="1.92" fill="#2E9BE6"/><circle cx="410.67" cy="216.37" r="1.92" fill="#2E9BE6"/><circle cx="413.84" cy="216.48" r="1.92" fill="#2E9BE6"/><circle cx="417.01" cy="216.24" r="1.92" fill="#2E9BE6"/><circle cx="420.18" cy="216.3" r="1.92" fill="#2E9BE6"/><circle cx="423.35" cy="216.16" r="1.92" fill="#2E9BE6"/><circle cx="426.52" cy="216.54" r="1.92" fill="#2E9BE6"/><circle cx="429.69" cy="216.38" r="1.92" fill="#2E9BE6"/><circle cx="432.86" cy="216.23" r="1.92" fill="#2E9BE6"/><circle cx="436.03" cy="216.23" r="1.92" fill="#2E9BE6"/><circle cx="439.2" cy="216.19" r="1.92" fill="#2E9BE6"/><circle cx="442.37" cy="216.57" r="1.92" fill="#2E9BE6"/><circle cx="445.54" cy="216.46" r="1.92" fill="#2E9BE6"/><circle cx="448.71" cy="216.53" r="1.92" fill="#2E9BE6"/><circle cx="451.88" cy="216.5" r="1.92" fill="#2E9BE6"/><circle cx="455.05" cy="216.17" r="1.92" fill="#2E9BE6"/><circle cx="458.22" cy="215.61" r="1.92" fill="#2E9BE6"/><circle cx="461.39" cy="214.37" r="1.92" fill="#2E9BE6"/><circle cx="464.56" cy="213.52" r="1.92" fill="#2E9BE6"/><circle cx="467.73" cy="211.64" r="1.92" fill="#2E9BE6"/><circle cx="470.9" cy="210.43" r="1.92" fill="#2E9BE6"/><circle cx="474.07" cy="208.92" r="1.92" fill="#2E9BE6"/><circle cx="477.24" cy="206.2" r="1.92" fill="#2E9BE6"/><circle cx="480.41" cy="203.73" r="1.92" fill="#2E9BE6"/><circle cx="483.58" cy="203.14" r="1.92" fill="#2E9BE6"/><circle cx="486.75" cy="205.18" r="1.92" fill="#2E9BE6"/><circle cx="489.92" cy="216.75" r="1.92" fill="#2E9BE6"/><circle cx="493.09" cy="216.75" r="1.92" fill="#2E9BE6"/><circle cx="496.26" cy="216.75" r="1.92" fill="#2E9BE6"/><circle cx="499.43" cy="216.75" r="1.92" fill="#2E9BE6"/><circle cx="502.6" cy="216.75" r="1.92" fill="#2E9BE6"/><circle cx="505.77" cy="216.75" r="1.92" fill="#2E9BE6"/><circle cx="508.94" cy="216.75" r="1.92" fill="#2E9BE6"/><circle cx="512.11" cy="216.75" r="1.92" fill="#2E9BE6"/><circle cx="515.28" cy="216.75" r="1.92" fill="#2E9BE6"/><circle cx="518.45" cy="216.75" r="1.92" fill="#2E9BE6"/><circle cx="521.62" cy="216.75" r="1.92" fill="#2E9BE6"/><circle cx="524.79" cy="216.75" r="1.92" fill="#2E9BE6"/><circle cx="527.96" cy="216.75" r="1.92" fill="#2E9BE6"/><circle cx="531.13" cy="216.75" r="1.92" fill="#2E9BE6"/><circle cx="534.3" cy="216.75" r="1.92" fill="#2E9BE6"/><circle cx="537.47" cy="216.75" r="1.92" fill="#2E9BE6"/><circle cx="540.64" cy="216.75" r="1.92" fill="#2E9BE6"/></g></g>
<g id="RCASE22"><polyline points="344.1,172.7 347.3,168.1 350.4,174.2 353.6,189.9 356.8,202.7 360.0,208.9 363.1,212.0 366.3,213.4 369.5,214.4 372.6,215.1 375.8,215.7 379.0,216.3 382.1,216.6 385.3,216.4 388.5,216.3 391.7,216.5 394.8,216.4 398.0,216.5 401.2,216.2 404.3,216.3 407.5,216.6 410.7,216.5 413.8,216.4 417.0,216.3 420.2,216.3 423.4,216.5 426.5,216.5 429.7,216.3 432.9,216.4 436.0,216.5 439.2,216.5 442.4,216.2 445.5,216.4 448.7,216.3 451.9,216.4 455.1,216.4 458.2,215.7 461.4,214.8 464.6,214.2 467.7,213.2 470.9,211.5 474.1,210.6 477.2,209.4 480.4,206.5 483.6,205.5 486.8,207.9 489.9,216.8 493.1,216.8 496.3,216.8 499.4,216.8 502.6,216.8 505.8,216.8 508.9,216.8 512.1,216.8 515.3,216.8 518.5,216.8 521.6,216.8 524.8,216.8 528.0,216.8 531.1,216.8 534.3,216.8 537.5,216.8 540.6,216.8" fill="none" stroke="#ED7D31" stroke-width="1.14" stroke-linejoin="round"/>
<g><rect x="342.4" y="170.97" width="3.4" height="3.4" fill="#ED7D31"/><rect x="345.57" y="166.41" width="3.4" height="3.4" fill="#ED7D31"/><rect x="348.74" y="172.49" width="3.4" height="3.4" fill="#ED7D31"/><rect x="351.91" y="188.18" width="3.4" height="3.4" fill="#ED7D31"/><rect x="355.08" y="201.02" width="3.4" height="3.4" fill="#ED7D31"/><rect x="358.25" y="207.18" width="3.4" height="3.4" fill="#ED7D31"/><rect x="361.42" y="210.26" width="3.4" height="3.4" fill="#ED7D31"/><rect x="364.59" y="211.69" width="3.4" height="3.4" fill="#ED7D31"/><rect x="367.76" y="212.69" width="3.4" height="3.4" fill="#ED7D31"/><rect x="370.93" y="213.43" width="3.4" height="3.4" fill="#ED7D31"/><rect x="374.1" y="214" width="3.4" height="3.4" fill="#ED7D31"/><rect x="377.27" y="214.58" width="3.4" height="3.4" fill="#ED7D31"/><rect x="380.44" y="214.88" width="3.4" height="3.4" fill="#ED7D31"/><rect x="383.61" y="214.74" width="3.4" height="3.4" fill="#ED7D31"/><rect x="386.78" y="214.59" width="3.4" height="3.4" fill="#ED7D31"/><rect x="389.95" y="214.8" width="3.4" height="3.4" fill="#ED7D31"/><rect x="393.12" y="214.75" width="3.4" height="3.4" fill="#ED7D31"/><rect x="396.29" y="214.8" width="3.4" height="3.4" fill="#ED7D31"/><rect x="399.46" y="214.54" width="3.4" height="3.4" fill="#ED7D31"/><rect x="402.63" y="214.65" width="3.4" height="3.4" fill="#ED7D31"/><rect x="405.8" y="214.86" width="3.4" height="3.4" fill="#ED7D31"/><rect x="408.97" y="214.84" width="3.4" height="3.4" fill="#ED7D31"/><rect x="412.14" y="214.71" width="3.4" height="3.4" fill="#ED7D31"/><rect x="415.31" y="214.65" width="3.4" height="3.4" fill="#ED7D31"/><rect x="418.48" y="214.61" width="3.4" height="3.4" fill="#ED7D31"/><rect x="421.65" y="214.84" width="3.4" height="3.4" fill="#ED7D31"/><rect x="424.82" y="214.81" width="3.4" height="3.4" fill="#ED7D31"/><rect x="427.99" y="214.59" width="3.4" height="3.4" fill="#ED7D31"/><rect x="431.16" y="214.71" width="3.4" height="3.4" fill="#ED7D31"/><rect x="434.33" y="214.76" width="3.4" height="3.4" fill="#ED7D31"/><rect x="437.5" y="214.75" width="3.4" height="3.4" fill="#ED7D31"/><rect x="440.67" y="214.48" width="3.4" height="3.4" fill="#ED7D31"/><rect x="443.84" y="214.75" width="3.4" height="3.4" fill="#ED7D31"/><rect x="447.01" y="214.64" width="3.4" height="3.4" fill="#ED7D31"/><rect x="450.18" y="214.73" width="3.4" height="3.4" fill="#ED7D31"/><rect x="453.35" y="214.71" width="3.4" height="3.4" fill="#ED7D31"/><rect x="456.52" y="214.01" width="3.4" height="3.4" fill="#ED7D31"/><rect x="459.69" y="213.1" width="3.4" height="3.4" fill="#ED7D31"/><rect x="462.86" y="212.51" width="3.4" height="3.4" fill="#ED7D31"/><rect x="466.03" y="211.54" width="3.4" height="3.4" fill="#ED7D31"/><rect x="469.2" y="209.79" width="3.4" height="3.4" fill="#ED7D31"/><rect x="472.37" y="208.95" width="3.4" height="3.4" fill="#ED7D31"/><rect x="475.54" y="207.73" width="3.4" height="3.4" fill="#ED7D31"/><rect x="478.71" y="204.8" width="3.4" height="3.4" fill="#ED7D31"/><rect x="481.88" y="203.78" width="3.4" height="3.4" fill="#ED7D31"/><rect x="485.05" y="206.25" width="3.4" height="3.4" fill="#ED7D31"/><rect x="488.22" y="215.05" width="3.4" height="3.4" fill="#ED7D31"/><rect x="491.39" y="215.05" width="3.4" height="3.4" fill="#ED7D31"/><rect x="494.56" y="215.05" width="3.4" height="3.4" fill="#ED7D31"/><rect x="497.73" y="215.05" width="3.4" height="3.4" fill="#ED7D31"/><rect x="500.9" y="215.05" width="3.4" height="3.4" fill="#ED7D31"/><rect x="504.07" y="215.05" width="3.4" height="3.4" fill="#ED7D31"/><rect x="507.24" y="215.05" width="3.4" height="3.4" fill="#ED7D31"/><rect x="510.41" y="215.05" width="3.4" height="3.4" fill="#ED7D31"/><rect x="513.58" y="215.05" width="3.4" height="3.4" fill="#ED7D31"/><rect x="516.75" y="215.05" width="3.4" height="3.4" fill="#ED7D31"/><rect x="519.92" y="215.05" width="3.4" height="3.4" fill="#ED7D31"/><rect x="523.09" y="215.05" width="3.4" height="3.4" fill="#ED7D31"/><rect x="526.26" y="215.05" width="3.4" height="3.4" fill="#ED7D31"/><rect x="529.43" y="215.05" width="3.4" height="3.4" fill="#ED7D31"/><rect x="532.6" y="215.05" width="3.4" height="3.4" fill="#ED7D31"/><rect x="535.77" y="215.05" width="3.4" height="3.4" fill="#ED7D31"/><rect x="538.94" y="215.05" width="3.4" height="3.4" fill="#ED7D31"/></g></g>
<g id="RCASE23"><polyline points="344.1,182.6 347.3,121.8 350.4,136.9 353.6,167.3 356.8,189.6 360.0,201.8 363.1,207.2 366.3,210.1 369.5,212.1 372.6,213.8 375.8,214.9 379.0,215.6 382.1,216.1 385.3,216.3 388.5,216.4 391.7,216.4 394.8,216.4 398.0,216.4 401.2,216.4 404.3,216.4 407.5,216.4 410.7,216.4 413.8,216.4 417.0,216.4 420.2,214.8 423.4,213.3 426.5,211.4 429.7,210.3 432.9,208.4 436.0,205.3 439.2,201.6 442.4,197.8 445.5,193.9 448.7,195.1 451.9,205.3 455.1,216.8 458.2,216.8 461.4,216.8 464.6,216.8 467.7,216.8 470.9,216.8 474.1,216.8 477.2,216.8 480.4,216.8 483.6,216.8 486.8,216.8 489.9,216.8 493.1,216.8 496.3,216.8 499.4,216.8 502.6,216.8 505.8,216.8 508.9,216.8 512.1,216.8 515.3,216.8 518.5,216.8 521.6,216.8 524.8,216.8 528.0,216.8 531.1,216.8 534.3,216.8 537.5,216.8 540.6,216.8" fill="none" stroke="#A5A5A5" stroke-width="1.0" stroke-linejoin="round"/>
<g><path d="M344.1 180.65L346 184.45L342.2 184.45Z" fill="#A5A5A5"/><path d="M347.27 119.85L349.17 123.65L345.37 123.65Z" fill="#A5A5A5"/><path d="M350.44 135.05L352.34 138.85L348.54 138.85Z" fill="#A5A5A5"/><path d="M353.61 165.45L355.51 169.25L351.71 169.25Z" fill="#A5A5A5"/><path d="M356.78 187.68L358.68 191.48L354.88 191.48Z" fill="#A5A5A5"/><path d="M359.95 199.91L361.85 203.71L358.05 203.71Z" fill="#A5A5A5"/><path d="M363.12 205.29L365.02 209.09L361.22 209.09Z" fill="#A5A5A5"/><path d="M366.29 208.16L368.19 211.96L364.39 211.96Z" fill="#A5A5A5"/><path d="M369.46 210.16L371.36 213.96L367.56 213.96Z" fill="#A5A5A5"/><path d="M372.63 211.94L374.53 215.74L370.73 215.74Z" fill="#A5A5A5"/><path d="M375.8 213.05L377.7 216.85L373.9 216.85Z" fill="#A5A5A5"/><path d="M378.97 213.73L380.87 217.53L377.07 217.53Z" fill="#A5A5A5"/><path d="M382.14 214.16L384.04 217.96L380.24 217.96Z" fill="#A5A5A5"/><path d="M385.31 214.42L387.21 218.22L383.41 218.22Z" fill="#A5A5A5"/><path d="M388.48 214.47L390.38 218.27L386.58 218.27Z" fill="#A5A5A5"/><path d="M391.65 214.47L393.55 218.27L389.75 218.27Z" fill="#A5A5A5"/><path d="M394.82 214.47L396.72 218.27L392.92 218.27Z" fill="#A5A5A5"/><path d="M397.99 214.47L399.89 218.27L396.09 218.27Z" fill="#A5A5A5"/><path d="M401.16 214.47L403.06 218.27L399.26 218.27Z" fill="#A5A5A5"/><path d="M404.33 214.47L406.23 218.27L402.43 218.27Z" fill="#A5A5A5"/><path d="M407.5 214.47L409.4 218.27L405.6 218.27Z" fill="#A5A5A5"/><path d="M410.67 214.47L412.57 218.27L408.77 218.27Z" fill="#A5A5A5"/><path d="M413.84 214.47L415.74 218.27L411.94 218.27Z" fill="#A5A5A5"/><path d="M417.01 214.47L418.91 218.27L415.11 218.27Z" fill="#A5A5A5"/><path d="M420.18 212.95L422.08 216.75L418.28 216.75Z" fill="#A5A5A5"/><path d="M423.35 211.43L425.25 215.23L421.45 215.23Z" fill="#A5A5A5"/><path d="M426.52 209.53L428.42 213.33L424.62 213.33Z" fill="#A5A5A5"/><path d="M429.69 208.39L431.59 212.19L427.79 212.19Z" fill="#A5A5A5"/><path d="M432.86 206.49L434.76 210.29L430.96 210.29Z" fill="#A5A5A5"/><path d="M436.03 203.45L437.93 207.25L434.13 207.25Z" fill="#A5A5A5"/><path d="M439.2 199.65L441.1 203.45L437.3 203.45Z" fill="#A5A5A5"/><path d="M442.37 195.85L444.27 199.65L440.47 199.65Z" fill="#A5A5A5"/><path d="M445.54 192.05L447.44 195.85L443.64 195.85Z" fill="#A5A5A5"/><path d="M448.71 193.19L450.61 196.99L446.81 196.99Z" fill="#A5A5A5"/><path d="M451.88 203.45L453.78 207.25L449.98 207.25Z" fill="#A5A5A5"/><path d="M455.05 214.85L456.95 218.65L453.15 218.65Z" fill="#A5A5A5"/><path d="M458.22 214.85L460.12 218.65L456.32 218.65Z" fill="#A5A5A5"/><path d="M461.39 214.85L463.29 218.65L459.49 218.65Z" fill="#A5A5A5"/><path d="M464.56 214.85L466.46 218.65L462.66 218.65Z" fill="#A5A5A5"/><path d="M467.73 214.85L469.63 218.65L465.83 218.65Z" fill="#A5A5A5"/><path d="M470.9 214.85L472.8 218.65L469 218.65Z" fill="#A5A5A5"/><path d="M474.07 214.85L475.97 218.65L472.17 218.65Z" fill="#A5A5A5"/><path d="M477.24 214.85L479.14 218.65L475.34 218.65Z" fill="#A5A5A5"/><path d="M480.41 214.85L482.31 218.65L478.51 218.65Z" fill="#A5A5A5"/><path d="M483.58 214.85L485.48 218.65L481.68 218.65Z" fill="#A5A5A5"/><path d="M486.75 214.85L488.65 218.65L484.85 218.65Z" fill="#A5A5A5"/><path d="M489.92 214.85L491.82 218.65L488.02 218.65Z" fill="#A5A5A5"/><path d="M493.09 214.85L494.99 218.65L491.19 218.65Z" fill="#A5A5A5"/><path d="M496.26 214.85L498.16 218.65L494.36 218.65Z" fill="#A5A5A5"/><path d="M499.43 214.85L501.33 218.65L497.53 218.65Z" fill="#A5A5A5"/><path d="M502.6 214.85L504.5 218.65L500.7 218.65Z" fill="#A5A5A5"/><path d="M505.77 214.85L507.67 218.65L503.87 218.65Z" fill="#A5A5A5"/><path d="M508.94 214.85L510.84 218.65L507.04 218.65Z" fill="#A5A5A5"/><path d="M512.11 214.85L514.01 218.65L510.21 218.65Z" fill="#A5A5A5"/><path d="M515.28 214.85L517.18 218.65L513.38 218.65Z" fill="#A5A5A5"/><path d="M518.45 214.85L520.35 218.65L516.55 218.65Z" fill="#A5A5A5"/><path d="M521.62 214.85L523.52 218.65L519.72 218.65Z" fill="#A5A5A5"/><path d="M524.79 214.85L526.69 218.65L522.89 218.65Z" fill="#A5A5A5"/><path d="M527.96 214.85L529.86 218.65L526.06 218.65Z" fill="#A5A5A5"/><path d="M531.13 214.85L533.03 218.65L529.23 218.65Z" fill="#A5A5A5"/><path d="M534.3 214.85L536.2 218.65L532.4 218.65Z" fill="#A5A5A5"/><path d="M537.47 214.85L539.37 218.65L535.57 218.65Z" fill="#A5A5A5"/><path d="M540.64 214.85L542.54 218.65L538.74 218.65Z" fill="#A5A5A5"/></g></g>
<g id="RCASE24"><polyline points="344.1,180.7 347.3,116.0 350.4,125.5 353.6,160.0 356.8,184.5 360.0,199.6 363.1,206.3 366.3,209.7 369.5,211.3 372.6,213.3 375.8,214.4 379.0,215.7 382.1,215.9 385.3,216.3 388.5,216.4 391.7,216.5 394.8,216.5 398.0,216.4 401.2,216.2 404.3,216.5 407.5,216.4 410.7,216.2 413.8,216.2 417.0,216.5 420.2,216.5 423.4,216.2 426.5,216.2 429.7,216.4 432.9,216.6 436.0,216.2 439.2,216.4 442.4,216.2 445.5,216.3 448.7,216.2 451.9,216.5 455.1,215.5 458.2,214.8 461.4,213.4 464.6,211.6 467.7,209.9 470.9,208.9 474.1,206.9 477.2,204.5 480.4,202.0 483.6,199.9 486.8,204.6 489.9,216.8 493.1,216.8 496.3,216.8 499.4,216.8 502.6,216.8 505.8,216.8 508.9,216.8 512.1,216.8 515.3,216.8 518.5,216.8 521.6,216.8 524.8,216.8 528.0,216.8 531.1,216.8 534.3,216.8 537.5,216.8 540.6,216.8" fill="none" stroke="#FFC000" stroke-width="1.14" stroke-linejoin="round"/>
<g><path d="M342.18 178.73L346.02 182.57M342.18 182.57L346.02 178.73" stroke="#FFC000" stroke-width="0.7" fill="none"/><path d="M345.35 114.13L349.19 117.97M345.35 117.97L349.19 114.13" stroke="#FFC000" stroke-width="0.7" fill="none"/><path d="M348.52 123.63L352.36 127.47M348.52 127.47L352.36 123.63" stroke="#FFC000" stroke-width="0.7" fill="none"/><path d="M351.69 158.04L355.53 161.88M351.69 161.88L355.53 158.04" stroke="#FFC000" stroke-width="0.7" fill="none"/><path d="M354.86 182.61L358.7 186.45M354.86 186.45L358.7 182.61" stroke="#FFC000" stroke-width="0.7" fill="none"/><path d="M358.03 197.68L361.87 201.52M358.03 201.52L361.87 197.68" stroke="#FFC000" stroke-width="0.7" fill="none"/><path d="M361.2 204.37L365.04 208.21M361.2 208.21L365.04 204.37" stroke="#FFC000" stroke-width="0.7" fill="none"/><path d="M364.37 207.74L368.21 211.58M364.37 211.58L368.21 207.74" stroke="#FFC000" stroke-width="0.7" fill="none"/><path d="M367.54 209.37L371.38 213.21M367.54 213.21L371.38 209.37" stroke="#FFC000" stroke-width="0.7" fill="none"/><path d="M370.71 211.37L374.55 215.21M370.71 215.21L374.55 211.37" stroke="#FFC000" stroke-width="0.7" fill="none"/><path d="M373.88 212.49L377.72 216.33M373.88 216.33L377.72 212.49" stroke="#FFC000" stroke-width="0.7" fill="none"/><path d="M377.05 213.76L380.89 217.6M377.05 217.6L380.89 213.76" stroke="#FFC000" stroke-width="0.7" fill="none"/><path d="M380.22 213.97L384.06 217.81M380.22 217.81L384.06 213.97" stroke="#FFC000" stroke-width="0.7" fill="none"/><path d="M383.39 214.39L387.23 218.23M383.39 218.23L387.23 214.39" stroke="#FFC000" stroke-width="0.7" fill="none"/><path d="M386.56 214.45L390.4 218.29M386.56 218.29L390.4 214.45" stroke="#FFC000" stroke-width="0.7" fill="none"/><path d="M389.73 214.6L393.57 218.44M389.73 218.44L393.57 214.6" stroke="#FFC000" stroke-width="0.7" fill="none"/><path d="M392.9 214.54L396.74 218.38M392.9 218.38L396.74 214.54" stroke="#FFC000" stroke-width="0.7" fill="none"/><path d="M396.07 214.44L399.91 218.28M396.07 218.28L399.91 214.44" stroke="#FFC000" stroke-width="0.7" fill="none"/><path d="M399.24 214.27L403.08 218.11M399.24 218.11L403.08 214.27" stroke="#FFC000" stroke-width="0.7" fill="none"/><path d="M402.41 214.62L406.25 218.46M402.41 218.46L406.25 214.62" stroke="#FFC000" stroke-width="0.7" fill="none"/><path d="M405.58 214.45L409.42 218.29M405.58 218.29L409.42 214.45" stroke="#FFC000" stroke-width="0.7" fill="none"/><path d="M408.75 214.32L412.59 218.16M408.75 218.16L412.59 214.32" stroke="#FFC000" stroke-width="0.7" fill="none"/><path d="M411.92 214.25L415.76 218.09M411.92 218.09L415.76 214.25" stroke="#FFC000" stroke-width="0.7" fill="none"/><path d="M415.09 214.58L418.93 218.42M415.09 218.42L418.93 214.58" stroke="#FFC000" stroke-width="0.7" fill="none"/><path d="M418.26 214.61L422.1 218.45M418.26 218.45L422.1 214.61" stroke="#FFC000" stroke-width="0.7" fill="none"/><path d="M421.43 214.26L425.27 218.1M421.43 218.1L425.27 214.26" stroke="#FFC000" stroke-width="0.7" fill="none"/><path d="M424.6 214.25L428.44 218.09M424.6 218.09L428.44 214.25" stroke="#FFC000" stroke-width="0.7" fill="none"/><path d="M427.77 214.46L431.61 218.3M427.77 218.3L431.61 214.46" stroke="#FFC000" stroke-width="0.7" fill="none"/><path d="M430.94 214.64L434.78 218.48M430.94 218.48L434.78 214.64" stroke="#FFC000" stroke-width="0.7" fill="none"/><path d="M434.11 214.27L437.95 218.11M434.11 218.11L437.95 214.27" stroke="#FFC000" stroke-width="0.7" fill="none"/><path d="M437.28 214.5L441.12 218.34M437.28 218.34L441.12 214.5" stroke="#FFC000" stroke-width="0.7" fill="none"/><path d="M440.45 214.28L444.29 218.12M440.45 218.12L444.29 214.28" stroke="#FFC000" stroke-width="0.7" fill="none"/><path d="M443.62 214.4L447.46 218.24M443.62 218.24L447.46 214.4" stroke="#FFC000" stroke-width="0.7" fill="none"/><path d="M446.79 214.31L450.63 218.15M446.79 218.15L450.63 214.31" stroke="#FFC000" stroke-width="0.7" fill="none"/><path d="M449.96 214.59L453.8 218.43M449.96 218.43L453.8 214.59" stroke="#FFC000" stroke-width="0.7" fill="none"/><path d="M453.13 213.57L456.97 217.41M453.13 217.41L456.97 213.57" stroke="#FFC000" stroke-width="0.7" fill="none"/><path d="M456.3 212.87L460.14 216.71M456.3 216.71L460.14 212.87" stroke="#FFC000" stroke-width="0.7" fill="none"/><path d="M459.47 211.52L463.31 215.36M459.47 215.36L463.31 211.52" stroke="#FFC000" stroke-width="0.7" fill="none"/><path d="M462.64 209.65L466.48 213.49M462.64 213.49L466.48 209.65" stroke="#FFC000" stroke-width="0.7" fill="none"/><path d="M465.81 207.97L469.65 211.81M465.81 211.81L469.65 207.97" stroke="#FFC000" stroke-width="0.7" fill="none"/><path d="M468.98 206.97L472.82 210.81M468.98 210.81L472.82 206.97" stroke="#FFC000" stroke-width="0.7" fill="none"/><path d="M472.15 205.01L475.99 208.85M472.15 208.85L475.99 205.01" stroke="#FFC000" stroke-width="0.7" fill="none"/><path d="M475.32 202.61L479.16 206.45M475.32 206.45L479.16 202.61" stroke="#FFC000" stroke-width="0.7" fill="none"/><path d="M478.49 200.11L482.33 203.95M478.49 203.95L482.33 200.11" stroke="#FFC000" stroke-width="0.7" fill="none"/><path d="M481.66 198L485.5 201.84M481.66 201.84L485.5 198" stroke="#FFC000" stroke-width="0.7" fill="none"/><path d="M484.83 202.64L488.67 206.48M484.83 206.48L488.67 202.64" stroke="#FFC000" stroke-width="0.7" fill="none"/><path d="M488 214.83L491.84 218.67M488 218.67L491.84 214.83" stroke="#FFC000" stroke-width="0.7" fill="none"/><path d="M491.17 214.83L495.01 218.67M491.17 218.67L495.01 214.83" stroke="#FFC000" stroke-width="0.7" fill="none"/><path d="M494.34 214.83L498.18 218.67M494.34 218.67L498.18 214.83" stroke="#FFC000" stroke-width="0.7" fill="none"/><path d="M497.51 214.83L501.35 218.67M497.51 218.67L501.35 214.83" stroke="#FFC000" stroke-width="0.7" fill="none"/><path d="M500.68 214.83L504.52 218.67M500.68 218.67L504.52 214.83" stroke="#FFC000" stroke-width="0.7" fill="none"/><path d="M503.85 214.83L507.69 218.67M503.85 218.67L507.69 214.83" stroke="#FFC000" stroke-width="0.7" fill="none"/><path d="M507.02 214.83L510.86 218.67M507.02 218.67L510.86 214.83" stroke="#FFC000" stroke-width="0.7" fill="none"/><path d="M510.19 214.83L514.03 218.67M510.19 218.67L514.03 214.83" stroke="#FFC000" stroke-width="0.7" fill="none"/><path d="M513.36 214.83L517.2 218.67M513.36 218.67L517.2 214.83" stroke="#FFC000" stroke-width="0.7" fill="none"/><path d="M516.53 214.83L520.37 218.67M516.53 218.67L520.37 214.83" stroke="#FFC000" stroke-width="0.7" fill="none"/><path d="M519.7 214.83L523.54 218.67M519.7 218.67L523.54 214.83" stroke="#FFC000" stroke-width="0.7" fill="none"/><path d="M522.87 214.83L526.71 218.67M522.87 218.67L526.71 214.83" stroke="#FFC000" stroke-width="0.7" fill="none"/><path d="M526.04 214.83L529.88 218.67M526.04 218.67L529.88 214.83" stroke="#FFC000" stroke-width="0.7" fill="none"/><path d="M529.21 214.83L533.05 218.67M529.21 218.67L533.05 214.83" stroke="#FFC000" stroke-width="0.7" fill="none"/><path d="M532.38 214.83L536.22 218.67M532.38 218.67L536.22 214.83" stroke="#FFC000" stroke-width="0.7" fill="none"/><path d="M535.55 214.83L539.39 218.67M535.55 218.67L539.39 214.83" stroke="#FFC000" stroke-width="0.7" fill="none"/><path d="M538.72 214.83L542.56 218.67M538.72 218.67L542.56 214.83" stroke="#FFC000" stroke-width="0.7" fill="none"/></g></g>
<g id="RCASE25"><polyline points="344.1,199.7 347.3,155.9 350.4,159.8 353.6,179.3 356.8,195.3 360.0,204.6 363.1,210.0 366.3,211.5 369.5,212.9 372.6,214.8 375.8,215.2 379.0,216.1 382.1,216.2 385.3,216.3 388.5,216.3 391.7,216.5 394.8,216.4 398.0,216.3 401.2,216.4 404.3,216.3 407.5,216.4 410.7,216.4 413.8,216.6 417.0,216.3 420.2,216.4 423.4,216.5 426.5,216.3 429.7,216.3 432.9,216.4 436.0,216.5 439.2,216.4 442.4,216.5 445.5,216.5 448.7,216.4 451.9,216.5 455.1,216.4 458.2,216.4 461.4,216.0 464.6,214.7 467.7,214.0 470.9,212.1 474.1,210.5 477.2,209.1 480.4,208.0 483.6,205.3 486.8,208.6 489.9,216.8 493.1,216.8 496.3,216.8 499.4,216.8 502.6,216.8 505.8,216.8 508.9,216.8 512.1,216.8 515.3,216.8 518.5,216.8 521.6,216.8 524.8,216.8 528.0,216.8 531.1,216.8 534.3,216.8 537.5,216.8 540.6,216.8" fill="none" stroke="#3C78D8" stroke-width="0.92" stroke-linejoin="round"/>
<g><path d="M342.18 197.73L346.02 201.57M342.18 201.57L346.02 197.73M344.1 197.73L344.1 201.57" stroke="#3C78D8" stroke-width="0.7" fill="none"/><path d="M345.35 154.03L349.19 157.87M345.35 157.87L349.19 154.03M347.27 154.03L347.27 157.87" stroke="#3C78D8" stroke-width="0.7" fill="none"/><path d="M348.52 157.83L352.36 161.67M348.52 161.67L352.36 157.83M350.44 157.83L350.44 161.67" stroke="#3C78D8" stroke-width="0.7" fill="none"/><path d="M351.69 177.41L355.53 181.25M351.69 181.25L355.53 177.41M353.61 177.41L353.61 181.25" stroke="#3C78D8" stroke-width="0.7" fill="none"/><path d="M354.86 193.42L358.7 197.26M354.86 197.26L358.7 193.42M356.78 193.42L356.78 197.26" stroke="#3C78D8" stroke-width="0.7" fill="none"/><path d="M358.03 202.64L361.87 206.48M358.03 206.48L361.87 202.64M359.95 202.64L359.95 206.48" stroke="#3C78D8" stroke-width="0.7" fill="none"/><path d="M361.2 208.05L365.04 211.89M361.2 211.89L365.04 208.05M363.12 208.05L363.12 211.89" stroke="#3C78D8" stroke-width="0.7" fill="none"/><path d="M364.37 209.62L368.21 213.46M364.37 213.46L368.21 209.62M366.29 209.62L366.29 213.46" stroke="#3C78D8" stroke-width="0.7" fill="none"/><path d="M367.54 211.02L371.38 214.86M367.54 214.86L371.38 211.02M369.46 211.02L369.46 214.86" stroke="#3C78D8" stroke-width="0.7" fill="none"/><path d="M370.71 212.89L374.55 216.73M370.71 216.73L374.55 212.89M372.63 212.89L372.63 216.73" stroke="#3C78D8" stroke-width="0.7" fill="none"/><path d="M373.88 213.26L377.72 217.1M373.88 217.1L377.72 213.26M375.8 213.26L375.8 217.1" stroke="#3C78D8" stroke-width="0.7" fill="none"/><path d="M377.05 214.16L380.89 218M377.05 218L380.89 214.16M378.97 214.16L378.97 218" stroke="#3C78D8" stroke-width="0.7" fill="none"/><path d="M380.22 214.25L384.06 218.09M380.22 218.09L384.06 214.25M382.14 214.25L382.14 218.09" stroke="#3C78D8" stroke-width="0.7" fill="none"/><path d="M383.39 214.43L387.23 218.27M383.39 218.27L387.23 214.43M385.31 214.43L385.31 218.27" stroke="#3C78D8" stroke-width="0.7" fill="none"/><path d="M386.56 214.4L390.4 218.24M386.56 218.24L390.4 214.4M388.48 214.4L388.48 218.24" stroke="#3C78D8" stroke-width="0.7" fill="none"/><path d="M389.73 214.53L393.57 218.37M389.73 218.37L393.57 214.53M391.65 214.53L391.65 218.37" stroke="#3C78D8" stroke-width="0.7" fill="none"/><path d="M392.9 214.48L396.74 218.32M392.9 218.32L396.74 214.48M394.82 214.48L394.82 218.32" stroke="#3C78D8" stroke-width="0.7" fill="none"/><path d="M396.07 214.41L399.91 218.25M396.07 218.25L399.91 214.41M397.99 214.41L397.99 218.25" stroke="#3C78D8" stroke-width="0.7" fill="none"/><path d="M399.24 214.48L403.08 218.32M399.24 218.32L403.08 214.48M401.16 214.48L401.16 218.32" stroke="#3C78D8" stroke-width="0.7" fill="none"/><path d="M402.41 214.38L406.25 218.22M402.41 218.22L406.25 214.38M404.33 214.38L404.33 218.22" stroke="#3C78D8" stroke-width="0.7" fill="none"/><path d="M405.58 214.47L409.42 218.31M405.58 218.31L409.42 214.47M407.5 214.47L407.5 218.31" stroke="#3C78D8" stroke-width="0.7" fill="none"/><path d="M408.75 214.48L412.59 218.32M408.75 218.32L412.59 214.48M410.67 214.48L410.67 218.32" stroke="#3C78D8" stroke-width="0.7" fill="none"/><path d="M411.92 214.65L415.76 218.49M411.92 218.49L415.76 214.65M413.84 214.65L413.84 218.49" stroke="#3C78D8" stroke-width="0.7" fill="none"/><path d="M415.09 214.4L418.93 218.24M415.09 218.24L418.93 214.4M417.01 214.4L417.01 218.24" stroke="#3C78D8" stroke-width="0.7" fill="none"/><path d="M418.26 214.45L422.1 218.29M418.26 218.29L422.1 214.45M420.18 214.45L420.18 218.29" stroke="#3C78D8" stroke-width="0.7" fill="none"/><path d="M421.43 214.56L425.27 218.4M421.43 218.4L425.27 214.56M423.35 214.56L423.35 218.4" stroke="#3C78D8" stroke-width="0.7" fill="none"/><path d="M424.6 214.34L428.44 218.18M424.6 218.18L428.44 214.34M426.52 214.34L426.52 218.18" stroke="#3C78D8" stroke-width="0.7" fill="none"/><path d="M427.77 214.33L431.61 218.17M427.77 218.17L431.61 214.33M429.69 214.33L429.69 218.17" stroke="#3C78D8" stroke-width="0.7" fill="none"/><path d="M430.94 214.47L434.78 218.31M430.94 218.31L434.78 214.47M432.86 214.47L432.86 218.31" stroke="#3C78D8" stroke-width="0.7" fill="none"/><path d="M434.11 214.59L437.95 218.43M434.11 218.43L437.95 214.59M436.03 214.59L436.03 218.43" stroke="#3C78D8" stroke-width="0.7" fill="none"/><path d="M437.28 214.46L441.12 218.3M437.28 218.3L441.12 214.46M439.2 214.46L439.2 218.3" stroke="#3C78D8" stroke-width="0.7" fill="none"/><path d="M440.45 214.62L444.29 218.46M440.45 218.46L444.29 214.62M442.37 214.62L442.37 218.46" stroke="#3C78D8" stroke-width="0.7" fill="none"/><path d="M443.62 214.61L447.46 218.45M443.62 218.45L447.46 214.61M445.54 214.61L445.54 218.45" stroke="#3C78D8" stroke-width="0.7" fill="none"/><path d="M446.79 214.48L450.63 218.32M446.79 218.32L450.63 214.48M448.71 214.48L448.71 218.32" stroke="#3C78D8" stroke-width="0.7" fill="none"/><path d="M449.96 214.62L453.8 218.46M449.96 218.46L453.8 214.62M451.88 214.62L451.88 218.46" stroke="#3C78D8" stroke-width="0.7" fill="none"/><path d="M453.13 214.47L456.97 218.31M453.13 218.31L456.97 214.47M455.05 214.47L455.05 218.31" stroke="#3C78D8" stroke-width="0.7" fill="none"/><path d="M456.3 214.45L460.14 218.29M456.3 218.29L460.14 214.45M458.22 214.45L458.22 218.29" stroke="#3C78D8" stroke-width="0.7" fill="none"/><path d="M459.47 214.03L463.31 217.87M459.47 217.87L463.31 214.03M461.39 214.03L461.39 217.87" stroke="#3C78D8" stroke-width="0.7" fill="none"/><path d="M462.64 212.78L466.48 216.62M462.64 216.62L466.48 212.78M464.56 212.78L464.56 216.62" stroke="#3C78D8" stroke-width="0.7" fill="none"/><path d="M465.81 212.03L469.65 215.87M465.81 215.87L469.65 212.03M467.73 212.03L467.73 215.87" stroke="#3C78D8" stroke-width="0.7" fill="none"/><path d="M468.98 210.17L472.82 214.01M468.98 214.01L472.82 210.17M470.9 210.17L470.9 214.01" stroke="#3C78D8" stroke-width="0.7" fill="none"/><path d="M472.15 208.57L475.99 212.41M472.15 212.41L475.99 208.57M474.07 208.57L474.07 212.41" stroke="#3C78D8" stroke-width="0.7" fill="none"/><path d="M475.32 207.19L479.16 211.03M475.32 211.03L479.16 207.19M477.24 207.19L477.24 211.03" stroke="#3C78D8" stroke-width="0.7" fill="none"/><path d="M478.49 206.06L482.33 209.9M478.49 209.9L482.33 206.06M480.41 206.06L480.41 209.9" stroke="#3C78D8" stroke-width="0.7" fill="none"/><path d="M481.66 203.42L485.5 207.26M481.66 207.26L485.5 203.42M483.58 203.42L483.58 207.26" stroke="#3C78D8" stroke-width="0.7" fill="none"/><path d="M484.83 206.64L488.67 210.48M484.83 210.48L488.67 206.64M486.75 206.64L486.75 210.48" stroke="#3C78D8" stroke-width="0.7" fill="none"/><path d="M488 214.83L491.84 218.67M488 218.67L491.84 214.83M489.92 214.83L489.92 218.67" stroke="#3C78D8" stroke-width="0.7" fill="none"/><path d="M491.17 214.83L495.01 218.67M491.17 218.67L495.01 214.83M493.09 214.83L493.09 218.67" stroke="#3C78D8" stroke-width="0.7" fill="none"/><path d="M494.34 214.83L498.18 218.67M494.34 218.67L498.18 214.83M496.26 214.83L496.26 218.67" stroke="#3C78D8" stroke-width="0.7" fill="none"/><path d="M497.51 214.83L501.35 218.67M497.51 218.67L501.35 214.83M499.43 214.83L499.43 218.67" stroke="#3C78D8" stroke-width="0.7" fill="none"/><path d="M500.68 214.83L504.52 218.67M500.68 218.67L504.52 214.83M502.6 214.83L502.6 218.67" stroke="#3C78D8" stroke-width="0.7" fill="none"/><path d="M503.85 214.83L507.69 218.67M503.85 218.67L507.69 214.83M505.77 214.83L505.77 218.67" stroke="#3C78D8" stroke-width="0.7" fill="none"/><path d="M507.02 214.83L510.86 218.67M507.02 218.67L510.86 214.83M508.94 214.83L508.94 218.67" stroke="#3C78D8" stroke-width="0.7" fill="none"/><path d="M510.19 214.83L514.03 218.67M510.19 218.67L514.03 214.83M512.11 214.83L512.11 218.67" stroke="#3C78D8" stroke-width="0.7" fill="none"/><path d="M513.36 214.83L517.2 218.67M513.36 218.67L517.2 214.83M515.28 214.83L515.28 218.67" stroke="#3C78D8" stroke-width="0.7" fill="none"/><path d="M516.53 214.83L520.37 218.67M516.53 218.67L520.37 214.83M518.45 214.83L518.45 218.67" stroke="#3C78D8" stroke-width="0.7" fill="none"/><path d="M519.7 214.83L523.54 218.67M519.7 218.67L523.54 214.83M521.62 214.83L521.62 218.67" stroke="#3C78D8" stroke-width="0.7" fill="none"/><path d="M522.87 214.83L526.71 218.67M522.87 218.67L526.71 214.83M524.79 214.83L524.79 218.67" stroke="#3C78D8" stroke-width="0.7" fill="none"/><path d="M526.04 214.83L529.88 218.67M526.04 218.67L529.88 214.83M527.96 214.83L527.96 218.67" stroke="#3C78D8" stroke-width="0.7" fill="none"/><path d="M529.21 214.83L533.05 218.67M529.21 218.67L533.05 214.83M531.13 214.83L531.13 218.67" stroke="#3C78D8" stroke-width="0.7" fill="none"/><path d="M532.38 214.83L536.22 218.67M532.38 218.67L536.22 214.83M534.3 214.83L534.3 218.67" stroke="#3C78D8" stroke-width="0.7" fill="none"/><path d="M535.55 214.83L539.39 218.67M535.55 218.67L539.39 214.83M537.47 214.83L537.47 218.67" stroke="#3C78D8" stroke-width="0.7" fill="none"/><path d="M538.72 214.83L542.56 218.67M538.72 218.67L542.56 214.83M540.64 214.83L540.64 218.67" stroke="#3C78D8" stroke-width="0.7" fill="none"/></g></g>
<g id="RCASE26"><polyline points="344.1,171.2 347.3,87.6 350.4,108.5 353.6,151.1 356.8,182.0 360.0,196.4 363.1,203.3 366.3,207.7 369.5,210.3 372.6,213.2 375.8,214.1 379.0,215.3 382.1,215.6 385.3,216.0 388.5,216.5 391.7,216.2 394.8,216.2 398.0,216.6 401.2,216.4 404.3,216.3 407.5,216.5 410.7,216.2 413.8,216.5 417.0,216.2 420.2,216.5 423.4,216.4 426.5,216.2 429.7,216.5 432.9,216.5 436.0,216.4 439.2,216.4 442.4,216.6 445.5,216.5 448.7,216.5 451.9,216.2 455.1,215.7 458.2,214.6 461.4,214.0 464.6,212.2 467.7,211.4 470.9,209.3 474.1,207.4 477.2,206.0 480.4,203.0 483.6,201.4 486.8,205.2 489.9,216.8 493.1,216.8 496.3,216.8 499.4,216.8 502.6,216.8 505.8,216.8 508.9,216.8 512.1,216.8 515.3,216.8 518.5,216.8 521.6,216.8 524.8,216.8 528.0,216.8 531.1,216.8 534.3,216.8 537.5,216.8 540.6,216.8" fill="none" stroke="#4CAF3C" stroke-width="1.14" stroke-linejoin="round"/>
<g><circle cx="344.1" cy="171.15" r="1.92" fill="#4CAF3C"/><circle cx="347.27" cy="87.55" r="1.92" fill="#4CAF3C"/><circle cx="350.44" cy="108.45" r="1.92" fill="#4CAF3C"/><circle cx="353.61" cy="151.12" r="1.92" fill="#4CAF3C"/><circle cx="356.78" cy="182.05" r="1.92" fill="#4CAF3C"/><circle cx="359.95" cy="196.39" r="1.92" fill="#4CAF3C"/><circle cx="363.12" cy="203.31" r="1.92" fill="#4CAF3C"/><circle cx="366.29" cy="207.66" r="1.92" fill="#4CAF3C"/><circle cx="369.46" cy="210.27" r="1.92" fill="#4CAF3C"/><circle cx="372.63" cy="213.21" r="1.92" fill="#4CAF3C"/><circle cx="375.8" cy="214.08" r="1.92" fill="#4CAF3C"/><circle cx="378.97" cy="215.29" r="1.92" fill="#4CAF3C"/><circle cx="382.14" cy="215.62" r="1.92" fill="#4CAF3C"/><circle cx="385.31" cy="216" r="1.92" fill="#4CAF3C"/><circle cx="388.48" cy="216.51" r="1.92" fill="#4CAF3C"/><circle cx="391.65" cy="216.25" r="1.92" fill="#4CAF3C"/><circle cx="394.82" cy="216.19" r="1.92" fill="#4CAF3C"/><circle cx="397.99" cy="216.55" r="1.92" fill="#4CAF3C"/><circle cx="401.16" cy="216.43" r="1.92" fill="#4CAF3C"/><circle cx="404.33" cy="216.26" r="1.92" fill="#4CAF3C"/><circle cx="407.5" cy="216.52" r="1.92" fill="#4CAF3C"/><circle cx="410.67" cy="216.2" r="1.92" fill="#4CAF3C"/><circle cx="413.84" cy="216.47" r="1.92" fill="#4CAF3C"/><circle cx="417.01" cy="216.24" r="1.92" fill="#4CAF3C"/><circle cx="420.18" cy="216.52" r="1.92" fill="#4CAF3C"/><circle cx="423.35" cy="216.37" r="1.92" fill="#4CAF3C"/><circle cx="426.52" cy="216.19" r="1.92" fill="#4CAF3C"/><circle cx="429.69" cy="216.49" r="1.92" fill="#4CAF3C"/><circle cx="432.86" cy="216.47" r="1.92" fill="#4CAF3C"/><circle cx="436.03" cy="216.37" r="1.92" fill="#4CAF3C"/><circle cx="439.2" cy="216.45" r="1.92" fill="#4CAF3C"/><circle cx="442.37" cy="216.57" r="1.92" fill="#4CAF3C"/><circle cx="445.54" cy="216.51" r="1.92" fill="#4CAF3C"/><circle cx="448.71" cy="216.51" r="1.92" fill="#4CAF3C"/><circle cx="451.88" cy="216.18" r="1.92" fill="#4CAF3C"/><circle cx="455.05" cy="215.67" r="1.92" fill="#4CAF3C"/><circle cx="458.22" cy="214.61" r="1.92" fill="#4CAF3C"/><circle cx="461.39" cy="213.98" r="1.92" fill="#4CAF3C"/><circle cx="464.56" cy="212.19" r="1.92" fill="#4CAF3C"/><circle cx="467.73" cy="211.4" r="1.92" fill="#4CAF3C"/><circle cx="470.9" cy="209.34" r="1.92" fill="#4CAF3C"/><circle cx="474.07" cy="207.42" r="1.92" fill="#4CAF3C"/><circle cx="477.24" cy="205.96" r="1.92" fill="#4CAF3C"/><circle cx="480.41" cy="202.97" r="1.92" fill="#4CAF3C"/><circle cx="483.58" cy="201.43" r="1.92" fill="#4CAF3C"/><circle cx="486.75" cy="205.21" r="1.92" fill="#4CAF3C"/><circle cx="489.92" cy="216.75" r="1.92" fill="#4CAF3C"/><circle cx="493.09" cy="216.75" r="1.92" fill="#4CAF3C"/><circle cx="496.26" cy="216.75" r="1.92" fill="#4CAF3C"/><circle cx="499.43" cy="216.75" r="1.92" fill="#4CAF3C"/><circle cx="502.6" cy="216.75" r="1.92" fill="#4CAF3C"/><circle cx="505.77" cy="216.75" r="1.92" fill="#4CAF3C"/><circle cx="508.94" cy="216.75" r="1.92" fill="#4CAF3C"/><circle cx="512.11" cy="216.75" r="1.92" fill="#4CAF3C"/><circle cx="515.28" cy="216.75" r="1.92" fill="#4CAF3C"/><circle cx="518.45" cy="216.75" r="1.92" fill="#4CAF3C"/><circle cx="521.62" cy="216.75" r="1.92" fill="#4CAF3C"/><circle cx="524.79" cy="216.75" r="1.92" fill="#4CAF3C"/><circle cx="527.96" cy="216.75" r="1.92" fill="#4CAF3C"/><circle cx="531.13" cy="216.75" r="1.92" fill="#4CAF3C"/><circle cx="534.3" cy="216.75" r="1.92" fill="#4CAF3C"/><circle cx="537.47" cy="216.75" r="1.92" fill="#4CAF3C"/><circle cx="540.64" cy="216.75" r="1.92" fill="#4CAF3C"/></g></g>
<g id="RCASE27"><polyline points="344.1,167.3 347.3,94.4 350.4,95.9 353.6,145.6 356.8,179.0 360.0,194.4 363.1,202.9 366.3,207.4 369.5,209.7 372.6,212.8 375.8,213.8 379.0,215.1 382.1,215.8 385.3,216.0 388.5,216.4 391.7,216.5 394.8,216.3 398.0,216.6 401.2,216.2 404.3,216.5 407.5,216.3 410.7,216.2 413.8,216.3 417.0,216.3 420.2,216.4 423.4,216.6 426.5,216.6 429.7,216.5 432.9,216.3 436.0,216.4 439.2,216.4 442.4,216.2 445.5,216.5 448.7,216.5 451.9,216.3 455.1,215.8 458.2,214.7 461.4,213.1 464.6,211.8 467.7,209.7 470.9,207.9 474.1,205.2 477.2,202.8 480.4,201.1 483.6,197.5 486.8,201.6 489.9,216.8 493.1,216.8 496.3,216.8 499.4,216.8 502.6,216.8 505.8,216.8 508.9,216.8 512.1,216.8 515.3,216.8 518.5,216.8 521.6,216.8 524.8,216.8 528.0,216.8 531.1,216.8 534.3,216.8 537.5,216.8 540.6,216.8" fill="none" stroke="#2F8BD0" stroke-width="1.14" stroke-linejoin="round"/>
<g><path d="M342.18 167.35L346.02 167.35M344.1 165.43L344.1 169.27" stroke="#2F8BD0" stroke-width="0.8" fill="none"/><path d="M345.35 94.39L349.19 94.39M347.27 92.47L347.27 96.31" stroke="#2F8BD0" stroke-width="0.8" fill="none"/><path d="M348.52 95.91L352.36 95.91M350.44 93.99L350.44 97.83" stroke="#2F8BD0" stroke-width="0.8" fill="none"/><path d="M351.69 145.58L355.53 145.58M353.61 143.66L353.61 147.5" stroke="#2F8BD0" stroke-width="0.8" fill="none"/><path d="M354.86 178.99L358.7 178.99M356.78 177.07L356.78 180.91" stroke="#2F8BD0" stroke-width="0.8" fill="none"/><path d="M358.03 194.36L361.87 194.36M359.95 192.44L359.95 196.28" stroke="#2F8BD0" stroke-width="0.8" fill="none"/><path d="M361.2 202.88L365.04 202.88M363.12 200.96L363.12 204.8" stroke="#2F8BD0" stroke-width="0.8" fill="none"/><path d="M364.37 207.38L368.21 207.38M366.29 205.46L366.29 209.3" stroke="#2F8BD0" stroke-width="0.8" fill="none"/><path d="M367.54 209.73L371.38 209.73M369.46 207.81L369.46 211.65" stroke="#2F8BD0" stroke-width="0.8" fill="none"/><path d="M370.71 212.82L374.55 212.82M372.63 210.9L372.63 214.74" stroke="#2F8BD0" stroke-width="0.8" fill="none"/><path d="M373.88 213.85L377.72 213.85M375.8 211.93L375.8 215.77" stroke="#2F8BD0" stroke-width="0.8" fill="none"/><path d="M377.05 215.12L380.89 215.12M378.97 213.2L378.97 217.04" stroke="#2F8BD0" stroke-width="0.8" fill="none"/><path d="M380.22 215.83L384.06 215.83M382.14 213.91L382.14 217.75" stroke="#2F8BD0" stroke-width="0.8" fill="none"/><path d="M383.39 216.02L387.23 216.02M385.31 214.1L385.31 217.94" stroke="#2F8BD0" stroke-width="0.8" fill="none"/><path d="M386.56 216.39L390.4 216.39M388.48 214.47L388.48 218.31" stroke="#2F8BD0" stroke-width="0.8" fill="none"/><path d="M389.73 216.51L393.57 216.51M391.65 214.59L391.65 218.43" stroke="#2F8BD0" stroke-width="0.8" fill="none"/><path d="M392.9 216.27L396.74 216.27M394.82 214.35L394.82 218.19" stroke="#2F8BD0" stroke-width="0.8" fill="none"/><path d="M396.07 216.56L399.91 216.56M397.99 214.64L397.99 218.48" stroke="#2F8BD0" stroke-width="0.8" fill="none"/><path d="M399.24 216.23L403.08 216.23M401.16 214.31L401.16 218.15" stroke="#2F8BD0" stroke-width="0.8" fill="none"/><path d="M402.41 216.47L406.25 216.47M404.33 214.55L404.33 218.39" stroke="#2F8BD0" stroke-width="0.8" fill="none"/><path d="M405.58 216.31L409.42 216.31M407.5 214.39L407.5 218.23" stroke="#2F8BD0" stroke-width="0.8" fill="none"/><path d="M408.75 216.16L412.59 216.16M410.67 214.24L410.67 218.08" stroke="#2F8BD0" stroke-width="0.8" fill="none"/><path d="M411.92 216.33L415.76 216.33M413.84 214.41L413.84 218.25" stroke="#2F8BD0" stroke-width="0.8" fill="none"/><path d="M415.09 216.3L418.93 216.3M417.01 214.38L417.01 218.22" stroke="#2F8BD0" stroke-width="0.8" fill="none"/><path d="M418.26 216.45L422.1 216.45M420.18 214.53L420.18 218.37" stroke="#2F8BD0" stroke-width="0.8" fill="none"/><path d="M421.43 216.58L425.27 216.58M423.35 214.66L423.35 218.5" stroke="#2F8BD0" stroke-width="0.8" fill="none"/><path d="M424.6 216.57L428.44 216.57M426.52 214.65L426.52 218.49" stroke="#2F8BD0" stroke-width="0.8" fill="none"/><path d="M427.77 216.52L431.61 216.52M429.69 214.6L429.69 218.44" stroke="#2F8BD0" stroke-width="0.8" fill="none"/><path d="M430.94 216.32L434.78 216.32M432.86 214.4L432.86 218.24" stroke="#2F8BD0" stroke-width="0.8" fill="none"/><path d="M434.11 216.4L437.95 216.4M436.03 214.48L436.03 218.32" stroke="#2F8BD0" stroke-width="0.8" fill="none"/><path d="M437.28 216.36L441.12 216.36M439.2 214.44L439.2 218.28" stroke="#2F8BD0" stroke-width="0.8" fill="none"/><path d="M440.45 216.2L444.29 216.2M442.37 214.28L442.37 218.12" stroke="#2F8BD0" stroke-width="0.8" fill="none"/><path d="M443.62 216.53L447.46 216.53M445.54 214.61L445.54 218.45" stroke="#2F8BD0" stroke-width="0.8" fill="none"/><path d="M446.79 216.49L450.63 216.49M448.71 214.57L448.71 218.41" stroke="#2F8BD0" stroke-width="0.8" fill="none"/><path d="M449.96 216.27L453.8 216.27M451.88 214.35L451.88 218.19" stroke="#2F8BD0" stroke-width="0.8" fill="none"/><path d="M453.13 215.76L456.97 215.76M455.05 213.84L455.05 217.68" stroke="#2F8BD0" stroke-width="0.8" fill="none"/><path d="M456.3 214.7L460.14 214.7M458.22 212.78L458.22 216.62" stroke="#2F8BD0" stroke-width="0.8" fill="none"/><path d="M459.47 213.11L463.31 213.11M461.39 211.19L461.39 215.03" stroke="#2F8BD0" stroke-width="0.8" fill="none"/><path d="M462.64 211.77L466.48 211.77M464.56 209.85L464.56 213.69" stroke="#2F8BD0" stroke-width="0.8" fill="none"/><path d="M465.81 209.72L469.65 209.72M467.73 207.8L467.73 211.64" stroke="#2F8BD0" stroke-width="0.8" fill="none"/><path d="M468.98 207.94L472.82 207.94M470.9 206.02L470.9 209.86" stroke="#2F8BD0" stroke-width="0.8" fill="none"/><path d="M472.15 205.19L475.99 205.19M474.07 203.27L474.07 207.11" stroke="#2F8BD0" stroke-width="0.8" fill="none"/><path d="M475.32 202.79L479.16 202.79M477.24 200.87L477.24 204.71" stroke="#2F8BD0" stroke-width="0.8" fill="none"/><path d="M478.49 201.11L482.33 201.11M480.41 199.19L480.41 203.03" stroke="#2F8BD0" stroke-width="0.8" fill="none"/><path d="M481.66 197.47L485.5 197.47M483.58 195.55L483.58 199.39" stroke="#2F8BD0" stroke-width="0.8" fill="none"/><path d="M484.83 201.61L488.67 201.61M486.75 199.69L486.75 203.53" stroke="#2F8BD0" stroke-width="0.8" fill="none"/><path d="M488 216.75L491.84 216.75M489.92 214.83L489.92 218.67" stroke="#2F8BD0" stroke-width="0.8" fill="none"/><path d="M491.17 216.75L495.01 216.75M493.09 214.83L493.09 218.67" stroke="#2F8BD0" stroke-width="0.8" fill="none"/><path d="M494.34 216.75L498.18 216.75M496.26 214.83L496.26 218.67" stroke="#2F8BD0" stroke-width="0.8" fill="none"/><path d="M497.51 216.75L501.35 216.75M499.43 214.83L499.43 218.67" stroke="#2F8BD0" stroke-width="0.8" fill="none"/><path d="M500.68 216.75L504.52 216.75M502.6 214.83L502.6 218.67" stroke="#2F8BD0" stroke-width="0.8" fill="none"/><path d="M503.85 216.75L507.69 216.75M505.77 214.83L505.77 218.67" stroke="#2F8BD0" stroke-width="0.8" fill="none"/><path d="M507.02 216.75L510.86 216.75M508.94 214.83L508.94 218.67" stroke="#2F8BD0" stroke-width="0.8" fill="none"/><path d="M510.19 216.75L514.03 216.75M512.11 214.83L512.11 218.67" stroke="#2F8BD0" stroke-width="0.8" fill="none"/><path d="M513.36 216.75L517.2 216.75M515.28 214.83L515.28 218.67" stroke="#2F8BD0" stroke-width="0.8" fill="none"/><path d="M516.53 216.75L520.37 216.75M518.45 214.83L518.45 218.67" stroke="#2F8BD0" stroke-width="0.8" fill="none"/><path d="M519.7 216.75L523.54 216.75M521.62 214.83L521.62 218.67" stroke="#2F8BD0" stroke-width="0.8" fill="none"/><path d="M522.87 216.75L526.71 216.75M524.79 214.83L524.79 218.67" stroke="#2F8BD0" stroke-width="0.8" fill="none"/><path d="M526.04 216.75L529.88 216.75M527.96 214.83L527.96 218.67" stroke="#2F8BD0" stroke-width="0.8" fill="none"/><path d="M529.21 216.75L533.05 216.75M531.13 214.83L531.13 218.67" stroke="#2F8BD0" stroke-width="0.8" fill="none"/><path d="M532.38 216.75L536.22 216.75M534.3 214.83L534.3 218.67" stroke="#2F8BD0" stroke-width="0.8" fill="none"/><path d="M535.55 216.75L539.39 216.75M537.47 214.83L537.47 218.67" stroke="#2F8BD0" stroke-width="0.8" fill="none"/><path d="M538.72 216.75L542.56 216.75M540.64 214.83L540.64 218.67" stroke="#2F8BD0" stroke-width="0.8" fill="none"/></g></g>
<g id="RCASE28"><polyline points="344.1,174.9 347.3,99.0 350.4,114.2 353.6,156.8 356.8,182.3 360.0,198.9 363.1,205.6 366.3,209.1 369.5,210.8 372.6,212.9 375.8,214.4 379.0,215.4 382.1,216.0 385.3,216.4 388.5,216.3 391.7,216.3 394.8,216.4 398.0,216.3 401.2,216.4 404.3,216.2 407.5,216.3 410.7,216.5 413.8,216.2 417.0,216.6 420.2,216.4 423.4,216.4 426.5,216.5 429.7,216.6 432.9,216.3 436.0,216.6 439.2,216.3 442.4,216.2 445.5,216.5 448.7,216.5 451.9,216.3 455.1,216.4 458.2,215.7 461.4,214.7 464.6,214.1 467.7,212.8 470.9,211.4 474.1,210.2 477.2,207.4 480.4,205.7 483.6,203.8 486.8,208.0 489.9,216.8 493.1,216.8 496.3,216.8 499.4,216.8 502.6,216.8 505.8,216.8 508.9,216.8 512.1,216.8 515.3,216.8 518.5,216.8 521.6,216.8 524.8,216.8 528.0,216.8 531.1,216.8 534.3,216.8 537.5,216.8 540.6,216.8" fill="none" stroke="#D2561E" stroke-width="1.14" stroke-linejoin="round"/>
<g><path d="M342.3 174.95L345.9 174.95" stroke="#D2561E" stroke-width="1.2" fill="none"/><path d="M345.47 98.95L349.07 98.95" stroke="#D2561E" stroke-width="1.2" fill="none"/><path d="M348.64 114.15L352.24 114.15" stroke="#D2561E" stroke-width="1.2" fill="none"/><path d="M351.81 156.78L355.41 156.78" stroke="#D2561E" stroke-width="1.2" fill="none"/><path d="M354.98 182.31L358.58 182.31" stroke="#D2561E" stroke-width="1.2" fill="none"/><path d="M358.15 198.94L361.75 198.94" stroke="#D2561E" stroke-width="1.2" fill="none"/><path d="M361.32 205.61L364.92 205.61" stroke="#D2561E" stroke-width="1.2" fill="none"/><path d="M364.49 209.06L368.09 209.06" stroke="#D2561E" stroke-width="1.2" fill="none"/><path d="M367.66 210.83L371.26 210.83" stroke="#D2561E" stroke-width="1.2" fill="none"/><path d="M370.83 212.87L374.43 212.87" stroke="#D2561E" stroke-width="1.2" fill="none"/><path d="M374 214.35L377.6 214.35" stroke="#D2561E" stroke-width="1.2" fill="none"/><path d="M377.17 215.43L380.77 215.43" stroke="#D2561E" stroke-width="1.2" fill="none"/><path d="M380.34 216.01L383.94 216.01" stroke="#D2561E" stroke-width="1.2" fill="none"/><path d="M383.51 216.44L387.11 216.44" stroke="#D2561E" stroke-width="1.2" fill="none"/><path d="M386.68 216.31L390.28 216.31" stroke="#D2561E" stroke-width="1.2" fill="none"/><path d="M389.85 216.34L393.45 216.34" stroke="#D2561E" stroke-width="1.2" fill="none"/><path d="M393.02 216.43L396.62 216.43" stroke="#D2561E" stroke-width="1.2" fill="none"/><path d="M396.19 216.31L399.79 216.31" stroke="#D2561E" stroke-width="1.2" fill="none"/><path d="M399.36 216.39L402.96 216.39" stroke="#D2561E" stroke-width="1.2" fill="none"/><path d="M402.53 216.18L406.13 216.18" stroke="#D2561E" stroke-width="1.2" fill="none"/><path d="M405.7 216.27L409.3 216.27" stroke="#D2561E" stroke-width="1.2" fill="none"/><path d="M408.87 216.48L412.47 216.48" stroke="#D2561E" stroke-width="1.2" fill="none"/><path d="M412.04 216.2L415.64 216.2" stroke="#D2561E" stroke-width="1.2" fill="none"/><path d="M415.21 216.56L418.81 216.56" stroke="#D2561E" stroke-width="1.2" fill="none"/><path d="M418.38 216.36L421.98 216.36" stroke="#D2561E" stroke-width="1.2" fill="none"/><path d="M421.55 216.41L425.15 216.41" stroke="#D2561E" stroke-width="1.2" fill="none"/><path d="M424.72 216.48L428.32 216.48" stroke="#D2561E" stroke-width="1.2" fill="none"/><path d="M427.89 216.56L431.49 216.56" stroke="#D2561E" stroke-width="1.2" fill="none"/><path d="M431.06 216.25L434.66 216.25" stroke="#D2561E" stroke-width="1.2" fill="none"/><path d="M434.23 216.58L437.83 216.58" stroke="#D2561E" stroke-width="1.2" fill="none"/><path d="M437.4 216.35L441 216.35" stroke="#D2561E" stroke-width="1.2" fill="none"/><path d="M440.57 216.18L444.17 216.18" stroke="#D2561E" stroke-width="1.2" fill="none"/><path d="M443.74 216.52L447.34 216.52" stroke="#D2561E" stroke-width="1.2" fill="none"/><path d="M446.91 216.5L450.51 216.5" stroke="#D2561E" stroke-width="1.2" fill="none"/><path d="M450.08 216.32L453.68 216.32" stroke="#D2561E" stroke-width="1.2" fill="none"/><path d="M453.25 216.37L456.85 216.37" stroke="#D2561E" stroke-width="1.2" fill="none"/><path d="M456.42 215.73L460.02 215.73" stroke="#D2561E" stroke-width="1.2" fill="none"/><path d="M459.59 214.74L463.19 214.74" stroke="#D2561E" stroke-width="1.2" fill="none"/><path d="M462.76 214.09L466.36 214.09" stroke="#D2561E" stroke-width="1.2" fill="none"/><path d="M465.93 212.78L469.53 212.78" stroke="#D2561E" stroke-width="1.2" fill="none"/><path d="M469.1 211.42L472.7 211.42" stroke="#D2561E" stroke-width="1.2" fill="none"/><path d="M472.27 210.22L475.87 210.22" stroke="#D2561E" stroke-width="1.2" fill="none"/><path d="M475.44 207.42L479.04 207.42" stroke="#D2561E" stroke-width="1.2" fill="none"/><path d="M478.61 205.69L482.21 205.69" stroke="#D2561E" stroke-width="1.2" fill="none"/><path d="M481.78 203.8L485.38 203.8" stroke="#D2561E" stroke-width="1.2" fill="none"/><path d="M484.95 208L488.55 208" stroke="#D2561E" stroke-width="1.2" fill="none"/><path d="M488.12 216.75L491.72 216.75" stroke="#D2561E" stroke-width="1.2" fill="none"/><path d="M491.29 216.75L494.89 216.75" stroke="#D2561E" stroke-width="1.2" fill="none"/><path d="M494.46 216.75L498.06 216.75" stroke="#D2561E" stroke-width="1.2" fill="none"/><path d="M497.63 216.75L501.23 216.75" stroke="#D2561E" stroke-width="1.2" fill="none"/><path d="M500.8 216.75L504.4 216.75" stroke="#D2561E" stroke-width="1.2" fill="none"/><path d="M503.97 216.75L507.57 216.75" stroke="#D2561E" stroke-width="1.2" fill="none"/><path d="M507.14 216.75L510.74 216.75" stroke="#D2561E" stroke-width="1.2" fill="none"/><path d="M510.31 216.75L513.91 216.75" stroke="#D2561E" stroke-width="1.2" fill="none"/><path d="M513.48 216.75L517.08 216.75" stroke="#D2561E" stroke-width="1.2" fill="none"/><path d="M516.65 216.75L520.25 216.75" stroke="#D2561E" stroke-width="1.2" fill="none"/><path d="M519.82 216.75L523.42 216.75" stroke="#D2561E" stroke-width="1.2" fill="none"/><path d="M522.99 216.75L526.59 216.75" stroke="#D2561E" stroke-width="1.2" fill="none"/><path d="M526.16 216.75L529.76 216.75" stroke="#D2561E" stroke-width="1.2" fill="none"/><path d="M529.33 216.75L532.93 216.75" stroke="#D2561E" stroke-width="1.2" fill="none"/><path d="M532.5 216.75L536.1 216.75" stroke="#D2561E" stroke-width="1.2" fill="none"/><path d="M535.67 216.75L539.27 216.75" stroke="#D2561E" stroke-width="1.2" fill="none"/><path d="M538.84 216.75L542.44 216.75" stroke="#D2561E" stroke-width="1.2" fill="none"/></g></g>
<g id="RCASE29"><polyline points="344.1,186.3 347.3,133.2 350.4,140.8 353.6,170.4 356.8,191.1 360.0,203.0 363.1,207.6 366.3,210.6 369.5,212.7 372.6,214.3 375.8,215.2 379.0,216.0 382.1,216.2 385.3,216.2 388.5,216.3 391.7,216.2 394.8,216.3 398.0,216.5 401.2,216.3 404.3,216.4 407.5,216.2 410.7,216.4 413.8,216.5 417.0,216.3 420.2,216.2 423.4,216.5 426.5,216.2 429.7,216.6 432.9,216.5 436.0,216.5 439.2,216.3 442.4,216.2 445.5,216.3 448.7,216.4 451.9,216.2 455.1,216.4 458.2,216.5 461.4,215.7 464.6,215.0 467.7,213.9 470.9,212.8 474.1,211.1 477.2,210.2 480.4,208.1 483.6,206.6 486.8,209.5 489.9,216.8 493.1,216.8 496.3,216.8 499.4,216.8 502.6,216.8 505.8,216.8 508.9,216.8 512.1,216.8 515.3,216.8 518.5,216.8 521.6,216.8 524.8,216.8 528.0,216.8 531.1,216.8 534.3,216.8 537.5,216.8 540.6,216.8" fill="none" stroke="#6B6B6B" stroke-width="1.03" stroke-linejoin="round"/>
<g><path d="M342.3 186.35L345.9 186.35" stroke="#6B6B6B" stroke-width="1.2" fill="none"/><path d="M345.47 133.15L349.07 133.15" stroke="#6B6B6B" stroke-width="1.2" fill="none"/><path d="M348.64 140.75L352.24 140.75" stroke="#6B6B6B" stroke-width="1.2" fill="none"/><path d="M351.81 170.36L355.41 170.36" stroke="#6B6B6B" stroke-width="1.2" fill="none"/><path d="M354.98 191.11L358.58 191.11" stroke="#6B6B6B" stroke-width="1.2" fill="none"/><path d="M358.15 203.03L361.75 203.03" stroke="#6B6B6B" stroke-width="1.2" fill="none"/><path d="M361.32 207.57L364.92 207.57" stroke="#6B6B6B" stroke-width="1.2" fill="none"/><path d="M364.49 210.62L368.09 210.62" stroke="#6B6B6B" stroke-width="1.2" fill="none"/><path d="M367.66 212.67L371.26 212.67" stroke="#6B6B6B" stroke-width="1.2" fill="none"/><path d="M370.83 214.35L374.43 214.35" stroke="#6B6B6B" stroke-width="1.2" fill="none"/><path d="M374 215.24L377.6 215.24" stroke="#6B6B6B" stroke-width="1.2" fill="none"/><path d="M377.17 215.95L380.77 215.95" stroke="#6B6B6B" stroke-width="1.2" fill="none"/><path d="M380.34 216.19L383.94 216.19" stroke="#6B6B6B" stroke-width="1.2" fill="none"/><path d="M383.51 216.25L387.11 216.25" stroke="#6B6B6B" stroke-width="1.2" fill="none"/><path d="M386.68 216.29L390.28 216.29" stroke="#6B6B6B" stroke-width="1.2" fill="none"/><path d="M389.85 216.22L393.45 216.22" stroke="#6B6B6B" stroke-width="1.2" fill="none"/><path d="M393.02 216.28L396.62 216.28" stroke="#6B6B6B" stroke-width="1.2" fill="none"/><path d="M396.19 216.47L399.79 216.47" stroke="#6B6B6B" stroke-width="1.2" fill="none"/><path d="M399.36 216.35L402.96 216.35" stroke="#6B6B6B" stroke-width="1.2" fill="none"/><path d="M402.53 216.4L406.13 216.4" stroke="#6B6B6B" stroke-width="1.2" fill="none"/><path d="M405.7 216.25L409.3 216.25" stroke="#6B6B6B" stroke-width="1.2" fill="none"/><path d="M408.87 216.36L412.47 216.36" stroke="#6B6B6B" stroke-width="1.2" fill="none"/><path d="M412.04 216.47L415.64 216.47" stroke="#6B6B6B" stroke-width="1.2" fill="none"/><path d="M415.21 216.31L418.81 216.31" stroke="#6B6B6B" stroke-width="1.2" fill="none"/><path d="M418.38 216.17L421.98 216.17" stroke="#6B6B6B" stroke-width="1.2" fill="none"/><path d="M421.55 216.49L425.15 216.49" stroke="#6B6B6B" stroke-width="1.2" fill="none"/><path d="M424.72 216.21L428.32 216.21" stroke="#6B6B6B" stroke-width="1.2" fill="none"/><path d="M427.89 216.58L431.49 216.58" stroke="#6B6B6B" stroke-width="1.2" fill="none"/><path d="M431.06 216.47L434.66 216.47" stroke="#6B6B6B" stroke-width="1.2" fill="none"/><path d="M434.23 216.48L437.83 216.48" stroke="#6B6B6B" stroke-width="1.2" fill="none"/><path d="M437.4 216.27L441 216.27" stroke="#6B6B6B" stroke-width="1.2" fill="none"/><path d="M440.57 216.18L444.17 216.18" stroke="#6B6B6B" stroke-width="1.2" fill="none"/><path d="M443.74 216.27L447.34 216.27" stroke="#6B6B6B" stroke-width="1.2" fill="none"/><path d="M446.91 216.44L450.51 216.44" stroke="#6B6B6B" stroke-width="1.2" fill="none"/><path d="M450.08 216.21L453.68 216.21" stroke="#6B6B6B" stroke-width="1.2" fill="none"/><path d="M453.25 216.44L456.85 216.44" stroke="#6B6B6B" stroke-width="1.2" fill="none"/><path d="M456.42 216.48L460.02 216.48" stroke="#6B6B6B" stroke-width="1.2" fill="none"/><path d="M459.59 215.66L463.19 215.66" stroke="#6B6B6B" stroke-width="1.2" fill="none"/><path d="M462.76 214.97L466.36 214.97" stroke="#6B6B6B" stroke-width="1.2" fill="none"/><path d="M465.93 213.91L469.53 213.91" stroke="#6B6B6B" stroke-width="1.2" fill="none"/><path d="M469.1 212.75L472.7 212.75" stroke="#6B6B6B" stroke-width="1.2" fill="none"/><path d="M472.27 211.11L475.87 211.11" stroke="#6B6B6B" stroke-width="1.2" fill="none"/><path d="M475.44 210.18L479.04 210.18" stroke="#6B6B6B" stroke-width="1.2" fill="none"/><path d="M478.61 208.1L482.21 208.1" stroke="#6B6B6B" stroke-width="1.2" fill="none"/><path d="M481.78 206.56L485.38 206.56" stroke="#6B6B6B" stroke-width="1.2" fill="none"/><path d="M484.95 209.48L488.55 209.48" stroke="#6B6B6B" stroke-width="1.2" fill="none"/><path d="M488.12 216.75L491.72 216.75" stroke="#6B6B6B" stroke-width="1.2" fill="none"/><path d="M491.29 216.75L494.89 216.75" stroke="#6B6B6B" stroke-width="1.2" fill="none"/><path d="M494.46 216.75L498.06 216.75" stroke="#6B6B6B" stroke-width="1.2" fill="none"/><path d="M497.63 216.75L501.23 216.75" stroke="#6B6B6B" stroke-width="1.2" fill="none"/><path d="M500.8 216.75L504.4 216.75" stroke="#6B6B6B" stroke-width="1.2" fill="none"/><path d="M503.97 216.75L507.57 216.75" stroke="#6B6B6B" stroke-width="1.2" fill="none"/><path d="M507.14 216.75L510.74 216.75" stroke="#6B6B6B" stroke-width="1.2" fill="none"/><path d="M510.31 216.75L513.91 216.75" stroke="#6B6B6B" stroke-width="1.2" fill="none"/><path d="M513.48 216.75L517.08 216.75" stroke="#6B6B6B" stroke-width="1.2" fill="none"/><path d="M516.65 216.75L520.25 216.75" stroke="#6B6B6B" stroke-width="1.2" fill="none"/><path d="M519.82 216.75L523.42 216.75" stroke="#6B6B6B" stroke-width="1.2" fill="none"/><path d="M522.99 216.75L526.59 216.75" stroke="#6B6B6B" stroke-width="1.2" fill="none"/><path d="M526.16 216.75L529.76 216.75" stroke="#6B6B6B" stroke-width="1.2" fill="none"/><path d="M529.33 216.75L532.93 216.75" stroke="#6B6B6B" stroke-width="1.2" fill="none"/><path d="M532.5 216.75L536.1 216.75" stroke="#6B6B6B" stroke-width="1.2" fill="none"/><path d="M535.67 216.75L539.27 216.75" stroke="#6B6B6B" stroke-width="1.2" fill="none"/><path d="M538.84 216.75L542.44 216.75" stroke="#6B6B6B" stroke-width="1.2" fill="none"/></g></g>
<g id="RCASE30"><polyline points="344.1,184.4 347.3,125.5 350.4,135.1 353.6,167.3 356.8,189.6 360.0,201.8 363.1,207.2 366.3,210.1 369.5,212.1 372.6,213.8 375.8,214.9 379.0,215.6 382.1,216.1 385.3,216.3 388.5,216.4 391.7,216.4 394.8,216.4 398.0,216.4 401.2,216.4 404.3,216.4 407.5,216.4 410.7,216.4 413.8,216.4 417.0,216.4 420.2,216.4 423.4,216.4 426.5,216.4 429.7,216.4 432.9,216.4 436.0,216.4 439.2,216.4 442.4,216.4 445.5,215.6 448.7,214.8 451.9,213.7 455.1,212.2 458.2,210.7 461.4,208.4 464.6,206.1 467.7,204.2 470.9,202.3 474.1,199.7 477.2,196.2 480.4,193.2 483.6,197.0 486.8,203.1 489.9,216.8 493.1,216.8 496.3,216.8 499.4,216.8 502.6,216.8 505.8,216.8 508.9,216.8 512.1,216.8 515.3,216.8 518.5,216.8 521.6,216.8 524.8,216.8 528.0,216.8 531.1,216.8 534.3,216.8 537.5,216.8 540.6,216.8" fill="none" stroke="#B47C12" stroke-width="1.14" stroke-linejoin="round"/>
<g><path d="M344.1 182.45L346.1 184.45L344.1 186.45L342.1 184.45Z" fill="#B47C12"/><path d="M347.27 123.55L349.27 125.55L347.27 127.55L345.27 125.55Z" fill="#B47C12"/><path d="M350.44 133.05L352.44 135.05L350.44 137.05L348.44 135.05Z" fill="#B47C12"/><path d="M353.61 165.35L355.61 167.35L353.61 169.35L351.61 167.35Z" fill="#B47C12"/><path d="M356.78 187.58L358.78 189.58L356.78 191.58L354.78 189.58Z" fill="#B47C12"/><path d="M359.95 199.81L361.95 201.81L359.95 203.81L357.95 201.81Z" fill="#B47C12"/><path d="M363.12 205.19L365.12 207.19L363.12 209.19L361.12 207.19Z" fill="#B47C12"/><path d="M366.29 208.06L368.29 210.06L366.29 212.06L364.29 210.06Z" fill="#B47C12"/><path d="M369.46 210.06L371.46 212.06L369.46 214.06L367.46 212.06Z" fill="#B47C12"/><path d="M372.63 211.84L374.63 213.84L372.63 215.84L370.63 213.84Z" fill="#B47C12"/><path d="M375.8 212.95L377.8 214.95L375.8 216.95L373.8 214.95Z" fill="#B47C12"/><path d="M378.97 213.63L380.97 215.63L378.97 217.63L376.97 215.63Z" fill="#B47C12"/><path d="M382.14 214.06L384.14 216.06L382.14 218.06L380.14 216.06Z" fill="#B47C12"/><path d="M385.31 214.32L387.31 216.32L385.31 218.32L383.31 216.32Z" fill="#B47C12"/><path d="M388.48 214.37L390.48 216.37L388.48 218.37L386.48 216.37Z" fill="#B47C12"/><path d="M391.65 214.37L393.65 216.37L391.65 218.37L389.65 216.37Z" fill="#B47C12"/><path d="M394.82 214.37L396.82 216.37L394.82 218.37L392.82 216.37Z" fill="#B47C12"/><path d="M397.99 214.37L399.99 216.37L397.99 218.37L395.99 216.37Z" fill="#B47C12"/><path d="M401.16 214.37L403.16 216.37L401.16 218.37L399.16 216.37Z" fill="#B47C12"/><path d="M404.33 214.37L406.33 216.37L404.33 218.37L402.33 216.37Z" fill="#B47C12"/><path d="M407.5 214.37L409.5 216.37L407.5 218.37L405.5 216.37Z" fill="#B47C12"/><path d="M410.67 214.37L412.67 216.37L410.67 218.37L408.67 216.37Z" fill="#B47C12"/><path d="M413.84 214.37L415.84 216.37L413.84 218.37L411.84 216.37Z" fill="#B47C12"/><path d="M417.01 214.37L419.01 216.37L417.01 218.37L415.01 216.37Z" fill="#B47C12"/><path d="M420.18 214.37L422.18 216.37L420.18 218.37L418.18 216.37Z" fill="#B47C12"/><path d="M423.35 214.37L425.35 216.37L423.35 218.37L421.35 216.37Z" fill="#B47C12"/><path d="M426.52 214.37L428.52 216.37L426.52 218.37L424.52 216.37Z" fill="#B47C12"/><path d="M429.69 214.37L431.69 216.37L429.69 218.37L427.69 216.37Z" fill="#B47C12"/><path d="M432.86 214.37L434.86 216.37L432.86 218.37L430.86 216.37Z" fill="#B47C12"/><path d="M436.03 214.37L438.03 216.37L436.03 218.37L434.03 216.37Z" fill="#B47C12"/><path d="M439.2 214.37L441.2 216.37L439.2 218.37L437.2 216.37Z" fill="#B47C12"/><path d="M442.37 214.37L444.37 216.37L442.37 218.37L440.37 216.37Z" fill="#B47C12"/><path d="M445.54 213.61L447.54 215.61L445.54 217.61L443.54 215.61Z" fill="#B47C12"/><path d="M448.71 212.85L450.71 214.85L448.71 216.85L446.71 214.85Z" fill="#B47C12"/><path d="M451.88 211.71L453.88 213.71L451.88 215.71L449.88 213.71Z" fill="#B47C12"/><path d="M455.05 210.19L457.05 212.19L455.05 214.19L453.05 212.19Z" fill="#B47C12"/><path d="M458.22 208.67L460.22 210.67L458.22 212.67L456.22 210.67Z" fill="#B47C12"/><path d="M461.39 206.39L463.39 208.39L461.39 210.39L459.39 208.39Z" fill="#B47C12"/><path d="M464.56 204.11L466.56 206.11L464.56 208.11L462.56 206.11Z" fill="#B47C12"/><path d="M467.73 202.21L469.73 204.21L467.73 206.21L465.73 204.21Z" fill="#B47C12"/><path d="M470.9 200.31L472.9 202.31L470.9 204.31L468.9 202.31Z" fill="#B47C12"/><path d="M474.07 197.65L476.07 199.65L474.07 201.65L472.07 199.65Z" fill="#B47C12"/><path d="M477.24 194.23L479.24 196.23L477.24 198.23L475.24 196.23Z" fill="#B47C12"/><path d="M480.41 191.19L482.41 193.19L480.41 195.19L478.41 193.19Z" fill="#B47C12"/><path d="M483.58 194.99L485.58 196.99L483.58 198.99L481.58 196.99Z" fill="#B47C12"/><path d="M486.75 201.07L488.75 203.07L486.75 205.07L484.75 203.07Z" fill="#B47C12"/><path d="M489.92 214.75L491.92 216.75L489.92 218.75L487.92 216.75Z" fill="#B47C12"/><path d="M493.09 214.75L495.09 216.75L493.09 218.75L491.09 216.75Z" fill="#B47C12"/><path d="M496.26 214.75L498.26 216.75L496.26 218.75L494.26 216.75Z" fill="#B47C12"/><path d="M499.43 214.75L501.43 216.75L499.43 218.75L497.43 216.75Z" fill="#B47C12"/><path d="M502.6 214.75L504.6 216.75L502.6 218.75L500.6 216.75Z" fill="#B47C12"/><path d="M505.77 214.75L507.77 216.75L505.77 218.75L503.77 216.75Z" fill="#B47C12"/><path d="M508.94 214.75L510.94 216.75L508.94 218.75L506.94 216.75Z" fill="#B47C12"/><path d="M512.11 214.75L514.11 216.75L512.11 218.75L510.11 216.75Z" fill="#B47C12"/><path d="M515.28 214.75L517.28 216.75L515.28 218.75L513.28 216.75Z" fill="#B47C12"/><path d="M518.45 214.75L520.45 216.75L518.45 218.75L516.45 216.75Z" fill="#B47C12"/><path d="M521.62 214.75L523.62 216.75L521.62 218.75L519.62 216.75Z" fill="#B47C12"/><path d="M524.79 214.75L526.79 216.75L524.79 218.75L522.79 216.75Z" fill="#B47C12"/><path d="M527.96 214.75L529.96 216.75L527.96 218.75L525.96 216.75Z" fill="#B47C12"/><path d="M531.13 214.75L533.13 216.75L531.13 218.75L529.13 216.75Z" fill="#B47C12"/><path d="M534.3 214.75L536.3 216.75L534.3 218.75L532.3 216.75Z" fill="#B47C12"/><path d="M537.47 214.75L539.47 216.75L537.47 218.75L535.47 216.75Z" fill="#B47C12"/><path d="M540.64 214.75L542.64 216.75L540.64 218.75L538.64 216.75Z" fill="#B47C12"/></g></g>
<g id="RCASE31"><polyline points="344.1,193.9 347.3,152.2 350.4,159.8 353.6,180.8 356.8,196.4 360.0,205.7 363.1,210.0 366.3,212.1 369.5,213.2 372.6,214.9 375.8,215.2 379.0,216.1 382.1,216.5 385.3,216.5 388.5,216.2 391.7,216.4 394.8,216.5 398.0,216.6 401.2,216.6 404.3,216.3 407.5,216.3 410.7,216.3 413.8,216.3 417.0,216.6 420.2,216.3 423.4,216.4 426.5,216.2 429.7,216.2 432.9,216.2 436.0,216.6 439.2,216.2 442.4,216.2 445.5,216.2 448.7,216.5 451.9,216.5 455.1,216.1 458.2,215.4 461.4,213.9 464.6,212.7 467.7,211.6 470.9,209.9 474.1,208.6 477.2,207.4 480.4,206.0 483.6,204.2 486.8,206.5 489.9,216.8 493.1,216.8 496.3,216.8 499.4,216.8 502.6,216.8 505.8,216.8 508.9,216.8 512.1,216.8 515.3,216.8 518.5,216.8 521.6,216.8 524.8,216.8 528.0,216.8 531.1,216.8 534.3,216.8 537.5,216.8 540.6,216.8" fill="none" stroke="#1F4E96" stroke-width="1.37" stroke-linejoin="round"/>
<g><rect x="342.4" y="192.25" width="3.4" height="3.4" fill="#1F4E96"/><rect x="345.57" y="150.45" width="3.4" height="3.4" fill="#1F4E96"/><rect x="348.74" y="158.05" width="3.4" height="3.4" fill="#1F4E96"/><rect x="351.91" y="179.09" width="3.4" height="3.4" fill="#1F4E96"/><rect x="355.08" y="194.68" width="3.4" height="3.4" fill="#1F4E96"/><rect x="358.25" y="204.01" width="3.4" height="3.4" fill="#1F4E96"/><rect x="361.42" y="208.3" width="3.4" height="3.4" fill="#1F4E96"/><rect x="364.59" y="210.44" width="3.4" height="3.4" fill="#1F4E96"/><rect x="367.76" y="211.53" width="3.4" height="3.4" fill="#1F4E96"/><rect x="370.93" y="213.19" width="3.4" height="3.4" fill="#1F4E96"/><rect x="374.1" y="213.51" width="3.4" height="3.4" fill="#1F4E96"/><rect x="377.27" y="214.4" width="3.4" height="3.4" fill="#1F4E96"/><rect x="380.44" y="214.75" width="3.4" height="3.4" fill="#1F4E96"/><rect x="383.61" y="214.84" width="3.4" height="3.4" fill="#1F4E96"/><rect x="386.78" y="214.49" width="3.4" height="3.4" fill="#1F4E96"/><rect x="389.95" y="214.74" width="3.4" height="3.4" fill="#1F4E96"/><rect x="393.12" y="214.82" width="3.4" height="3.4" fill="#1F4E96"/><rect x="396.29" y="214.87" width="3.4" height="3.4" fill="#1F4E96"/><rect x="399.46" y="214.87" width="3.4" height="3.4" fill="#1F4E96"/><rect x="402.63" y="214.59" width="3.4" height="3.4" fill="#1F4E96"/><rect x="405.8" y="214.61" width="3.4" height="3.4" fill="#1F4E96"/><rect x="408.97" y="214.59" width="3.4" height="3.4" fill="#1F4E96"/><rect x="412.14" y="214.57" width="3.4" height="3.4" fill="#1F4E96"/><rect x="415.31" y="214.85" width="3.4" height="3.4" fill="#1F4E96"/><rect x="418.48" y="214.63" width="3.4" height="3.4" fill="#1F4E96"/><rect x="421.65" y="214.73" width="3.4" height="3.4" fill="#1F4E96"/><rect x="424.82" y="214.53" width="3.4" height="3.4" fill="#1F4E96"/><rect x="427.99" y="214.53" width="3.4" height="3.4" fill="#1F4E96"/><rect x="431.16" y="214.5" width="3.4" height="3.4" fill="#1F4E96"/><rect x="434.33" y="214.85" width="3.4" height="3.4" fill="#1F4E96"/><rect x="437.5" y="214.51" width="3.4" height="3.4" fill="#1F4E96"/><rect x="440.67" y="214.49" width="3.4" height="3.4" fill="#1F4E96"/><rect x="443.84" y="214.48" width="3.4" height="3.4" fill="#1F4E96"/><rect x="447.01" y="214.84" width="3.4" height="3.4" fill="#1F4E96"/><rect x="450.18" y="214.8" width="3.4" height="3.4" fill="#1F4E96"/><rect x="453.35" y="214.37" width="3.4" height="3.4" fill="#1F4E96"/><rect x="456.52" y="213.66" width="3.4" height="3.4" fill="#1F4E96"/><rect x="459.69" y="212.17" width="3.4" height="3.4" fill="#1F4E96"/><rect x="462.86" y="211.02" width="3.4" height="3.4" fill="#1F4E96"/><rect x="466.03" y="209.88" width="3.4" height="3.4" fill="#1F4E96"/><rect x="469.2" y="208.22" width="3.4" height="3.4" fill="#1F4E96"/><rect x="472.37" y="206.88" width="3.4" height="3.4" fill="#1F4E96"/><rect x="475.54" y="205.73" width="3.4" height="3.4" fill="#1F4E96"/><rect x="478.71" y="204.33" width="3.4" height="3.4" fill="#1F4E96"/><rect x="481.88" y="202.54" width="3.4" height="3.4" fill="#1F4E96"/><rect x="485.05" y="204.77" width="3.4" height="3.4" fill="#1F4E96"/><rect x="488.22" y="215.05" width="3.4" height="3.4" fill="#1F4E96"/><rect x="491.39" y="215.05" width="3.4" height="3.4" fill="#1F4E96"/><rect x="494.56" y="215.05" width="3.4" height="3.4" fill="#1F4E96"/><rect x="497.73" y="215.05" width="3.4" height="3.4" fill="#1F4E96"/><rect x="500.9" y="215.05" width="3.4" height="3.4" fill="#1F4E96"/><rect x="504.07" y="215.05" width="3.4" height="3.4" fill="#1F4E96"/><rect x="507.24" y="215.05" width="3.4" height="3.4" fill="#1F4E96"/><rect x="510.41" y="215.05" width="3.4" height="3.4" fill="#1F4E96"/><rect x="513.58" y="215.05" width="3.4" height="3.4" fill="#1F4E96"/><rect x="516.75" y="215.05" width="3.4" height="3.4" fill="#1F4E96"/><rect x="519.92" y="215.05" width="3.4" height="3.4" fill="#1F4E96"/><rect x="523.09" y="215.05" width="3.4" height="3.4" fill="#1F4E96"/><rect x="526.26" y="215.05" width="3.4" height="3.4" fill="#1F4E96"/><rect x="529.43" y="215.05" width="3.4" height="3.4" fill="#1F4E96"/><rect x="532.6" y="215.05" width="3.4" height="3.4" fill="#1F4E96"/><rect x="535.77" y="215.05" width="3.4" height="3.4" fill="#1F4E96"/><rect x="538.94" y="215.05" width="3.4" height="3.4" fill="#1F4E96"/></g></g>
<g id="RCASE32"><polyline points="344.1,159.8 347.3,53.3 350.4,76.9 353.6,141.4 356.8,175.4 360.0,193.9 363.1,203.1 366.3,206.8 369.5,209.8 372.6,212.1 375.8,214.1 379.0,215.1 382.1,215.4 385.3,216.1 388.5,216.2 391.7,216.3 394.8,216.6 398.0,216.4 401.2,216.4 404.3,216.3 407.5,216.4 410.7,216.3 413.8,216.4 417.0,216.5 420.2,216.2 423.4,216.5 426.5,216.2 429.7,216.5 432.9,216.6 436.0,216.5 439.2,216.3 442.4,216.2 445.5,216.6 448.7,216.4 451.9,216.4 455.1,215.6 458.2,214.9 461.4,213.6 464.6,212.4 467.7,210.3 470.9,209.3 474.1,206.5 477.2,205.6 480.4,203.6 483.6,200.3 486.8,204.6 489.9,216.8 493.1,216.8 496.3,216.8 499.4,216.8 502.6,216.8 505.8,216.8 508.9,216.8 512.1,216.8 515.3,216.8 518.5,216.8 521.6,216.8 524.8,216.8 528.0,216.8 531.1,216.8 534.3,216.8 537.5,216.8 540.6,216.8" fill="none" stroke="#2E7D32" stroke-width="1.14" stroke-linejoin="round"/>
<g><path d="M344.1 157.75L346.1 161.75L342.1 161.75Z" fill="#2E7D32"/><path d="M347.27 51.35L349.27 55.35L345.27 55.35Z" fill="#2E7D32"/><path d="M350.44 74.91L352.44 78.91L348.44 78.91Z" fill="#2E7D32"/><path d="M353.61 139.42L355.61 143.42L351.61 143.42Z" fill="#2E7D32"/><path d="M356.78 173.36L358.78 177.36L354.78 177.36Z" fill="#2E7D32"/><path d="M359.95 191.93L361.95 195.93L357.95 195.93Z" fill="#2E7D32"/><path d="M363.12 201.06L365.12 205.06L361.12 205.06Z" fill="#2E7D32"/><path d="M366.29 204.84L368.29 208.84L364.29 208.84Z" fill="#2E7D32"/><path d="M369.46 207.81L371.46 211.81L367.46 211.81Z" fill="#2E7D32"/><path d="M372.63 210.08L374.63 214.08L370.63 214.08Z" fill="#2E7D32"/><path d="M375.8 212.07L377.8 216.07L373.8 216.07Z" fill="#2E7D32"/><path d="M378.97 213.14L380.97 217.14L376.97 217.14Z" fill="#2E7D32"/><path d="M382.14 213.45L384.14 217.45L380.14 217.45Z" fill="#2E7D32"/><path d="M385.31 214.09L387.31 218.09L383.31 218.09Z" fill="#2E7D32"/><path d="M388.48 214.19L390.48 218.19L386.48 218.19Z" fill="#2E7D32"/><path d="M391.65 214.32L393.65 218.32L389.65 218.32Z" fill="#2E7D32"/><path d="M394.82 214.57L396.82 218.57L392.82 218.57Z" fill="#2E7D32"/><path d="M397.99 214.41L399.99 218.41L395.99 218.41Z" fill="#2E7D32"/><path d="M401.16 214.4L403.16 218.4L399.16 218.4Z" fill="#2E7D32"/><path d="M404.33 214.25L406.33 218.25L402.33 218.25Z" fill="#2E7D32"/><path d="M407.5 214.44L409.5 218.44L405.5 218.44Z" fill="#2E7D32"/><path d="M410.67 214.28L412.67 218.28L408.67 218.28Z" fill="#2E7D32"/><path d="M413.84 214.35L415.84 218.35L411.84 218.35Z" fill="#2E7D32"/><path d="M417.01 214.49L419.01 218.49L415.01 218.49Z" fill="#2E7D32"/><path d="M420.18 214.22L422.18 218.22L418.18 218.22Z" fill="#2E7D32"/><path d="M423.35 214.54L425.35 218.54L421.35 218.54Z" fill="#2E7D32"/><path d="M426.52 214.23L428.52 218.23L424.52 218.23Z" fill="#2E7D32"/><path d="M429.69 214.51L431.69 218.51L427.69 218.51Z" fill="#2E7D32"/><path d="M432.86 214.58L434.86 218.58L430.86 218.58Z" fill="#2E7D32"/><path d="M436.03 214.5L438.03 218.5L434.03 218.5Z" fill="#2E7D32"/><path d="M439.2 214.26L441.2 218.26L437.2 218.26Z" fill="#2E7D32"/><path d="M442.37 214.17L444.37 218.17L440.37 218.17Z" fill="#2E7D32"/><path d="M445.54 214.58L447.54 218.58L443.54 218.58Z" fill="#2E7D32"/><path d="M448.71 214.37L450.71 218.37L446.71 218.37Z" fill="#2E7D32"/><path d="M451.88 214.37L453.88 218.37L449.88 218.37Z" fill="#2E7D32"/><path d="M455.05 213.56L457.05 217.56L453.05 217.56Z" fill="#2E7D32"/><path d="M458.22 212.95L460.22 216.95L456.22 216.95Z" fill="#2E7D32"/><path d="M461.39 211.59L463.39 215.59L459.39 215.59Z" fill="#2E7D32"/><path d="M464.56 210.37L466.56 214.37L462.56 214.37Z" fill="#2E7D32"/><path d="M467.73 208.33L469.73 212.33L465.73 212.33Z" fill="#2E7D32"/><path d="M470.9 207.32L472.9 211.32L468.9 211.32Z" fill="#2E7D32"/><path d="M474.07 204.48L476.07 208.48L472.07 208.48Z" fill="#2E7D32"/><path d="M477.24 203.56L479.24 207.56L475.24 207.56Z" fill="#2E7D32"/><path d="M480.41 201.62L482.41 205.62L478.41 205.62Z" fill="#2E7D32"/><path d="M483.58 198.34L485.58 202.34L481.58 202.34Z" fill="#2E7D32"/><path d="M486.75 202.59L488.75 206.59L484.75 206.59Z" fill="#2E7D32"/><path d="M489.92 214.75L491.92 218.75L487.92 218.75Z" fill="#2E7D32"/><path d="M493.09 214.75L495.09 218.75L491.09 218.75Z" fill="#2E7D32"/><path d="M496.26 214.75L498.26 218.75L494.26 218.75Z" fill="#2E7D32"/><path d="M499.43 214.75L501.43 218.75L497.43 218.75Z" fill="#2E7D32"/><path d="M502.6 214.75L504.6 218.75L500.6 218.75Z" fill="#2E7D32"/><path d="M505.77 214.75L507.77 218.75L503.77 218.75Z" fill="#2E7D32"/><path d="M508.94 214.75L510.94 218.75L506.94 218.75Z" fill="#2E7D32"/><path d="M512.11 214.75L514.11 218.75L510.11 218.75Z" fill="#2E7D32"/><path d="M515.28 214.75L517.28 218.75L513.28 218.75Z" fill="#2E7D32"/><path d="M518.45 214.75L520.45 218.75L516.45 218.75Z" fill="#2E7D32"/><path d="M521.62 214.75L523.62 218.75L519.62 218.75Z" fill="#2E7D32"/><path d="M524.79 214.75L526.79 218.75L522.79 218.75Z" fill="#2E7D32"/><path d="M527.96 214.75L529.96 218.75L525.96 218.75Z" fill="#2E7D32"/><path d="M531.13 214.75L533.13 218.75L529.13 218.75Z" fill="#2E7D32"/><path d="M534.3 214.75L536.3 218.75L532.3 218.75Z" fill="#2E7D32"/><path d="M537.47 214.75L539.47 218.75L535.47 218.75Z" fill="#2E7D32"/><path d="M540.64 214.75L542.64 218.75L538.64 218.75Z" fill="#2E7D32"/></g></g>
<g id="RCASE33"><polyline points="344.1,178.8 347.3,102.8 350.4,119.8 353.6,159.8 356.8,185.4 360.0,199.5 363.1,205.7 366.3,209.0 369.5,211.3 372.6,213.4 375.8,214.7 379.0,215.5 382.1,216.0 385.3,216.3 388.5,216.4 391.7,216.4 394.8,216.4 398.0,216.4 401.2,216.4 404.3,216.4 407.5,216.4 410.7,216.4 413.8,216.4 417.0,216.4 420.2,216.4 423.4,216.4 426.5,216.4 429.7,216.4 432.9,216.4 436.0,216.4 439.2,216.4 442.4,216.0 445.5,215.2 448.7,213.7 451.9,211.8 455.1,209.5 458.2,206.9 461.4,202.3 464.6,198.1 467.7,194.7 470.9,190.5 474.1,187.1 477.2,184.1 480.4,181.0 483.6,173.4 486.8,189.0 489.9,216.8 493.1,216.8 496.3,216.8 499.4,216.8 502.6,216.8 505.8,216.8 508.9,216.8 512.1,216.8 515.3,216.8 518.5,216.8 521.6,216.8 524.8,216.8 528.0,216.8 531.1,216.8 534.3,216.8 537.5,216.8 540.6,216.8" fill="none" stroke="#5FB4F2" stroke-width="0.8" stroke-linejoin="round"/>
<g><path d="M342.3 176.95L345.9 180.55M342.3 180.55L345.9 176.95" stroke="#5FB4F2" stroke-width="0.7" fill="none"/><path d="M345.47 100.95L349.07 104.55M345.47 104.55L349.07 100.95" stroke="#5FB4F2" stroke-width="0.7" fill="none"/><path d="M348.64 118.05L352.24 121.65M348.64 121.65L352.24 118.05" stroke="#5FB4F2" stroke-width="0.7" fill="none"/><path d="M351.81 157.95L355.41 161.55M351.81 161.55L355.41 157.95" stroke="#5FB4F2" stroke-width="0.7" fill="none"/><path d="M354.98 183.6L358.58 187.2M354.98 187.2L358.58 183.6" stroke="#5FB4F2" stroke-width="0.7" fill="none"/><path d="M358.15 197.71L361.75 201.31M358.15 201.31L361.75 197.71" stroke="#5FB4F2" stroke-width="0.7" fill="none"/><path d="M361.32 203.91L364.92 207.51M361.32 207.51L364.92 203.91" stroke="#5FB4F2" stroke-width="0.7" fill="none"/><path d="M364.49 207.23L368.09 210.83M364.49 210.83L368.09 207.23" stroke="#5FB4F2" stroke-width="0.7" fill="none"/><path d="M367.66 209.54L371.26 213.14M367.66 213.14L371.26 209.54" stroke="#5FB4F2" stroke-width="0.7" fill="none"/><path d="M370.83 211.6L374.43 215.2M370.83 215.2L374.43 211.6" stroke="#5FB4F2" stroke-width="0.7" fill="none"/><path d="M374 212.87L377.6 216.47M374 216.47L377.6 212.87" stroke="#5FB4F2" stroke-width="0.7" fill="none"/><path d="M377.17 213.66L380.77 217.26M377.17 217.26L380.77 213.66" stroke="#5FB4F2" stroke-width="0.7" fill="none"/><path d="M380.34 214.15L383.94 217.75M380.34 217.75L383.94 214.15" stroke="#5FB4F2" stroke-width="0.7" fill="none"/><path d="M383.51 214.45L387.11 218.05M383.51 218.05L387.11 214.45" stroke="#5FB4F2" stroke-width="0.7" fill="none"/><path d="M386.68 214.57L390.28 218.17M386.68 218.17L390.28 214.57" stroke="#5FB4F2" stroke-width="0.7" fill="none"/><path d="M389.85 214.57L393.45 218.17M389.85 218.17L393.45 214.57" stroke="#5FB4F2" stroke-width="0.7" fill="none"/><path d="M393.02 214.57L396.62 218.17M393.02 218.17L396.62 214.57" stroke="#5FB4F2" stroke-width="0.7" fill="none"/><path d="M396.19 214.57L399.79 218.17M396.19 218.17L399.79 214.57" stroke="#5FB4F2" stroke-width="0.7" fill="none"/><path d="M399.36 214.57L402.96 218.17M399.36 218.17L402.96 214.57" stroke="#5FB4F2" stroke-width="0.7" fill="none"/><path d="M402.53 214.57L406.13 218.17M402.53 218.17L406.13 214.57" stroke="#5FB4F2" stroke-width="0.7" fill="none"/><path d="M405.7 214.57L409.3 218.17M405.7 218.17L409.3 214.57" stroke="#5FB4F2" stroke-width="0.7" fill="none"/><path d="M408.87 214.57L412.47 218.17M408.87 218.17L412.47 214.57" stroke="#5FB4F2" stroke-width="0.7" fill="none"/><path d="M412.04 214.57L415.64 218.17M412.04 218.17L415.64 214.57" stroke="#5FB4F2" stroke-width="0.7" fill="none"/><path d="M415.21 214.57L418.81 218.17M415.21 218.17L418.81 214.57" stroke="#5FB4F2" stroke-width="0.7" fill="none"/><path d="M418.38 214.57L421.98 218.17M418.38 218.17L421.98 214.57" stroke="#5FB4F2" stroke-width="0.7" fill="none"/><path d="M421.55 214.57L425.15 218.17M421.55 218.17L425.15 214.57" stroke="#5FB4F2" stroke-width="0.7" fill="none"/><path d="M424.72 214.57L428.32 218.17M424.72 218.17L428.32 214.57" stroke="#5FB4F2" stroke-width="0.7" fill="none"/><path d="M427.89 214.57L431.49 218.17M427.89 218.17L431.49 214.57" stroke="#5FB4F2" stroke-width="0.7" fill="none"/><path d="M431.06 214.57L434.66 218.17M431.06 218.17L434.66 214.57" stroke="#5FB4F2" stroke-width="0.7" fill="none"/><path d="M434.23 214.57L437.83 218.17M434.23 218.17L437.83 214.57" stroke="#5FB4F2" stroke-width="0.7" fill="none"/><path d="M437.4 214.57L441 218.17M437.4 218.17L441 214.57" stroke="#5FB4F2" stroke-width="0.7" fill="none"/><path d="M440.57 214.19L444.17 217.79M440.57 217.79L444.17 214.19" stroke="#5FB4F2" stroke-width="0.7" fill="none"/><path d="M443.74 213.43L447.34 217.03M443.74 217.03L447.34 213.43" stroke="#5FB4F2" stroke-width="0.7" fill="none"/><path d="M446.91 211.91L450.51 215.51M446.91 215.51L450.51 211.91" stroke="#5FB4F2" stroke-width="0.7" fill="none"/><path d="M450.08 210.01L453.68 213.61M450.08 213.61L453.68 210.01" stroke="#5FB4F2" stroke-width="0.7" fill="none"/><path d="M453.25 207.73L456.85 211.33M453.25 211.33L456.85 207.73" stroke="#5FB4F2" stroke-width="0.7" fill="none"/><path d="M456.42 205.07L460.02 208.67M456.42 208.67L460.02 205.07" stroke="#5FB4F2" stroke-width="0.7" fill="none"/><path d="M459.59 200.51L463.19 204.11M459.59 204.11L463.19 200.51" stroke="#5FB4F2" stroke-width="0.7" fill="none"/><path d="M462.76 196.33L466.36 199.93M462.76 199.93L466.36 196.33" stroke="#5FB4F2" stroke-width="0.7" fill="none"/><path d="M465.93 192.91L469.53 196.51M465.93 196.51L469.53 192.91" stroke="#5FB4F2" stroke-width="0.7" fill="none"/><path d="M469.1 188.73L472.7 192.33M469.1 192.33L472.7 188.73" stroke="#5FB4F2" stroke-width="0.7" fill="none"/><path d="M472.27 185.31L475.87 188.91M472.27 188.91L475.87 185.31" stroke="#5FB4F2" stroke-width="0.7" fill="none"/><path d="M475.44 182.27L479.04 185.87M475.44 185.87L479.04 182.27" stroke="#5FB4F2" stroke-width="0.7" fill="none"/><path d="M478.61 179.23L482.21 182.83M478.61 182.83L482.21 179.23" stroke="#5FB4F2" stroke-width="0.7" fill="none"/><path d="M481.78 171.63L485.38 175.23M481.78 175.23L485.38 171.63" stroke="#5FB4F2" stroke-width="0.7" fill="none"/><path d="M484.95 187.21L488.55 190.81M484.95 190.81L488.55 187.21" stroke="#5FB4F2" stroke-width="0.7" fill="none"/><path d="M488.12 214.95L491.72 218.55M488.12 218.55L491.72 214.95" stroke="#5FB4F2" stroke-width="0.7" fill="none"/><path d="M491.29 214.95L494.89 218.55M491.29 218.55L494.89 214.95" stroke="#5FB4F2" stroke-width="0.7" fill="none"/><path d="M494.46 214.95L498.06 218.55M494.46 218.55L498.06 214.95" stroke="#5FB4F2" stroke-width="0.7" fill="none"/><path d="M497.63 214.95L501.23 218.55M497.63 218.55L501.23 214.95" stroke="#5FB4F2" stroke-width="0.7" fill="none"/><path d="M500.8 214.95L504.4 218.55M500.8 218.55L504.4 214.95" stroke="#5FB4F2" stroke-width="0.7" fill="none"/><path d="M503.97 214.95L507.57 218.55M503.97 218.55L507.57 214.95" stroke="#5FB4F2" stroke-width="0.7" fill="none"/><path d="M507.14 214.95L510.74 218.55M507.14 218.55L510.74 214.95" stroke="#5FB4F2" stroke-width="0.7" fill="none"/><path d="M510.31 214.95L513.91 218.55M510.31 218.55L513.91 214.95" stroke="#5FB4F2" stroke-width="0.7" fill="none"/><path d="M513.48 214.95L517.08 218.55M513.48 218.55L517.08 214.95" stroke="#5FB4F2" stroke-width="0.7" fill="none"/><path d="M516.65 214.95L520.25 218.55M516.65 218.55L520.25 214.95" stroke="#5FB4F2" stroke-width="0.7" fill="none"/><path d="M519.82 214.95L523.42 218.55M519.82 218.55L523.42 214.95" stroke="#5FB4F2" stroke-width="0.7" fill="none"/><path d="M522.99 214.95L526.59 218.55M522.99 218.55L526.59 214.95" stroke="#5FB4F2" stroke-width="0.7" fill="none"/><path d="M526.16 214.95L529.76 218.55M526.16 218.55L529.76 214.95" stroke="#5FB4F2" stroke-width="0.7" fill="none"/><path d="M529.33 214.95L532.93 218.55M529.33 218.55L532.93 214.95" stroke="#5FB4F2" stroke-width="0.7" fill="none"/><path d="M532.5 214.95L536.1 218.55M532.5 218.55L536.1 214.95" stroke="#5FB4F2" stroke-width="0.7" fill="none"/><path d="M535.67 214.95L539.27 218.55M535.67 218.55L539.27 214.95" stroke="#5FB4F2" stroke-width="0.7" fill="none"/><path d="M538.84 214.95L542.44 218.55M538.84 218.55L542.44 214.95" stroke="#5FB4F2" stroke-width="0.7" fill="none"/></g></g>
<g id="RCASE34"><polyline points="344.1,195.8 347.3,159.8 350.4,163.6 353.6,183.4 356.8,197.6 360.0,207.1 363.1,209.8 366.3,211.9 369.5,213.3 372.6,214.7 375.8,215.6 379.0,216.0 382.1,216.3 385.3,216.2 388.5,216.5 391.7,216.2 394.8,216.6 398.0,216.5 401.2,216.5 404.3,216.2 407.5,216.4 410.7,216.4 413.8,216.2 417.0,216.5 420.2,216.4 423.4,216.4 426.5,216.3 429.7,216.3 432.9,216.3 436.0,216.4 439.2,216.4 442.4,216.5 445.5,216.2 448.7,216.3 451.9,216.3 455.1,216.5 458.2,216.4 461.4,215.8 464.6,215.1 467.7,214.5 470.9,213.2 474.1,211.6 477.2,210.9 480.4,209.6 483.6,207.9 486.8,210.4 489.9,216.8 493.1,216.8 496.3,216.8 499.4,216.8 502.6,216.8 505.8,216.8 508.9,216.8 512.1,216.8 515.3,216.8 518.5,216.8 521.6,216.8 524.8,216.8 528.0,216.8 531.1,216.8 534.3,216.8 537.5,216.8 540.6,216.8" fill="none" stroke="#F5A26F" stroke-width="0.92" stroke-linejoin="round"/>
<g><path d="M342.3 194.05L345.9 197.65M342.3 197.65L345.9 194.05M344.1 194.05L344.1 197.65" stroke="#F5A26F" stroke-width="0.7" fill="none"/><path d="M345.47 157.95L349.07 161.55M345.47 161.55L349.07 157.95M347.27 157.95L347.27 161.55" stroke="#F5A26F" stroke-width="0.7" fill="none"/><path d="M348.64 161.75L352.24 165.35M348.64 165.35L352.24 161.75M350.44 161.75L350.44 165.35" stroke="#F5A26F" stroke-width="0.7" fill="none"/><path d="M351.81 181.64L355.41 185.24M351.81 185.24L355.41 181.64M353.61 181.64L353.61 185.24" stroke="#F5A26F" stroke-width="0.7" fill="none"/><path d="M354.98 195.83L358.58 199.43M354.98 199.43L358.58 195.83M356.78 195.83L356.78 199.43" stroke="#F5A26F" stroke-width="0.7" fill="none"/><path d="M358.15 205.28L361.75 208.88M358.15 208.88L361.75 205.28M359.95 205.28L359.95 208.88" stroke="#F5A26F" stroke-width="0.7" fill="none"/><path d="M361.32 207.99L364.92 211.59M361.32 211.59L364.92 207.99M363.12 207.99L363.12 211.59" stroke="#F5A26F" stroke-width="0.7" fill="none"/><path d="M364.49 210.13L368.09 213.73M364.49 213.73L368.09 210.13M366.29 210.13L366.29 213.73" stroke="#F5A26F" stroke-width="0.7" fill="none"/><path d="M367.66 211.48L371.26 215.08M367.66 215.08L371.26 211.48M369.46 211.48L369.46 215.08" stroke="#F5A26F" stroke-width="0.7" fill="none"/><path d="M370.83 212.86L374.43 216.46M370.83 216.46L374.43 212.86M372.63 212.86L372.63 216.46" stroke="#F5A26F" stroke-width="0.7" fill="none"/><path d="M374 213.78L377.6 217.38M374 217.38L377.6 213.78M375.8 213.78L375.8 217.38" stroke="#F5A26F" stroke-width="0.7" fill="none"/><path d="M377.17 214.22L380.77 217.82M377.17 217.82L380.77 214.22M378.97 214.22L378.97 217.82" stroke="#F5A26F" stroke-width="0.7" fill="none"/><path d="M380.34 214.52L383.94 218.12M380.34 218.12L383.94 214.52M382.14 214.52L382.14 218.12" stroke="#F5A26F" stroke-width="0.7" fill="none"/><path d="M383.51 214.4L387.11 218M383.51 218L387.11 214.4M385.31 214.4L385.31 218" stroke="#F5A26F" stroke-width="0.7" fill="none"/><path d="M386.68 214.75L390.28 218.35M386.68 218.35L390.28 214.75M388.48 214.75L388.48 218.35" stroke="#F5A26F" stroke-width="0.7" fill="none"/><path d="M389.85 214.4L393.45 218M389.85 218L393.45 214.4M391.65 214.4L391.65 218" stroke="#F5A26F" stroke-width="0.7" fill="none"/><path d="M393.02 214.77L396.62 218.37M393.02 218.37L396.62 214.77M394.82 214.77L394.82 218.37" stroke="#F5A26F" stroke-width="0.7" fill="none"/><path d="M396.19 214.7L399.79 218.3M396.19 218.3L399.79 214.7M397.99 214.7L397.99 218.3" stroke="#F5A26F" stroke-width="0.7" fill="none"/><path d="M399.36 214.67L402.96 218.27M399.36 218.27L402.96 214.67M401.16 214.67L401.16 218.27" stroke="#F5A26F" stroke-width="0.7" fill="none"/><path d="M402.53 214.4L406.13 218M402.53 218L406.13 214.4M404.33 214.4L404.33 218" stroke="#F5A26F" stroke-width="0.7" fill="none"/><path d="M405.7 214.57L409.3 218.17M405.7 218.17L409.3 214.57M407.5 214.57L407.5 218.17" stroke="#F5A26F" stroke-width="0.7" fill="none"/><path d="M408.87 214.62L412.47 218.22M408.87 218.22L412.47 214.62M410.67 214.62L410.67 218.22" stroke="#F5A26F" stroke-width="0.7" fill="none"/><path d="M412.04 214.41L415.64 218.01M412.04 218.01L415.64 214.41M413.84 214.41L413.84 218.01" stroke="#F5A26F" stroke-width="0.7" fill="none"/><path d="M415.21 214.68L418.81 218.28M415.21 218.28L418.81 214.68M417.01 214.68L417.01 218.28" stroke="#F5A26F" stroke-width="0.7" fill="none"/><path d="M418.38 214.59L421.98 218.19M418.38 218.19L421.98 214.59M420.18 214.59L420.18 218.19" stroke="#F5A26F" stroke-width="0.7" fill="none"/><path d="M421.55 214.56L425.15 218.16M421.55 218.16L425.15 214.56M423.35 214.56L423.35 218.16" stroke="#F5A26F" stroke-width="0.7" fill="none"/><path d="M424.72 214.46L428.32 218.06M424.72 218.06L428.32 214.46M426.52 214.46L426.52 218.06" stroke="#F5A26F" stroke-width="0.7" fill="none"/><path d="M427.89 214.46L431.49 218.06M427.89 218.06L431.49 214.46M429.69 214.46L429.69 218.06" stroke="#F5A26F" stroke-width="0.7" fill="none"/><path d="M431.06 214.51L434.66 218.11M431.06 218.11L434.66 214.51M432.86 214.51L432.86 218.11" stroke="#F5A26F" stroke-width="0.7" fill="none"/><path d="M434.23 214.63L437.83 218.23M434.23 218.23L437.83 214.63M436.03 214.63L436.03 218.23" stroke="#F5A26F" stroke-width="0.7" fill="none"/><path d="M437.4 214.64L441 218.24M437.4 218.24L441 214.64M439.2 214.64L439.2 218.24" stroke="#F5A26F" stroke-width="0.7" fill="none"/><path d="M440.57 214.72L444.17 218.32M440.57 218.32L444.17 214.72M442.37 214.72L442.37 218.32" stroke="#F5A26F" stroke-width="0.7" fill="none"/><path d="M443.74 214.42L447.34 218.02M443.74 218.02L447.34 214.42M445.54 214.42L445.54 218.02" stroke="#F5A26F" stroke-width="0.7" fill="none"/><path d="M446.91 214.5L450.51 218.1M446.91 218.1L450.51 214.5M448.71 214.5L448.71 218.1" stroke="#F5A26F" stroke-width="0.7" fill="none"/><path d="M450.08 214.47L453.68 218.07M450.08 218.07L453.68 214.47M451.88 214.47L451.88 218.07" stroke="#F5A26F" stroke-width="0.7" fill="none"/><path d="M453.25 214.71L456.85 218.31M453.25 218.31L456.85 214.71M455.05 214.71L455.05 218.31" stroke="#F5A26F" stroke-width="0.7" fill="none"/><path d="M456.42 214.6L460.02 218.2M456.42 218.2L460.02 214.6M458.22 214.6L458.22 218.2" stroke="#F5A26F" stroke-width="0.7" fill="none"/><path d="M459.59 214L463.19 217.6M459.59 217.6L463.19 214M461.39 214L461.39 217.6" stroke="#F5A26F" stroke-width="0.7" fill="none"/><path d="M462.76 213.33L466.36 216.93M462.76 216.93L466.36 213.33M464.56 213.33L464.56 216.93" stroke="#F5A26F" stroke-width="0.7" fill="none"/><path d="M465.93 212.71L469.53 216.31M465.93 216.31L469.53 212.71M467.73 212.71L467.73 216.31" stroke="#F5A26F" stroke-width="0.7" fill="none"/><path d="M469.1 211.42L472.7 215.02M469.1 215.02L472.7 211.42M470.9 211.42L470.9 215.02" stroke="#F5A26F" stroke-width="0.7" fill="none"/><path d="M472.27 209.82L475.87 213.42M472.27 213.42L475.87 209.82M474.07 209.82L474.07 213.42" stroke="#F5A26F" stroke-width="0.7" fill="none"/><path d="M475.44 209.14L479.04 212.74M475.44 212.74L479.04 209.14M477.24 209.14L477.24 212.74" stroke="#F5A26F" stroke-width="0.7" fill="none"/><path d="M478.61 207.79L482.21 211.39M478.61 211.39L482.21 207.79M480.41 207.79L480.41 211.39" stroke="#F5A26F" stroke-width="0.7" fill="none"/><path d="M481.78 206.12L485.38 209.72M481.78 209.72L485.38 206.12M483.58 206.12L483.58 209.72" stroke="#F5A26F" stroke-width="0.7" fill="none"/><path d="M484.95 208.64L488.55 212.24M484.95 212.24L488.55 208.64M486.75 208.64L486.75 212.24" stroke="#F5A26F" stroke-width="0.7" fill="none"/><path d="M488.12 214.95L491.72 218.55M488.12 218.55L491.72 214.95M489.92 214.95L489.92 218.55" stroke="#F5A26F" stroke-width="0.7" fill="none"/><path d="M491.29 214.95L494.89 218.55M491.29 218.55L494.89 214.95M493.09 214.95L493.09 218.55" stroke="#F5A26F" stroke-width="0.7" fill="none"/><path d="M494.46 214.95L498.06 218.55M494.46 218.55L498.06 214.95M496.26 214.95L496.26 218.55" stroke="#F5A26F" stroke-width="0.7" fill="none"/><path d="M497.63 214.95L501.23 218.55M497.63 218.55L501.23 214.95M499.43 214.95L499.43 218.55" stroke="#F5A26F" stroke-width="0.7" fill="none"/><path d="M500.8 214.95L504.4 218.55M500.8 218.55L504.4 214.95M502.6 214.95L502.6 218.55" stroke="#F5A26F" stroke-width="0.7" fill="none"/><path d="M503.97 214.95L507.57 218.55M503.97 218.55L507.57 214.95M505.77 214.95L505.77 218.55" stroke="#F5A26F" stroke-width="0.7" fill="none"/><path d="M507.14 214.95L510.74 218.55M507.14 218.55L510.74 214.95M508.94 214.95L508.94 218.55" stroke="#F5A26F" stroke-width="0.7" fill="none"/><path d="M510.31 214.95L513.91 218.55M510.31 218.55L513.91 214.95M512.11 214.95L512.11 218.55" stroke="#F5A26F" stroke-width="0.7" fill="none"/><path d="M513.48 214.95L517.08 218.55M513.48 218.55L517.08 214.95M515.28 214.95L515.28 218.55" stroke="#F5A26F" stroke-width="0.7" fill="none"/><path d="M516.65 214.95L520.25 218.55M516.65 218.55L520.25 214.95M518.45 214.95L518.45 218.55" stroke="#F5A26F" stroke-width="0.7" fill="none"/><path d="M519.82 214.95L523.42 218.55M519.82 218.55L523.42 214.95M521.62 214.95L521.62 218.55" stroke="#F5A26F" stroke-width="0.7" fill="none"/><path d="M522.99 214.95L526.59 218.55M522.99 218.55L526.59 214.95M524.79 214.95L524.79 218.55" stroke="#F5A26F" stroke-width="0.7" fill="none"/><path d="M526.16 214.95L529.76 218.55M526.16 218.55L529.76 214.95M527.96 214.95L527.96 218.55" stroke="#F5A26F" stroke-width="0.7" fill="none"/><path d="M529.33 214.95L532.93 218.55M529.33 218.55L532.93 214.95M531.13 214.95L531.13 218.55" stroke="#F5A26F" stroke-width="0.7" fill="none"/><path d="M532.5 214.95L536.1 218.55M532.5 218.55L536.1 214.95M534.3 214.95L534.3 218.55" stroke="#F5A26F" stroke-width="0.7" fill="none"/><path d="M535.67 214.95L539.27 218.55M535.67 218.55L539.27 214.95M537.47 214.95L537.47 218.55" stroke="#F5A26F" stroke-width="0.7" fill="none"/><path d="M538.84 214.95L542.44 218.55M538.84 218.55L542.44 214.95M540.64 214.95L540.64 218.55" stroke="#F5A26F" stroke-width="0.7" fill="none"/></g></g>
<g id="RCASE35"><polyline points="344.1,197.8 347.3,144.6 350.4,152.2 353.6,176.1 356.8,195.6 360.0,205.3 363.1,209.4 366.3,211.5 369.5,212.9 372.6,214.6 375.8,215.4 379.0,216.0 382.1,216.0 385.3,216.3 388.5,216.5 391.7,216.2 394.8,216.5 398.0,216.4 401.2,216.2 404.3,216.2 407.5,216.3 410.7,216.4 413.8,216.5 417.0,216.3 420.2,216.5 423.4,216.5 426.5,216.4 429.7,216.6 432.9,216.4 436.0,216.2 439.2,216.3 442.4,216.4 445.5,216.3 448.7,216.4 451.9,216.5 455.1,216.3 458.2,216.4 461.4,215.9 464.6,215.1 467.7,214.5 470.9,213.4 474.1,212.2 477.2,211.2 480.4,210.2 483.6,208.1 486.8,210.6 489.9,216.8 493.1,216.8 496.3,216.8 499.4,216.8 502.6,216.8 505.8,216.8 508.9,216.8 512.1,216.8 515.3,216.8 518.5,216.8 521.6,216.8 524.8,216.8 528.0,216.8 531.1,216.8 534.3,216.8 537.5,216.8 540.6,216.8" fill="none" stroke="#B9B9B9" stroke-width="1.03" stroke-linejoin="round"/>
<g><circle cx="344.1" cy="197.75" r="1.8" fill="#B9B9B9"/><circle cx="347.27" cy="144.55" r="1.8" fill="#B9B9B9"/><circle cx="350.44" cy="152.15" r="1.8" fill="#B9B9B9"/><circle cx="353.61" cy="176.07" r="1.8" fill="#B9B9B9"/><circle cx="356.78" cy="195.59" r="1.8" fill="#B9B9B9"/><circle cx="359.95" cy="205.31" r="1.8" fill="#B9B9B9"/><circle cx="363.12" cy="209.36" r="1.8" fill="#B9B9B9"/><circle cx="366.29" cy="211.52" r="1.8" fill="#B9B9B9"/><circle cx="369.46" cy="212.95" r="1.8" fill="#B9B9B9"/><circle cx="372.63" cy="214.63" r="1.8" fill="#B9B9B9"/><circle cx="375.8" cy="215.39" r="1.8" fill="#B9B9B9"/><circle cx="378.97" cy="216" r="1.8" fill="#B9B9B9"/><circle cx="382.14" cy="215.98" r="1.8" fill="#B9B9B9"/><circle cx="385.31" cy="216.27" r="1.8" fill="#B9B9B9"/><circle cx="388.48" cy="216.54" r="1.8" fill="#B9B9B9"/><circle cx="391.65" cy="216.17" r="1.8" fill="#B9B9B9"/><circle cx="394.82" cy="216.54" r="1.8" fill="#B9B9B9"/><circle cx="397.99" cy="216.42" r="1.8" fill="#B9B9B9"/><circle cx="401.16" cy="216.16" r="1.8" fill="#B9B9B9"/><circle cx="404.33" cy="216.24" r="1.8" fill="#B9B9B9"/><circle cx="407.5" cy="216.27" r="1.8" fill="#B9B9B9"/><circle cx="410.67" cy="216.4" r="1.8" fill="#B9B9B9"/><circle cx="413.84" cy="216.5" r="1.8" fill="#B9B9B9"/><circle cx="417.01" cy="216.31" r="1.8" fill="#B9B9B9"/><circle cx="420.18" cy="216.54" r="1.8" fill="#B9B9B9"/><circle cx="423.35" cy="216.49" r="1.8" fill="#B9B9B9"/><circle cx="426.52" cy="216.42" r="1.8" fill="#B9B9B9"/><circle cx="429.69" cy="216.57" r="1.8" fill="#B9B9B9"/><circle cx="432.86" cy="216.41" r="1.8" fill="#B9B9B9"/><circle cx="436.03" cy="216.25" r="1.8" fill="#B9B9B9"/><circle cx="439.2" cy="216.29" r="1.8" fill="#B9B9B9"/><circle cx="442.37" cy="216.37" r="1.8" fill="#B9B9B9"/><circle cx="445.54" cy="216.31" r="1.8" fill="#B9B9B9"/><circle cx="448.71" cy="216.39" r="1.8" fill="#B9B9B9"/><circle cx="451.88" cy="216.52" r="1.8" fill="#B9B9B9"/><circle cx="455.05" cy="216.33" r="1.8" fill="#B9B9B9"/><circle cx="458.22" cy="216.41" r="1.8" fill="#B9B9B9"/><circle cx="461.39" cy="215.88" r="1.8" fill="#B9B9B9"/><circle cx="464.56" cy="215.08" r="1.8" fill="#B9B9B9"/><circle cx="467.73" cy="214.51" r="1.8" fill="#B9B9B9"/><circle cx="470.9" cy="213.43" r="1.8" fill="#B9B9B9"/><circle cx="474.07" cy="212.15" r="1.8" fill="#B9B9B9"/><circle cx="477.24" cy="211.24" r="1.8" fill="#B9B9B9"/><circle cx="480.41" cy="210.15" r="1.8" fill="#B9B9B9"/><circle cx="483.58" cy="208.08" r="1.8" fill="#B9B9B9"/><circle cx="486.75" cy="210.65" r="1.8" fill="#B9B9B9"/><circle cx="489.92" cy="216.75" r="1.8" fill="#B9B9B9"/><circle cx="493.09" cy="216.75" r="1.8" fill="#B9B9B9"/><circle cx="496.26" cy="216.75" r="1.8" fill="#B9B9B9"/><circle cx="499.43" cy="216.75" r="1.8" fill="#B9B9B9"/><circle cx="502.6" cy="216.75" r="1.8" fill="#B9B9B9"/><circle cx="505.77" cy="216.75" r="1.8" fill="#B9B9B9"/><circle cx="508.94" cy="216.75" r="1.8" fill="#B9B9B9"/><circle cx="512.11" cy="216.75" r="1.8" fill="#B9B9B9"/><circle cx="515.28" cy="216.75" r="1.8" fill="#B9B9B9"/><circle cx="518.45" cy="216.75" r="1.8" fill="#B9B9B9"/><circle cx="521.62" cy="216.75" r="1.8" fill="#B9B9B9"/><circle cx="524.79" cy="216.75" r="1.8" fill="#B9B9B9"/><circle cx="527.96" cy="216.75" r="1.8" fill="#B9B9B9"/><circle cx="531.13" cy="216.75" r="1.8" fill="#B9B9B9"/><circle cx="534.3" cy="216.75" r="1.8" fill="#B9B9B9"/><circle cx="537.47" cy="216.75" r="1.8" fill="#B9B9B9"/><circle cx="540.64" cy="216.75" r="1.8" fill="#B9B9B9"/></g></g>
<g id="RCASE36"><polyline points="344.1,186.3 347.3,129.3 350.4,138.8 353.6,168.6 356.8,190.2 360.0,201.6 363.1,207.3 366.3,210.1 369.5,212.3 372.6,214.1 375.8,214.9 379.0,215.9 382.1,216.1 385.3,216.2 388.5,216.3 391.7,216.3 394.8,216.5 398.0,216.4 401.2,216.4 404.3,216.3 407.5,216.4 410.7,216.3 413.8,216.2 417.0,216.5 420.2,216.3 423.4,216.3 426.5,216.4 429.7,216.4 432.9,216.2 436.0,216.6 439.2,216.4 442.4,216.5 445.5,216.3 448.7,216.2 451.9,216.4 455.1,216.1 458.2,215.0 461.4,214.0 464.6,212.7 467.7,211.6 470.9,209.9 474.1,208.1 477.2,206.8 480.4,205.2 483.6,202.2 486.8,207.3 489.9,216.8 493.1,216.8 496.3,216.8 499.4,216.8 502.6,216.8 505.8,216.8 508.9,216.8 512.1,216.8 515.3,216.8 518.5,216.8 521.6,216.8 524.8,216.8 528.0,216.8 531.1,216.8 534.3,216.8 537.5,216.8 540.6,216.8" fill="none" stroke="#FFD033" stroke-width="1.14" stroke-linejoin="round"/>
<g><path d="M342.3 186.35L345.9 186.35M344.1 184.55L344.1 188.15" stroke="#FFD033" stroke-width="0.8" fill="none"/><path d="M345.47 129.35L349.07 129.35M347.27 127.55L347.27 131.15" stroke="#FFD033" stroke-width="0.8" fill="none"/><path d="M348.64 138.85L352.24 138.85M350.44 137.05L350.44 140.65" stroke="#FFD033" stroke-width="0.8" fill="none"/><path d="M351.81 168.63L355.41 168.63M353.61 166.83L353.61 170.43" stroke="#FFD033" stroke-width="0.8" fill="none"/><path d="M354.98 190.17L358.58 190.17M356.78 188.37L356.78 191.97" stroke="#FFD033" stroke-width="0.8" fill="none"/><path d="M358.15 201.64L361.75 201.64M359.95 199.84L359.95 203.44" stroke="#FFD033" stroke-width="0.8" fill="none"/><path d="M361.32 207.29L364.92 207.29M363.12 205.49L363.12 209.09" stroke="#FFD033" stroke-width="0.8" fill="none"/><path d="M364.49 210.15L368.09 210.15M366.29 208.35L366.29 211.95" stroke="#FFD033" stroke-width="0.8" fill="none"/><path d="M367.66 212.29L371.26 212.29M369.46 210.49L369.46 214.09" stroke="#FFD033" stroke-width="0.8" fill="none"/><path d="M370.83 214.09L374.43 214.09M372.63 212.29L372.63 215.89" stroke="#FFD033" stroke-width="0.8" fill="none"/><path d="M374 214.94L377.6 214.94M375.8 213.14L375.8 216.74" stroke="#FFD033" stroke-width="0.8" fill="none"/><path d="M377.17 215.88L380.77 215.88M378.97 214.08L378.97 217.68" stroke="#FFD033" stroke-width="0.8" fill="none"/><path d="M380.34 216.12L383.94 216.12M382.14 214.32L382.14 217.92" stroke="#FFD033" stroke-width="0.8" fill="none"/><path d="M383.51 216.22L387.11 216.22M385.31 214.42L385.31 218.02" stroke="#FFD033" stroke-width="0.8" fill="none"/><path d="M386.68 216.28L390.28 216.28M388.48 214.48L388.48 218.08" stroke="#FFD033" stroke-width="0.8" fill="none"/><path d="M389.85 216.31L393.45 216.31M391.65 214.51L391.65 218.11" stroke="#FFD033" stroke-width="0.8" fill="none"/><path d="M393.02 216.48L396.62 216.48M394.82 214.68L394.82 218.28" stroke="#FFD033" stroke-width="0.8" fill="none"/><path d="M396.19 216.4L399.79 216.4M397.99 214.6L397.99 218.2" stroke="#FFD033" stroke-width="0.8" fill="none"/><path d="M399.36 216.39L402.96 216.39M401.16 214.59L401.16 218.19" stroke="#FFD033" stroke-width="0.8" fill="none"/><path d="M402.53 216.32L406.13 216.32M404.33 214.52L404.33 218.12" stroke="#FFD033" stroke-width="0.8" fill="none"/><path d="M405.7 216.41L409.3 216.41M407.5 214.61L407.5 218.21" stroke="#FFD033" stroke-width="0.8" fill="none"/><path d="M408.87 216.3L412.47 216.3M410.67 214.5L410.67 218.1" stroke="#FFD033" stroke-width="0.8" fill="none"/><path d="M412.04 216.19L415.64 216.19M413.84 214.39L413.84 217.99" stroke="#FFD033" stroke-width="0.8" fill="none"/><path d="M415.21 216.5L418.81 216.5M417.01 214.7L417.01 218.3" stroke="#FFD033" stroke-width="0.8" fill="none"/><path d="M418.38 216.3L421.98 216.3M420.18 214.5L420.18 218.1" stroke="#FFD033" stroke-width="0.8" fill="none"/><path d="M421.55 216.25L425.15 216.25M423.35 214.45L423.35 218.05" stroke="#FFD033" stroke-width="0.8" fill="none"/><path d="M424.72 216.42L428.32 216.42M426.52 214.62L426.52 218.22" stroke="#FFD033" stroke-width="0.8" fill="none"/><path d="M427.89 216.37L431.49 216.37M429.69 214.57L429.69 218.17" stroke="#FFD033" stroke-width="0.8" fill="none"/><path d="M431.06 216.17L434.66 216.17M432.86 214.37L432.86 217.97" stroke="#FFD033" stroke-width="0.8" fill="none"/><path d="M434.23 216.57L437.83 216.57M436.03 214.77L436.03 218.37" stroke="#FFD033" stroke-width="0.8" fill="none"/><path d="M437.4 216.35L441 216.35M439.2 214.55L439.2 218.15" stroke="#FFD033" stroke-width="0.8" fill="none"/><path d="M440.57 216.51L444.17 216.51M442.37 214.71L442.37 218.31" stroke="#FFD033" stroke-width="0.8" fill="none"/><path d="M443.74 216.25L447.34 216.25M445.54 214.45L445.54 218.05" stroke="#FFD033" stroke-width="0.8" fill="none"/><path d="M446.91 216.18L450.51 216.18M448.71 214.38L448.71 217.98" stroke="#FFD033" stroke-width="0.8" fill="none"/><path d="M450.08 216.36L453.68 216.36M451.88 214.56L451.88 218.16" stroke="#FFD033" stroke-width="0.8" fill="none"/><path d="M453.25 216.05L456.85 216.05M455.05 214.25L455.05 217.85" stroke="#FFD033" stroke-width="0.8" fill="none"/><path d="M456.42 215L460.02 215M458.22 213.2L458.22 216.8" stroke="#FFD033" stroke-width="0.8" fill="none"/><path d="M459.59 214.01L463.19 214.01M461.39 212.21L461.39 215.81" stroke="#FFD033" stroke-width="0.8" fill="none"/><path d="M462.76 212.69L466.36 212.69M464.56 210.89L464.56 214.49" stroke="#FFD033" stroke-width="0.8" fill="none"/><path d="M465.93 211.55L469.53 211.55M467.73 209.75L467.73 213.35" stroke="#FFD033" stroke-width="0.8" fill="none"/><path d="M469.1 209.95L472.7 209.95M470.9 208.15L470.9 211.75" stroke="#FFD033" stroke-width="0.8" fill="none"/><path d="M472.27 208.08L475.87 208.08M474.07 206.28L474.07 209.88" stroke="#FFD033" stroke-width="0.8" fill="none"/><path d="M475.44 206.79L479.04 206.79M477.24 204.99L477.24 208.59" stroke="#FFD033" stroke-width="0.8" fill="none"/><path d="M478.61 205.17L482.21 205.17M480.41 203.37L480.41 206.97" stroke="#FFD033" stroke-width="0.8" fill="none"/><path d="M481.78 202.16L485.38 202.16M483.58 200.36L483.58 203.96" stroke="#FFD033" stroke-width="0.8" fill="none"/><path d="M484.95 207.32L488.55 207.32M486.75 205.52L486.75 209.12" stroke="#FFD033" stroke-width="0.8" fill="none"/><path d="M488.12 216.75L491.72 216.75M489.92 214.95L489.92 218.55" stroke="#FFD033" stroke-width="0.8" fill="none"/><path d="M491.29 216.75L494.89 216.75M493.09 214.95L493.09 218.55" stroke="#FFD033" stroke-width="0.8" fill="none"/><path d="M494.46 216.75L498.06 216.75M496.26 214.95L496.26 218.55" stroke="#FFD033" stroke-width="0.8" fill="none"/><path d="M497.63 216.75L501.23 216.75M499.43 214.95L499.43 218.55" stroke="#FFD033" stroke-width="0.8" fill="none"/><path d="M500.8 216.75L504.4 216.75M502.6 214.95L502.6 218.55" stroke="#FFD033" stroke-width="0.8" fill="none"/><path d="M503.97 216.75L507.57 216.75M505.77 214.95L505.77 218.55" stroke="#FFD033" stroke-width="0.8" fill="none"/><path d="M507.14 216.75L510.74 216.75M508.94 214.95L508.94 218.55" stroke="#FFD033" stroke-width="0.8" fill="none"/><path d="M510.31 216.75L513.91 216.75M512.11 214.95L512.11 218.55" stroke="#FFD033" stroke-width="0.8" fill="none"/><path d="M513.48 216.75L517.08 216.75M515.28 214.95L515.28 218.55" stroke="#FFD033" stroke-width="0.8" fill="none"/><path d="M516.65 216.75L520.25 216.75M518.45 214.95L518.45 218.55" stroke="#FFD033" stroke-width="0.8" fill="none"/><path d="M519.82 216.75L523.42 216.75M521.62 214.95L521.62 218.55" stroke="#FFD033" stroke-width="0.8" fill="none"/><path d="M522.99 216.75L526.59 216.75M524.79 214.95L524.79 218.55" stroke="#FFD033" stroke-width="0.8" fill="none"/><path d="M526.16 216.75L529.76 216.75M527.96 214.95L527.96 218.55" stroke="#FFD033" stroke-width="0.8" fill="none"/><path d="M529.33 216.75L532.93 216.75M531.13 214.95L531.13 218.55" stroke="#FFD033" stroke-width="0.8" fill="none"/><path d="M532.5 216.75L536.1 216.75M534.3 214.95L534.3 218.55" stroke="#FFD033" stroke-width="0.8" fill="none"/><path d="M535.67 216.75L539.27 216.75M537.47 214.95L537.47 218.55" stroke="#FFD033" stroke-width="0.8" fill="none"/><path d="M538.84 216.75L542.44 216.75M540.64 214.95L540.64 218.55" stroke="#FFD033" stroke-width="0.8" fill="none"/></g></g>
<g id="RCASE37"><polyline points="344.1,182.6 347.3,114.2 350.4,127.5 353.6,163.1 356.8,187.7 360.0,200.1 363.1,207.1 366.3,208.9 369.5,211.8 372.6,214.0 375.8,214.9 379.0,215.6 382.1,216.2 385.3,216.3 388.5,216.4 391.7,216.3 394.8,216.4 398.0,216.5 401.2,216.5 404.3,216.3 407.5,216.2 410.7,216.4 413.8,216.5 417.0,216.2 420.2,216.4 423.4,216.5 426.5,216.5 429.7,216.3 432.9,216.2 436.0,216.3 439.2,216.4 442.4,216.3 445.5,216.5 448.7,216.2 451.9,216.4 455.1,216.3 458.2,215.7 461.4,214.8 464.6,214.0 467.7,212.9 470.9,211.3 474.1,210.3 477.2,207.8 480.4,206.7 483.6,203.9 486.8,208.0 489.9,216.8 493.1,216.8 496.3,216.8 499.4,216.8 502.6,216.8 505.8,216.8 508.9,216.8 512.1,216.8 515.3,216.8 518.5,216.8 521.6,216.8 524.8,216.8 528.0,216.8 531.1,216.8 534.3,216.8 537.5,216.8 540.6,216.8" fill="none" stroke="#4A8FDD" stroke-width="0.92" stroke-linejoin="round"/>
<g><path d="M342.42 182.55L345.78 182.55" stroke="#4A8FDD" stroke-width="1.2" fill="none"/><path d="M345.59 114.15L348.95 114.15" stroke="#4A8FDD" stroke-width="1.2" fill="none"/><path d="M348.76 127.45L352.12 127.45" stroke="#4A8FDD" stroke-width="1.2" fill="none"/><path d="M351.93 163.13L355.29 163.13" stroke="#4A8FDD" stroke-width="1.2" fill="none"/><path d="M355.1 187.74L358.46 187.74" stroke="#4A8FDD" stroke-width="1.2" fill="none"/><path d="M358.27 200.06L361.63 200.06" stroke="#4A8FDD" stroke-width="1.2" fill="none"/><path d="M361.44 207.06L364.8 207.06" stroke="#4A8FDD" stroke-width="1.2" fill="none"/><path d="M364.61 208.94L367.97 208.94" stroke="#4A8FDD" stroke-width="1.2" fill="none"/><path d="M367.78 211.85L371.14 211.85" stroke="#4A8FDD" stroke-width="1.2" fill="none"/><path d="M370.95 213.96L374.31 213.96" stroke="#4A8FDD" stroke-width="1.2" fill="none"/><path d="M374.12 214.95L377.48 214.95" stroke="#4A8FDD" stroke-width="1.2" fill="none"/><path d="M377.29 215.6L380.65 215.6" stroke="#4A8FDD" stroke-width="1.2" fill="none"/><path d="M380.46 216.23L383.82 216.23" stroke="#4A8FDD" stroke-width="1.2" fill="none"/><path d="M383.63 216.32L386.99 216.32" stroke="#4A8FDD" stroke-width="1.2" fill="none"/><path d="M386.8 216.4L390.16 216.4" stroke="#4A8FDD" stroke-width="1.2" fill="none"/><path d="M389.97 216.29L393.33 216.29" stroke="#4A8FDD" stroke-width="1.2" fill="none"/><path d="M393.14 216.43L396.5 216.43" stroke="#4A8FDD" stroke-width="1.2" fill="none"/><path d="M396.31 216.47L399.67 216.47" stroke="#4A8FDD" stroke-width="1.2" fill="none"/><path d="M399.48 216.49L402.84 216.49" stroke="#4A8FDD" stroke-width="1.2" fill="none"/><path d="M402.65 216.27L406.01 216.27" stroke="#4A8FDD" stroke-width="1.2" fill="none"/><path d="M405.82 216.18L409.18 216.18" stroke="#4A8FDD" stroke-width="1.2" fill="none"/><path d="M408.99 216.36L412.35 216.36" stroke="#4A8FDD" stroke-width="1.2" fill="none"/><path d="M412.16 216.49L415.52 216.49" stroke="#4A8FDD" stroke-width="1.2" fill="none"/><path d="M415.33 216.24L418.69 216.24" stroke="#4A8FDD" stroke-width="1.2" fill="none"/><path d="M418.5 216.42L421.86 216.42" stroke="#4A8FDD" stroke-width="1.2" fill="none"/><path d="M421.67 216.49L425.03 216.49" stroke="#4A8FDD" stroke-width="1.2" fill="none"/><path d="M424.84 216.53L428.2 216.53" stroke="#4A8FDD" stroke-width="1.2" fill="none"/><path d="M428.01 216.25L431.37 216.25" stroke="#4A8FDD" stroke-width="1.2" fill="none"/><path d="M431.18 216.24L434.54 216.24" stroke="#4A8FDD" stroke-width="1.2" fill="none"/><path d="M434.35 216.31L437.71 216.31" stroke="#4A8FDD" stroke-width="1.2" fill="none"/><path d="M437.52 216.38L440.88 216.38" stroke="#4A8FDD" stroke-width="1.2" fill="none"/><path d="M440.69 216.34L444.05 216.34" stroke="#4A8FDD" stroke-width="1.2" fill="none"/><path d="M443.86 216.49L447.22 216.49" stroke="#4A8FDD" stroke-width="1.2" fill="none"/><path d="M447.03 216.17L450.39 216.17" stroke="#4A8FDD" stroke-width="1.2" fill="none"/><path d="M450.2 216.43L453.56 216.43" stroke="#4A8FDD" stroke-width="1.2" fill="none"/><path d="M453.37 216.31L456.73 216.31" stroke="#4A8FDD" stroke-width="1.2" fill="none"/><path d="M456.54 215.67L459.9 215.67" stroke="#4A8FDD" stroke-width="1.2" fill="none"/><path d="M459.71 214.79L463.07 214.79" stroke="#4A8FDD" stroke-width="1.2" fill="none"/><path d="M462.88 213.97L466.24 213.97" stroke="#4A8FDD" stroke-width="1.2" fill="none"/><path d="M466.05 212.92L469.41 212.92" stroke="#4A8FDD" stroke-width="1.2" fill="none"/><path d="M469.22 211.33L472.58 211.33" stroke="#4A8FDD" stroke-width="1.2" fill="none"/><path d="M472.39 210.33L475.75 210.33" stroke="#4A8FDD" stroke-width="1.2" fill="none"/><path d="M475.56 207.77L478.92 207.77" stroke="#4A8FDD" stroke-width="1.2" fill="none"/><path d="M478.73 206.71L482.09 206.71" stroke="#4A8FDD" stroke-width="1.2" fill="none"/><path d="M481.9 203.95L485.26 203.95" stroke="#4A8FDD" stroke-width="1.2" fill="none"/><path d="M485.07 207.97L488.43 207.97" stroke="#4A8FDD" stroke-width="1.2" fill="none"/><path d="M488.24 216.75L491.6 216.75" stroke="#4A8FDD" stroke-width="1.2" fill="none"/><path d="M491.41 216.75L494.77 216.75" stroke="#4A8FDD" stroke-width="1.2" fill="none"/><path d="M494.58 216.75L497.94 216.75" stroke="#4A8FDD" stroke-width="1.2" fill="none"/><path d="M497.75 216.75L501.11 216.75" stroke="#4A8FDD" stroke-width="1.2" fill="none"/><path d="M500.92 216.75L504.28 216.75" stroke="#4A8FDD" stroke-width="1.2" fill="none"/><path d="M504.09 216.75L507.45 216.75" stroke="#4A8FDD" stroke-width="1.2" fill="none"/><path d="M507.26 216.75L510.62 216.75" stroke="#4A8FDD" stroke-width="1.2" fill="none"/><path d="M510.43 216.75L513.79 216.75" stroke="#4A8FDD" stroke-width="1.2" fill="none"/><path d="M513.6 216.75L516.96 216.75" stroke="#4A8FDD" stroke-width="1.2" fill="none"/><path d="M516.77 216.75L520.13 216.75" stroke="#4A8FDD" stroke-width="1.2" fill="none"/><path d="M519.94 216.75L523.3 216.75" stroke="#4A8FDD" stroke-width="1.2" fill="none"/><path d="M523.11 216.75L526.47 216.75" stroke="#4A8FDD" stroke-width="1.2" fill="none"/><path d="M526.28 216.75L529.64 216.75" stroke="#4A8FDD" stroke-width="1.2" fill="none"/><path d="M529.45 216.75L532.81 216.75" stroke="#4A8FDD" stroke-width="1.2" fill="none"/><path d="M532.62 216.75L535.98 216.75" stroke="#4A8FDD" stroke-width="1.2" fill="none"/><path d="M535.79 216.75L539.15 216.75" stroke="#4A8FDD" stroke-width="1.2" fill="none"/><path d="M538.96 216.75L542.32 216.75" stroke="#4A8FDD" stroke-width="1.2" fill="none"/></g></g>
<g id="RCASE38"><polyline points="344.1,188.2 347.3,136.9 350.4,144.6 353.6,173.3 356.8,193.3 360.0,203.7 363.1,208.7 366.3,211.4 369.5,212.4 372.6,214.3 375.8,215.3 379.0,215.9 382.1,216.1 385.3,216.4 388.5,216.3 391.7,216.3 394.8,216.4 398.0,216.2 401.2,216.2 404.3,216.6 407.5,216.2 410.7,216.2 413.8,216.2 417.0,216.5 420.2,216.2 423.4,216.3 426.5,216.6 429.7,216.6 432.9,216.2 436.0,216.3 439.2,216.5 442.4,216.5 445.5,216.5 448.7,216.5 451.9,216.3 455.1,216.4 458.2,216.1 461.4,215.0 464.6,214.1 467.7,213.5 470.9,211.7 474.1,210.6 477.2,208.9 480.4,207.5 483.6,205.5 486.8,208.8 489.9,216.8 493.1,216.8 496.3,216.8 499.4,216.8 502.6,216.8 505.8,216.8 508.9,216.8 512.1,216.8 515.3,216.8 518.5,216.8 521.6,216.8 524.8,216.8 528.0,216.8 531.1,216.8 534.3,216.8 537.5,216.8 540.6,216.8" fill="none" stroke="#7FCF6E" stroke-width="1.14" stroke-linejoin="round"/></g>
<g id="RCASE39"><polyline points="344.1,165.4 347.3,93.2 350.4,94.4 353.6,144.6 356.8,177.0 360.0,194.9 363.1,202.8 366.3,207.0 369.5,209.9 372.6,212.5 375.8,214.1 379.0,215.1 382.1,215.7 385.3,216.1 388.5,216.4 391.7,216.4 394.8,216.4 398.0,216.4 401.2,216.4 404.3,216.4 407.5,216.4 410.7,216.4 413.8,216.4 417.0,216.4 420.2,216.4 423.4,216.4 426.5,216.4 429.7,216.4 432.9,216.4 436.0,216.4 439.2,216.4 442.4,216.4 445.5,216.4 448.7,215.6 451.9,214.8 455.1,213.7 458.2,212.6 461.4,211.1 464.6,209.5 467.7,208.0 470.9,206.5 474.1,204.6 477.2,202.3 480.4,200.0 483.6,195.8 486.8,189.0 489.9,216.8 493.1,216.8 496.3,216.8 499.4,216.8 502.6,216.8 505.8,216.8 508.9,216.8 512.1,216.8 515.3,216.8 518.5,216.8 521.6,216.8 524.8,216.8 528.0,216.8 531.1,216.8 534.3,216.8 537.5,216.8 540.6,216.8" fill="none" stroke="#1C80D4" stroke-width="1.26" stroke-linejoin="round"/>
<g><path d="M344.1 163.4L346.15 165.45L344.1 167.5L342.05 165.45Z" fill="#1C80D4"/><path d="M347.27 91.2L349.32 93.25L347.27 95.3L345.22 93.25Z" fill="#1C80D4"/><path d="M350.44 92.34L352.49 94.39L350.44 96.44L348.39 94.39Z" fill="#1C80D4"/><path d="M353.61 142.5L355.66 144.55L353.61 146.6L351.56 144.55Z" fill="#1C80D4"/><path d="M356.78 174.99L358.83 177.04L356.78 179.09L354.73 177.04Z" fill="#1C80D4"/><path d="M359.95 192.86L362 194.91L359.95 196.96L357.9 194.91Z" fill="#1C80D4"/><path d="M363.12 200.72L365.17 202.77L363.12 204.82L361.07 202.77Z" fill="#1C80D4"/><path d="M366.29 204.92L368.34 206.97L366.29 209.02L364.24 206.97Z" fill="#1C80D4"/><path d="M369.46 207.85L371.51 209.9L369.46 211.95L367.41 209.9Z" fill="#1C80D4"/><path d="M372.63 210.45L374.68 212.5L372.63 214.55L370.58 212.5Z" fill="#1C80D4"/><path d="M375.8 212.07L377.85 214.12L375.8 216.17L373.75 214.12Z" fill="#1C80D4"/><path d="M378.97 213.07L381.02 215.12L378.97 217.17L376.92 215.12Z" fill="#1C80D4"/><path d="M382.14 213.69L384.19 215.74L382.14 217.79L380.09 215.74Z" fill="#1C80D4"/><path d="M385.31 214.07L387.36 216.12L385.31 218.17L383.26 216.12Z" fill="#1C80D4"/><path d="M388.48 214.31L390.53 216.36L388.48 218.41L386.43 216.36Z" fill="#1C80D4"/><path d="M391.65 214.32L393.7 216.37L391.65 218.42L389.6 216.37Z" fill="#1C80D4"/><path d="M394.82 214.32L396.87 216.37L394.82 218.42L392.77 216.37Z" fill="#1C80D4"/><path d="M397.99 214.32L400.04 216.37L397.99 218.42L395.94 216.37Z" fill="#1C80D4"/><path d="M401.16 214.32L403.21 216.37L401.16 218.42L399.11 216.37Z" fill="#1C80D4"/><path d="M404.33 214.32L406.38 216.37L404.33 218.42L402.28 216.37Z" fill="#1C80D4"/><path d="M407.5 214.32L409.55 216.37L407.5 218.42L405.45 216.37Z" fill="#1C80D4"/><path d="M410.67 214.32L412.72 216.37L410.67 218.42L408.62 216.37Z" fill="#1C80D4"/><path d="M413.84 214.32L415.89 216.37L413.84 218.42L411.79 216.37Z" fill="#1C80D4"/><path d="M417.01 214.32L419.06 216.37L417.01 218.42L414.96 216.37Z" fill="#1C80D4"/><path d="M420.18 214.32L422.23 216.37L420.18 218.42L418.13 216.37Z" fill="#1C80D4"/><path d="M423.35 214.32L425.4 216.37L423.35 218.42L421.3 216.37Z" fill="#1C80D4"/><path d="M426.52 214.32L428.57 216.37L426.52 218.42L424.47 216.37Z" fill="#1C80D4"/><path d="M429.69 214.32L431.74 216.37L429.69 218.42L427.64 216.37Z" fill="#1C80D4"/><path d="M432.86 214.32L434.91 216.37L432.86 218.42L430.81 216.37Z" fill="#1C80D4"/><path d="M436.03 214.32L438.08 216.37L436.03 218.42L433.98 216.37Z" fill="#1C80D4"/><path d="M439.2 214.32L441.25 216.37L439.2 218.42L437.15 216.37Z" fill="#1C80D4"/><path d="M442.37 214.32L444.42 216.37L442.37 218.42L440.32 216.37Z" fill="#1C80D4"/><path d="M445.54 214.32L447.59 216.37L445.54 218.42L443.49 216.37Z" fill="#1C80D4"/><path d="M448.71 213.56L450.76 215.61L448.71 217.66L446.66 215.61Z" fill="#1C80D4"/><path d="M451.88 212.8L453.93 214.85L451.88 216.9L449.83 214.85Z" fill="#1C80D4"/><path d="M455.05 211.66L457.1 213.71L455.05 215.76L453 213.71Z" fill="#1C80D4"/><path d="M458.22 210.52L460.27 212.57L458.22 214.62L456.17 212.57Z" fill="#1C80D4"/><path d="M461.39 209L463.44 211.05L461.39 213.1L459.34 211.05Z" fill="#1C80D4"/><path d="M464.56 207.48L466.61 209.53L464.56 211.58L462.51 209.53Z" fill="#1C80D4"/><path d="M467.73 205.96L469.78 208.01L467.73 210.06L465.68 208.01Z" fill="#1C80D4"/><path d="M470.9 204.44L472.95 206.49L470.9 208.54L468.85 206.49Z" fill="#1C80D4"/><path d="M474.07 202.54L476.12 204.59L474.07 206.64L472.02 204.59Z" fill="#1C80D4"/><path d="M477.24 200.26L479.29 202.31L477.24 204.36L475.19 202.31Z" fill="#1C80D4"/><path d="M480.41 197.98L482.46 200.03L480.41 202.08L478.36 200.03Z" fill="#1C80D4"/><path d="M483.58 193.8L485.63 195.85L483.58 197.9L481.53 195.85Z" fill="#1C80D4"/><path d="M486.75 186.96L488.8 189.01L486.75 191.06L484.7 189.01Z" fill="#1C80D4"/><path d="M489.92 214.7L491.97 216.75L489.92 218.8L487.87 216.75Z" fill="#1C80D4"/><path d="M493.09 214.7L495.14 216.75L493.09 218.8L491.04 216.75Z" fill="#1C80D4"/><path d="M496.26 214.7L498.31 216.75L496.26 218.8L494.21 216.75Z" fill="#1C80D4"/><path d="M499.43 214.7L501.48 216.75L499.43 218.8L497.38 216.75Z" fill="#1C80D4"/><path d="M502.6 214.7L504.65 216.75L502.6 218.8L500.55 216.75Z" fill="#1C80D4"/><path d="M505.77 214.7L507.82 216.75L505.77 218.8L503.72 216.75Z" fill="#1C80D4"/><path d="M508.94 214.7L510.99 216.75L508.94 218.8L506.89 216.75Z" fill="#1C80D4"/><path d="M512.11 214.7L514.16 216.75L512.11 218.8L510.06 216.75Z" fill="#1C80D4"/><path d="M515.28 214.7L517.33 216.75L515.28 218.8L513.23 216.75Z" fill="#1C80D4"/><path d="M518.45 214.7L520.5 216.75L518.45 218.8L516.4 216.75Z" fill="#1C80D4"/><path d="M521.62 214.7L523.67 216.75L521.62 218.8L519.57 216.75Z" fill="#1C80D4"/><path d="M524.79 214.7L526.84 216.75L524.79 218.8L522.74 216.75Z" fill="#1C80D4"/><path d="M527.96 214.7L530.01 216.75L527.96 218.8L525.91 216.75Z" fill="#1C80D4"/><path d="M531.13 214.7L533.18 216.75L531.13 218.8L529.08 216.75Z" fill="#1C80D4"/><path d="M534.3 214.7L536.35 216.75L534.3 218.8L532.25 216.75Z" fill="#1C80D4"/><path d="M537.47 214.7L539.52 216.75L537.47 218.8L535.42 216.75Z" fill="#1C80D4"/><path d="M540.64 214.7L542.69 216.75L540.64 218.8L538.59 216.75Z" fill="#1C80D4"/></g></g>
<g id="RCASE40"><polyline points="344.1,195.1 347.3,170.0 350.4,174.9 353.6,187.9 356.8,202.0 360.0,208.0 363.1,211.3 366.3,212.7 369.5,214.1 372.6,214.9 375.8,215.7 379.0,216.2 382.1,216.5 385.3,216.5 388.5,216.4 391.7,216.6 394.8,216.4 398.0,216.5 401.2,216.4 404.3,216.4 407.5,216.4 410.7,216.2 413.8,216.6 417.0,216.2 420.2,216.4 423.4,216.3 426.5,216.3 429.7,216.2 432.9,216.4 436.0,216.4 439.2,216.2 442.4,216.6 445.5,216.3 448.7,216.3 451.9,216.6 455.1,216.1 458.2,215.5 461.4,214.7 464.6,214.3 467.7,212.9 470.9,212.3 474.1,211.3 477.2,209.7 480.4,209.5 483.6,207.3 486.8,210.5 489.9,216.8 493.1,216.8 496.3,216.8 499.4,216.8 502.6,216.8 505.8,216.8 508.9,216.8 512.1,216.8 515.3,216.8 518.5,216.8 521.6,216.8 524.8,216.8 528.0,216.8 531.1,216.8 534.3,216.8 537.5,216.8 540.6,216.8" fill="none" stroke="#ED6B1E" stroke-width="1.32" stroke-linejoin="round"/>
<g><rect x="342.45" y="193.44" width="3.3" height="3.3" fill="#ED6B1E"/><rect x="345.62" y="168.36" width="3.3" height="3.3" fill="#ED6B1E"/><rect x="348.79" y="173.3" width="3.3" height="3.3" fill="#ED6B1E"/><rect x="351.96" y="186.21" width="3.3" height="3.3" fill="#ED6B1E"/><rect x="355.13" y="200.31" width="3.3" height="3.3" fill="#ED6B1E"/><rect x="358.3" y="206.32" width="3.3" height="3.3" fill="#ED6B1E"/><rect x="361.47" y="209.62" width="3.3" height="3.3" fill="#ED6B1E"/><rect x="364.64" y="211.09" width="3.3" height="3.3" fill="#ED6B1E"/><rect x="367.81" y="212.48" width="3.3" height="3.3" fill="#ED6B1E"/><rect x="370.98" y="213.22" width="3.3" height="3.3" fill="#ED6B1E"/><rect x="374.15" y="214.05" width="3.3" height="3.3" fill="#ED6B1E"/><rect x="377.32" y="214.57" width="3.3" height="3.3" fill="#ED6B1E"/><rect x="380.49" y="214.82" width="3.3" height="3.3" fill="#ED6B1E"/><rect x="383.66" y="214.87" width="3.3" height="3.3" fill="#ED6B1E"/><rect x="386.83" y="214.72" width="3.3" height="3.3" fill="#ED6B1E"/><rect x="390" y="214.91" width="3.3" height="3.3" fill="#ED6B1E"/><rect x="393.17" y="214.73" width="3.3" height="3.3" fill="#ED6B1E"/><rect x="396.34" y="214.87" width="3.3" height="3.3" fill="#ED6B1E"/><rect x="399.51" y="214.72" width="3.3" height="3.3" fill="#ED6B1E"/><rect x="402.68" y="214.72" width="3.3" height="3.3" fill="#ED6B1E"/><rect x="405.85" y="214.7" width="3.3" height="3.3" fill="#ED6B1E"/><rect x="409.02" y="214.57" width="3.3" height="3.3" fill="#ED6B1E"/><rect x="412.19" y="214.93" width="3.3" height="3.3" fill="#ED6B1E"/><rect x="415.36" y="214.57" width="3.3" height="3.3" fill="#ED6B1E"/><rect x="418.53" y="214.73" width="3.3" height="3.3" fill="#ED6B1E"/><rect x="421.7" y="214.69" width="3.3" height="3.3" fill="#ED6B1E"/><rect x="424.87" y="214.65" width="3.3" height="3.3" fill="#ED6B1E"/><rect x="428.04" y="214.58" width="3.3" height="3.3" fill="#ED6B1E"/><rect x="431.21" y="214.77" width="3.3" height="3.3" fill="#ED6B1E"/><rect x="434.38" y="214.75" width="3.3" height="3.3" fill="#ED6B1E"/><rect x="437.55" y="214.52" width="3.3" height="3.3" fill="#ED6B1E"/><rect x="440.72" y="214.9" width="3.3" height="3.3" fill="#ED6B1E"/><rect x="443.89" y="214.66" width="3.3" height="3.3" fill="#ED6B1E"/><rect x="447.06" y="214.66" width="3.3" height="3.3" fill="#ED6B1E"/><rect x="450.23" y="214.92" width="3.3" height="3.3" fill="#ED6B1E"/><rect x="453.4" y="214.45" width="3.3" height="3.3" fill="#ED6B1E"/><rect x="456.57" y="213.86" width="3.3" height="3.3" fill="#ED6B1E"/><rect x="459.74" y="213.04" width="3.3" height="3.3" fill="#ED6B1E"/><rect x="462.91" y="212.63" width="3.3" height="3.3" fill="#ED6B1E"/><rect x="466.08" y="211.26" width="3.3" height="3.3" fill="#ED6B1E"/><rect x="469.25" y="210.67" width="3.3" height="3.3" fill="#ED6B1E"/><rect x="472.42" y="209.64" width="3.3" height="3.3" fill="#ED6B1E"/><rect x="475.59" y="208.02" width="3.3" height="3.3" fill="#ED6B1E"/><rect x="478.76" y="207.88" width="3.3" height="3.3" fill="#ED6B1E"/><rect x="481.93" y="205.66" width="3.3" height="3.3" fill="#ED6B1E"/><rect x="485.1" y="208.88" width="3.3" height="3.3" fill="#ED6B1E"/><rect x="488.27" y="215.1" width="3.3" height="3.3" fill="#ED6B1E"/><rect x="491.44" y="215.1" width="3.3" height="3.3" fill="#ED6B1E"/><rect x="494.61" y="215.1" width="3.3" height="3.3" fill="#ED6B1E"/><rect x="497.78" y="215.1" width="3.3" height="3.3" fill="#ED6B1E"/><rect x="500.95" y="215.1" width="3.3" height="3.3" fill="#ED6B1E"/><rect x="504.12" y="215.1" width="3.3" height="3.3" fill="#ED6B1E"/><rect x="507.29" y="215.1" width="3.3" height="3.3" fill="#ED6B1E"/><rect x="510.46" y="215.1" width="3.3" height="3.3" fill="#ED6B1E"/><rect x="513.63" y="215.1" width="3.3" height="3.3" fill="#ED6B1E"/><rect x="516.8" y="215.1" width="3.3" height="3.3" fill="#ED6B1E"/><rect x="519.97" y="215.1" width="3.3" height="3.3" fill="#ED6B1E"/><rect x="523.14" y="215.1" width="3.3" height="3.3" fill="#ED6B1E"/><rect x="526.31" y="215.1" width="3.3" height="3.3" fill="#ED6B1E"/><rect x="529.48" y="215.1" width="3.3" height="3.3" fill="#ED6B1E"/><rect x="532.65" y="215.1" width="3.3" height="3.3" fill="#ED6B1E"/><rect x="535.82" y="215.1" width="3.3" height="3.3" fill="#ED6B1E"/><rect x="538.99" y="215.1" width="3.3" height="3.3" fill="#ED6B1E"/></g></g>
<line x1="251" x2="263" y1="14.50" y2="14.50" stroke="#2E9BE6" stroke-width="1.1"/>
<circle cx="257" cy="14.5" r="2.02" fill="#2E9BE6"/>
<text x="264" y="16.70" font-family="Liberation Sans, sans-serif" font-size="6.2" fill="#2b2b2b" stroke="#2b2b2b" stroke-width="0.12" textLength="18.5" lengthAdjust="spacingAndGlyphs">CASE21</text>
<line x1="251" x2="263" y1="24.75" y2="24.75" stroke="#ED7D31" stroke-width="1.1"/>
<rect x="255.22" y="22.96" width="3.57" height="3.57" fill="#ED7D31"/>
<text x="264" y="26.95" font-family="Liberation Sans, sans-serif" font-size="6.2" fill="#2b2b2b" stroke="#2b2b2b" stroke-width="0.12" textLength="18.5" lengthAdjust="spacingAndGlyphs">CASE22</text>
<line x1="251" x2="263" y1="35.00" y2="35.00" stroke="#A5A5A5" stroke-width="1.0"/>
<path d="M257 33.01L259 36.99L255 36.99Z" fill="#A5A5A5"/>
<text x="264" y="37.20" font-family="Liberation Sans, sans-serif" font-size="6.2" fill="#2b2b2b" stroke="#2b2b2b" stroke-width="0.12" textLength="18.5" lengthAdjust="spacingAndGlyphs">CASE23</text>
<line x1="251" x2="263" y1="45.25" y2="45.25" stroke="#FFC000" stroke-width="1.1"/>
<path d="M254.98 43.23L259.02 47.27M254.98 47.27L259.02 43.23" stroke="#FFC000" stroke-width="0.7" fill="none"/>
<text x="264" y="47.45" font-family="Liberation Sans, sans-serif" font-size="6.2" fill="#2b2b2b" stroke="#2b2b2b" stroke-width="0.12" textLength="18.5" lengthAdjust="spacingAndGlyphs">CASE24</text>
<line x1="251" x2="263" y1="55.50" y2="55.50" stroke="#3C78D8" stroke-width="0.92"/>
<path d="M254.98 53.48L259.02 57.52M254.98 57.52L259.02 53.48M257 53.48L257 57.52" stroke="#3C78D8" stroke-width="0.7" fill="none"/>
<text x="264" y="57.70" font-family="Liberation Sans, sans-serif" font-size="6.2" fill="#2b2b2b" stroke="#2b2b2b" stroke-width="0.12" textLength="18.5" lengthAdjust="spacingAndGlyphs">CASE25</text>
<line x1="251" x2="263" y1="65.75" y2="65.75" stroke="#4CAF3C" stroke-width="1.1"/>
<circle cx="257" cy="65.75" r="2.02" fill="#4CAF3C"/>
<text x="264" y="67.95" font-family="Liberation Sans, sans-serif" font-size="6.2" fill="#2b2b2b" stroke="#2b2b2b" stroke-width="0.12" textLength="18.5" lengthAdjust="spacingAndGlyphs">CASE26</text>
<line x1="251" x2="263" y1="76.00" y2="76.00" stroke="#2F8BD0" stroke-width="1.1"/>
<path d="M254.98 76L259.02 76M257 73.98L257 78.02" stroke="#2F8BD0" stroke-width="0.8" fill="none"/>
<text x="264" y="78.20" font-family="Liberation Sans, sans-serif" font-size="6.2" fill="#2b2b2b" stroke="#2b2b2b" stroke-width="0.12" textLength="18.5" lengthAdjust="spacingAndGlyphs">CASE27</text>
<line x1="251" x2="263" y1="86.25" y2="86.25" stroke="#D2561E" stroke-width="1.1"/>
<path d="M255.11 86.25L258.89 86.25" stroke="#D2561E" stroke-width="1.2" fill="none"/>
<text x="264" y="88.45" font-family="Liberation Sans, sans-serif" font-size="6.2" fill="#2b2b2b" stroke="#2b2b2b" stroke-width="0.12" textLength="18.5" lengthAdjust="spacingAndGlyphs">CASE28</text>
<line x1="251" x2="263" y1="96.50" y2="96.50" stroke="#6B6B6B" stroke-width="1.03"/>
<path d="M255.11 96.5L258.89 96.5" stroke="#6B6B6B" stroke-width="1.2" fill="none"/>
<text x="264" y="98.70" font-family="Liberation Sans, sans-serif" font-size="6.2" fill="#2b2b2b" stroke="#2b2b2b" stroke-width="0.12" textLength="18.5" lengthAdjust="spacingAndGlyphs">CASE29</text>
<line x1="251" x2="263" y1="106.75" y2="106.75" stroke="#B47C12" stroke-width="1.1"/>
<path d="M257 104.65L259.1 106.75L257 108.85L254.9 106.75Z" fill="#B47C12"/>
<text x="264" y="108.95" font-family="Liberation Sans, sans-serif" font-size="6.2" fill="#2b2b2b" stroke="#2b2b2b" stroke-width="0.12" textLength="18.5" lengthAdjust="spacingAndGlyphs">CASE30</text>
<line x1="251" x2="263" y1="117.00" y2="117.00" stroke="#1F4E96" stroke-width="1.1"/>
<rect x="255.22" y="115.22" width="3.57" height="3.57" fill="#1F4E96"/>
<text x="264" y="119.20" font-family="Liberation Sans, sans-serif" font-size="6.2" fill="#2b2b2b" stroke="#2b2b2b" stroke-width="0.12" textLength="18.5" lengthAdjust="spacingAndGlyphs">CASE31</text>
<line x1="251" x2="263" y1="127.25" y2="127.25" stroke="#2E7D32" stroke-width="1.1"/>
<path d="M257 125.15L259.1 129.35L254.9 129.35Z" fill="#2E7D32"/>
<text x="264" y="129.45" font-family="Liberation Sans, sans-serif" font-size="6.2" fill="#2b2b2b" stroke="#2b2b2b" stroke-width="0.12" textLength="18.5" lengthAdjust="spacingAndGlyphs">CASE32</text>
<line x1="251" x2="263" y1="137.50" y2="137.50" stroke="#5FB4F2" stroke-width="0.9"/>
<path d="M255.11 135.61L258.89 139.39M255.11 139.39L258.89 135.61" stroke="#5FB4F2" stroke-width="0.7" fill="none"/>
<text x="264" y="139.70" font-family="Liberation Sans, sans-serif" font-size="6.2" fill="#2b2b2b" stroke="#2b2b2b" stroke-width="0.12" textLength="18.5" lengthAdjust="spacingAndGlyphs">CASE33</text>
<line x1="251" x2="263" y1="147.75" y2="147.75" stroke="#F5A26F" stroke-width="0.92"/>
<path d="M255.11 145.86L258.89 149.64M255.11 149.64L258.89 145.86M257 145.86L257 149.64" stroke="#F5A26F" stroke-width="0.7" fill="none"/>
<text x="264" y="149.95" font-family="Liberation Sans, sans-serif" font-size="6.2" fill="#2b2b2b" stroke="#2b2b2b" stroke-width="0.12" textLength="18.5" lengthAdjust="spacingAndGlyphs">CASE34</text>
<line x1="251" x2="263" y1="158.00" y2="158.00" stroke="#B9B9B9" stroke-width="1.03"/>
<circle cx="257" cy="158" r="1.89" fill="#B9B9B9"/>
<text x="264" y="160.20" font-family="Liberation Sans, sans-serif" font-size="6.2" fill="#2b2b2b" stroke="#2b2b2b" stroke-width="0.12" textLength="18.5" lengthAdjust="spacingAndGlyphs">CASE35</text>
<line x1="251" x2="263" y1="168.25" y2="168.25" stroke="#FFD033" stroke-width="1.1"/>
<path d="M255.11 168.25L258.89 168.25M257 166.36L257 170.14" stroke="#FFD033" stroke-width="0.8" fill="none"/>
<text x="264" y="170.45" font-family="Liberation Sans, sans-serif" font-size="6.2" fill="#2b2b2b" stroke="#2b2b2b" stroke-width="0.12" textLength="18.5" lengthAdjust="spacingAndGlyphs">CASE36</text>
<line x1="251" x2="263" y1="178.50" y2="178.50" stroke="#4A8FDD" stroke-width="0.92"/>
<path d="M255.24 178.5L258.76 178.5" stroke="#4A8FDD" stroke-width="1.2" fill="none"/>
<text x="264" y="180.70" font-family="Liberation Sans, sans-serif" font-size="6.2" fill="#2b2b2b" stroke="#2b2b2b" stroke-width="0.12" textLength="18.5" lengthAdjust="spacingAndGlyphs">CASE37</text>
<line x1="251" x2="263" y1="188.75" y2="188.75" stroke="#7FCF6E" stroke-width="1.1"/>

<text x="264" y="190.95" font-family="Liberation Sans, sans-serif" font-size="6.2" fill="#2b2b2b" stroke="#2b2b2b" stroke-width="0.12" textLength="18.5" lengthAdjust="spacingAndGlyphs">CASE38</text>
<line x1="251" x2="263" y1="199.00" y2="199.00" stroke="#1C80D4" stroke-width="1.1"/>
<path d="M257 196.85L259.15 199L257 201.15L254.85 199Z" fill="#1C80D4"/>
<text x="264" y="201.20" font-family="Liberation Sans, sans-serif" font-size="6.2" fill="#2b2b2b" stroke="#2b2b2b" stroke-width="0.12" textLength="18.5" lengthAdjust="spacingAndGlyphs">CASE39</text>
<line x1="251" x2="263" y1="209.25" y2="209.25" stroke="#ED6B1E" stroke-width="1.1"/>
<rect x="255.27" y="207.52" width="3.46" height="3.46" fill="#ED6B1E"/>
<text x="264" y="211.45" font-family="Liberation Sans, sans-serif" font-size="6.2" fill="#2b2b2b" stroke="#2b2b2b" stroke-width="0.12" textLength="18.5" lengthAdjust="spacingAndGlyphs">CASE40</text>
<text x="144.4" y="15.7" font-family="Liberation Serif, serif" font-size="11.5" font-weight="bold" text-anchor="middle" letter-spacing="0.9" fill="#111" stroke="#111" stroke-width="0.3">NO DENOISER</text>
<text x="449.2" y="16.5" font-family="Liberation Serif, serif" font-size="11.5" font-weight="bold" text-anchor="middle" letter-spacing="0.68" fill="#111" stroke="#111" stroke-width="0.3">ATV DENOISER</text>
<text x="35" y="56.87" font-family="Liberation Serif, serif" font-size="8" text-anchor="end" letter-spacing="0.3" fill="#666">900</text>
<text x="35" y="111.19" font-family="Liberation Serif, serif" font-size="8" text-anchor="end" letter-spacing="0.3" fill="#666">600</text>
<text x="35" y="165.52" font-family="Liberation Serif, serif" font-size="8" text-anchor="end" letter-spacing="0.3" fill="#666">300</text>
<text x="35" y="218.6" font-family="Liberation Serif, serif" font-size="7.5" text-anchor="end" fill="#666">-</text>
<text x="337.7" y="29.55" font-family="Liberation Serif, serif" font-size="8" font-weight="bold" text-anchor="end" letter-spacing="0.6" fill="#555">500</text>
<text x="337.7" y="67.55" font-family="Liberation Serif, serif" font-size="8" font-weight="bold" text-anchor="end" letter-spacing="0.6" fill="#555">400</text>
<text x="337.7" y="105.55" font-family="Liberation Serif, serif" font-size="8" font-weight="bold" text-anchor="end" letter-spacing="0.6" fill="#555">300</text>
<text x="337.7" y="143.55" font-family="Liberation Serif, serif" font-size="8" font-weight="bold" text-anchor="end" letter-spacing="0.6" fill="#555">200</text>
<text x="337.7" y="181.55" font-family="Liberation Serif, serif" font-size="8" font-weight="bold" text-anchor="end" letter-spacing="0.6" fill="#555">100</text>
<text x="337.7" y="219.55" font-family="Liberation Serif, serif" font-size="8" font-weight="bold" text-anchor="end" letter-spacing="0.6" fill="#555">0</text>
<text x="46.70" y="229.8" font-family="Liberation Serif, serif" font-size="8" font-weight="bold" text-anchor="middle" letter-spacing="1" fill="#1a1a1a" stroke="#1a1a1a" stroke-width="0.25">0.00</text>
<text x="344.70" y="229.7" font-family="Liberation Serif, serif" font-size="8" font-weight="bold" text-anchor="middle" letter-spacing="1" fill="#1a1a1a" stroke="#1a1a1a" stroke-width="0.25">0.00</text>
<text x="77.74" y="229.8" font-family="Liberation Serif, serif" font-size="8" font-weight="bold" text-anchor="middle" letter-spacing="1" fill="#1a1a1a" stroke="#1a1a1a" stroke-width="0.25">0.16</text>
<text x="376.38" y="229.7" font-family="Liberation Serif, serif" font-size="8" font-weight="bold" text-anchor="middle" letter-spacing="1" fill="#1a1a1a" stroke="#1a1a1a" stroke-width="0.25">0.16</text>
<text x="108.78" y="229.8" font-family="Liberation Serif, serif" font-size="8" font-weight="bold" text-anchor="middle" letter-spacing="1" fill="#1a1a1a" stroke="#1a1a1a" stroke-width="0.25">0.31</text>
<text x="408.06" y="229.7" font-family="Liberation Serif, serif" font-size="8" font-weight="bold" text-anchor="middle" letter-spacing="1" fill="#1a1a1a" stroke="#1a1a1a" stroke-width="0.25">0.31</text>
<text x="139.82" y="229.8" font-family="Liberation Serif, serif" font-size="8" font-weight="bold" text-anchor="middle" letter-spacing="1" fill="#1a1a1a" stroke="#1a1a1a" stroke-width="0.25">0.47</text>
<text x="439.74" y="229.7" font-family="Liberation Serif, serif" font-size="8" font-weight="bold" text-anchor="middle" letter-spacing="1" fill="#1a1a1a" stroke="#1a1a1a" stroke-width="0.25">0.47</text>
<text x="170.86" y="229.8" font-family="Liberation Serif, serif" font-size="8" font-weight="bold" text-anchor="middle" letter-spacing="1" fill="#1a1a1a" stroke="#1a1a1a" stroke-width="0.25">0.63</text>
<text x="471.42" y="229.7" font-family="Liberation Serif, serif" font-size="8" font-weight="bold" text-anchor="middle" letter-spacing="1" fill="#1a1a1a" stroke="#1a1a1a" stroke-width="0.25">0.63</text>
<text x="201.90" y="229.8" font-family="Liberation Serif, serif" font-size="8" font-weight="bold" text-anchor="middle" letter-spacing="1" fill="#1a1a1a" stroke="#1a1a1a" stroke-width="0.25">0.79</text>
<text x="503.10" y="229.7" font-family="Liberation Serif, serif" font-size="8" font-weight="bold" text-anchor="middle" letter-spacing="1" fill="#1a1a1a" stroke="#1a1a1a" stroke-width="0.25">0.79</text>
<text x="232.94" y="229.8" font-family="Liberation Serif, serif" font-size="8" font-weight="bold" text-anchor="middle" letter-spacing="1" fill="#1a1a1a" stroke="#1a1a1a" stroke-width="0.25">0.94</text>
<text x="534.78" y="229.7" font-family="Liberation Serif, serif" font-size="8" font-weight="bold" text-anchor="middle" letter-spacing="1" fill="#1a1a1a" stroke="#1a1a1a" stroke-width="0.25">0.94</text>
<text x="141.6" y="240" font-family="Liberation Serif, serif" font-size="8.2" font-weight="bold" text-anchor="middle" letter-spacing="0.05" fill="#111" stroke="#111" stroke-width="0.2">Spatial frequency (mm<tspan font-size="5" dy="-3">-1</tspan><tspan dy="3">)</tspan></text>
<text x="442.3" y="240" font-family="Liberation Serif, serif" font-size="8.05" font-weight="bold" text-anchor="middle" letter-spacing="0.05" fill="#111" stroke="#111" stroke-width="0.2">Spatial frequency (mm<tspan font-size="5" dy="-3">-1</tspan><tspan dy="3">)</tspan></text>
<text transform="translate(13.3,125) rotate(-90)" font-family="Liberation Serif, serif" font-size="8.5" font-weight="bold" text-anchor="middle" letter-spacing="0.5" fill="#111" stroke="#111" stroke-width="0.2">NPS (HU<tspan font-size="5" dy="-3">2</tspan><tspan dy="3">mm</tspan><tspan font-size="5" dy="-3">2</tspan><tspan dy="3">)</tspan></text>
<text transform="translate(319.6,122) rotate(-90)" font-family="Liberation Serif, serif" font-size="8.3" font-weight="bold" text-anchor="middle" letter-spacing="0.45" fill="#111" stroke="#111" stroke-width="0.2">NPS (HU<tspan font-size="5" dy="-3">2</tspan><tspan dy="3">mm</tspan><tspan font-size="5" dy="-3">2</tspan><tspan dy="3">)</tspan></text>
<text x="143" y="254" font-family="Liberation Serif, serif" font-size="12.5" text-anchor="middle" fill="#111">(d)</text>
<text x="427.6" y="255.5" font-family="Liberation Serif, serif" font-size="12.5" text-anchor="middle" fill="#111">(e)</text>
</svg>
</body></html>
